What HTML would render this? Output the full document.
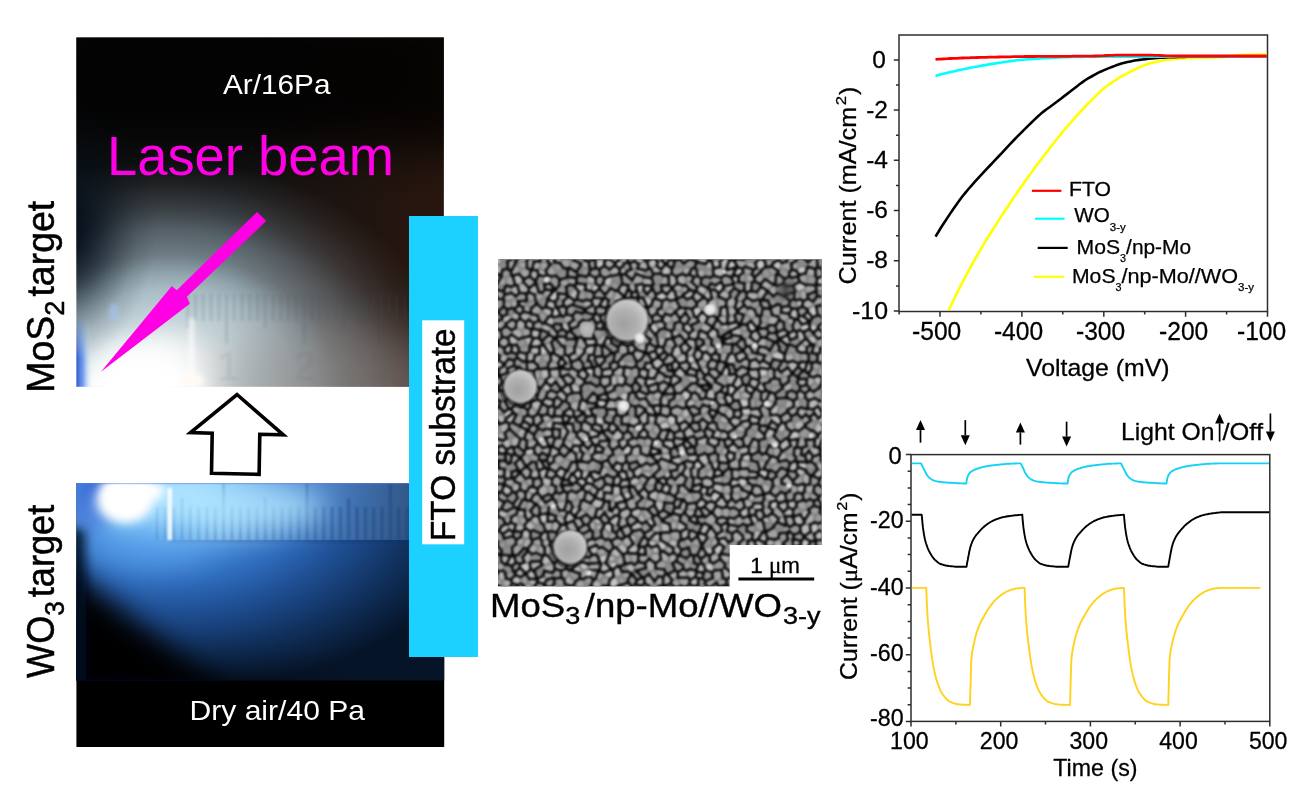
<!DOCTYPE html>
<html lang="en"><head><meta charset="utf-8"><title>Graphical abstract</title>
<style>
html,body{margin:0;padding:0;background:#fff;}
body{width:1299px;height:796px;overflow:hidden;font-family:"Liberation Sans",Arial,sans-serif;}
svg{display:block;}
</style></head><body>
<svg width="1299" height="796" viewBox="0 0 1299 796">
<rect width="1299" height="796" fill="#fff"/>
<defs>
<clipPath id="cpTop"><rect x="76.4" y="37.5" width="367.4" height="349.3"/></clipPath>
<clipPath id="cpBot"><rect x="76.4" y="483" width="367.8" height="197.5"/></clipPath>
<radialGradient id="gHaze" gradientUnits="userSpaceOnUse" cx="0" cy="0" r="1" gradientTransform="translate(168 395) scale(290 235)">
<stop offset="0" stop-color="#ffffff"/>
<stop offset="0.2" stop-color="#f0f3f3"/>
<stop offset="0.32" stop-color="#c6d5da"/>
<stop offset="0.45" stop-color="#a9bcc4"/>
<stop offset="0.52" stop-color="#8fa3ac"/>
<stop offset="0.6" stop-color="#6d7b82"/>
<stop offset="0.7" stop-color="#556168"/>
<stop offset="0.8" stop-color="#373d41"/>
<stop offset="0.9" stop-color="#212426"/>
<stop offset="1" stop-color="#111212"/>
</radialGradient>
<linearGradient id="gBrown" x1="230" y1="0" x2="444" y2="0" gradientUnits="userSpaceOnUse">
<stop offset="0" stop-color="#4a1c08" stop-opacity="0"/>
<stop offset="1" stop-color="#4a1c08" stop-opacity="0.42"/>
</linearGradient>
<radialGradient id="gLD" gradientUnits="userSpaceOnUse" cx="0" cy="0" r="1" gradientTransform="translate(64 228) scale(92 135)">
<stop offset="0" stop-color="#050e1a" stop-opacity="0.96"/>
<stop offset="0.2" stop-color="#050e1a" stop-opacity="0.9"/>
<stop offset="0.4" stop-color="#06101c" stop-opacity="0.66"/>
<stop offset="0.6" stop-color="#06101c" stop-opacity="0.36"/>
<stop offset="0.8" stop-color="#06101c" stop-opacity="0.12"/>
<stop offset="1" stop-color="#06101c" stop-opacity="0"/>
</radialGradient>
<linearGradient id="gBlueEdge" x1="76" y1="0" x2="92" y2="0" gradientUnits="userSpaceOnUse">
<stop offset="0" stop-color="#2c58c8" stop-opacity="1"/>
<stop offset="0.45" stop-color="#6a98f0" stop-opacity="0.9"/>
<stop offset="1" stop-color="#dfeaff" stop-opacity="0"/>
</linearGradient>
<linearGradient id="gBlueEdgeV" x1="0" y1="315" x2="0" y2="387" gradientUnits="userSpaceOnUse">
<stop offset="0" stop-color="#fff" stop-opacity="0"/>
<stop offset="0.6" stop-color="#fff" stop-opacity="1"/>
</linearGradient>
<mask id="mBlueEdge"><rect x="70" y="290" width="40" height="100" fill="url(#gBlueEdgeV)"/></mask>
<radialGradient id="bGlow" gradientUnits="userSpaceOnUse" cx="0" cy="0" r="1" gradientTransform="translate(165 492) scale(325 200)">
<stop offset="0" stop-color="#9cdcff"/>
<stop offset="0.15" stop-color="#74bcf6"/>
<stop offset="0.3" stop-color="#4a8edc"/>
<stop offset="0.45" stop-color="#2f6cbc"/>
<stop offset="0.6" stop-color="#1f4f94"/>
<stop offset="0.8" stop-color="#10305c"/>
<stop offset="1" stop-color="#061428"/>
</radialGradient>
<linearGradient id="bBand" x1="76" y1="0" x2="444" y2="0" gradientUnits="userSpaceOnUse">
<stop offset="0.2" stop-color="#c4ecff" stop-opacity="0"/>
<stop offset="0.32" stop-color="#c4ecff" stop-opacity="0.4"/>
<stop offset="0.6" stop-color="#a8d4f8" stop-opacity="0.28"/>
<stop offset="1" stop-color="#9cc8f0" stop-opacity="0.2"/>
</linearGradient>
<filter id="blur1" filterUnits="userSpaceOnUse" x="0" y="0" width="620" height="796"><feGaussianBlur stdDeviation="0.9"/></filter>
<filter id="blur2" filterUnits="userSpaceOnUse" x="0" y="0" width="620" height="796"><feGaussianBlur stdDeviation="2.2"/></filter>
<filter id="blur5" filterUnits="userSpaceOnUse" x="0" y="0" width="620" height="796"><feGaussianBlur stdDeviation="5"/></filter>
<filter id="blur8" filterUnits="userSpaceOnUse" x="0" y="0" width="620" height="796"><feGaussianBlur stdDeviation="8"/></filter>
<filter id="blur14" filterUnits="userSpaceOnUse" x="0" y="0" width="620" height="796"><feGaussianBlur stdDeviation="14"/></filter>
<filter id="blur25" filterUnits="userSpaceOnUse" x="0" y="0" width="620" height="796"><feGaussianBlur stdDeviation="25"/></filter>
</defs>
<g clip-path="url(#cpTop)">
<rect x="76" y="37" width="369" height="351" fill="url(#gHaze)"/>
<ellipse cx="330" cy="392" rx="150" ry="62" fill="#9aa0a2" fill-opacity="0.62" filter="url(#blur25)"/>
<rect x="76" y="37" width="369" height="351" fill="url(#gBrown)"/>
<rect x="40" y="0" width="440" height="150" fill="#000" fill-opacity="0.85" filter="url(#blur25)"/>
<rect x="76" y="80" width="120" height="300" fill="url(#gLD)"/>
<path d="M187.8 294V328M195.5 294V321M203.3 294V321M211.0 294V321M218.8 294V321M226.5 294V343.5M234.2 294V321M242.0 294V321M249.7 294V321M257.5 294V321M265.2 294V328M272.9 294V321M280.7 294V321M288.4 294V321M296.2 294V321M303.9 294V343.5M311.6 294V321M319.4 294V321M327.1 294V321M334.9 294V321M342.6 294V328M350.3 294V321M358.1 294V321M365.8 294V321M373.6 294V321M381.3 294V343.5M389.0 294V321M396.8 294V321M404.5 294V321M412.3 294V321M420.0 294V328M427.7 294V321M435.5 294V321" stroke="#34465a" stroke-opacity="0.12" stroke-width="3.4" fill="none" filter="url(#blur1)"/>
<text x="228" y="380" font-size="40" text-anchor="middle" fill="#46586a" fill-opacity="0.10" font-family="Liberation Sans, Arial, sans-serif" filter="url(#blur1)">1</text>
<text x="304.7" y="380" font-size="40" text-anchor="middle" fill="#46586a" fill-opacity="0.10" font-family="Liberation Sans, Arial, sans-serif" filter="url(#blur1)">2</text>
<text x="382.3" y="380" font-size="40" text-anchor="middle" fill="#46586a" fill-opacity="0.10" font-family="Liberation Sans, Arial, sans-serif" filter="url(#blur1)">3</text>
<ellipse cx="142" cy="392" rx="68" ry="48" fill="#fff" filter="url(#blur14)"/>
<g filter="url(#blur2)"><rect x="189" y="318" width="5" height="70" fill="#fff" fill-opacity="0.7"/><ellipse cx="192" cy="381" rx="11" ry="8" fill="#fffaf6" fill-opacity="0.95"/><ellipse cx="114" cy="312" rx="5" ry="9" fill="#a8c4f4" fill-opacity="0.6"/></g>
<rect x="76" y="290" width="30" height="98" fill="url(#gBlueEdge)" mask="url(#mBlueEdge)"/>
</g>
<text x="223" y="93.8" font-size="28.5" fill="#fff" textLength="107.5" lengthAdjust="spacingAndGlyphs" font-family="Liberation Sans, Arial, sans-serif">Ar/16Pa</text>
<text x="107" y="174.8" font-size="55.3" fill="#ff00e4" textLength="287" lengthAdjust="spacingAndGlyphs" font-family="Liberation Sans, Arial, sans-serif">Laser beam</text>
<polygon points="257.1,211.9 266.2,221 186.9,296.7 189.8,303.8 101,371.8 171.9,285.9 176.7,290.2" fill="#ff00e4"/>
<rect x="76.4" y="483" width="367.8" height="264" fill="#000"/>
<g clip-path="url(#cpBot)">
<rect x="76" y="483" width="369" height="198" fill="url(#bGlow)"/>
<rect x="76" y="483" width="369" height="57" fill="url(#bBand)"/>
<path d="M156.9 507V540M165.2 507V540M173.6 507V540M181.9 498.5V540M190.2 507V540M198.6 507V540M206.9 507V540M215.3 507V540M223.6 483V540M231.9 507V540M240.3 507V540M248.6 507V540M257.0 507V540M265.3 498.5V540M273.6 507V540M282.0 507V540M290.3 507V540M298.7 507V540M307.0 483V540M315.3 507V540M323.7 507V540M332.0 507V540M340.4 507V540M348.7 498.5V540M357.0 507V540M365.4 507V540M373.7 507V540M382.1 507V540M390.4 483V540M398.7 507V540M407.1 507V540M415.4 507V540M423.8 507V540M432.1 498.5V540M440.4 507V540" stroke="#153c78" stroke-opacity="0.6" stroke-width="1.8" fill="none" filter="url(#blur1)"/>
<rect x="170" y="540" width="275" height="2.5" fill="#0c2c5c" fill-opacity="0.25" filter="url(#blur1)"/>
<polygon points="40,545 40,720 260,720" fill="#000" filter="url(#blur14)"/>
<ellipse cx="120" cy="725" rx="220" ry="50" fill="#00040c" fill-opacity="0.75" filter="url(#blur25)"/>
<rect x="60" y="528" width="26" height="170" fill="#050e24" fill-opacity="0.9" filter="url(#blur5)"/>
<ellipse cx="96" cy="500" rx="22" ry="30" fill="#2c5cd0" fill-opacity="0.95" filter="url(#blur8)"/>
<ellipse cx="205" cy="508" rx="120" ry="25" fill="#b4e8ff" fill-opacity="0.8" filter="url(#blur14)"/>
<ellipse cx="150" cy="545" rx="60" ry="22" fill="#5aa4f0" fill-opacity="0.55" filter="url(#blur14)"/>
<ellipse cx="125" cy="499" rx="28" ry="24" fill="#fff" filter="url(#blur5)"/>
<ellipse cx="135" cy="491" rx="30" ry="12" fill="#fff" filter="url(#blur5)"/>
<g filter="url(#blur1)"><rect x="167.5" y="488" width="4.5" height="52" fill="#fff" fill-opacity="0.85"/></g>
<rect x="76" y="483" width="369" height="1.2" fill="#6a78f0" fill-opacity="0.5"/>
</g>
<text x="189.5" y="720.3" font-size="28.5" fill="#fff" textLength="175.5" lengthAdjust="spacingAndGlyphs" font-family="Liberation Sans, Arial, sans-serif">Dry air/40 Pa</text>
<polygon points="237,394.5 283.3,434.9 259.8,434.3 259.1,474.3 211.5,473.3 212.2,433.2 190.5,432.5" fill="#fff" stroke="#000" stroke-width="3.6" stroke-linejoin="miter"/>
<rect x="409" y="216" width="69" height="441" fill="#1cd0ff"/>
<rect x="422.2" y="320.3" width="42" height="224" fill="#fff"/>
<text transform="translate(455.4 541) rotate(-90)" font-size="34.2" fill="#000" stroke="#000" stroke-width="0.45" textLength="212.5" lengthAdjust="spacingAndGlyphs" font-family="Liberation Sans, Arial, sans-serif">FTO substrate</text>
<text transform="translate(54.2 392.8) rotate(-90) scale(1.008 1.05)" font-size="37.2" fill="#000" stroke="#000" stroke-width="0.45" font-family="Liberation Sans, Arial, sans-serif">MoS<tspan font-size="27" dy="9.5">2</tspan><tspan dy="-9.5" dx="4">target</tspan></text>
<text transform="translate(54.2 677.9) rotate(-90) scale(0.972 1.05)" font-size="37.2" fill="#000" stroke="#000" stroke-width="0.45" font-family="Liberation Sans, Arial, sans-serif">WO<tspan font-size="27" dy="9.5">3</tspan><tspan dy="-9.5" dx="4">target</tspan></text>
<defs><clipPath id="cpSem"><rect x="498.0" y="259.2" width="323.8" height="327.4"/></clipPath>
<filter id="semBlur" filterUnits="userSpaceOnUse" x="480" y="240" width="360" height="365"><feGaussianBlur stdDeviation="1.05"/></filter>
<filter id="semBlur2" filterUnits="userSpaceOnUse" x="480" y="240" width="360" height="365"><feGaussianBlur stdDeviation="3"/></filter>
<radialGradient id="sph" cx="0.42" cy="0.6" r="0.72"><stop offset="0" stop-color="#a0a0a0"/><stop offset="0.45" stop-color="#b0b0b0"/><stop offset="0.78" stop-color="#c8c8c8"/><stop offset="1" stop-color="#dedede"/></radialGradient>
<radialGradient id="sphG" cx="0.5" cy="0.5" r="0.55"><stop offset="0" stop-color="#bcbcbc"/><stop offset="0.7" stop-color="#b2b2b2"/><stop offset="1" stop-color="#9c9c9c"/></radialGradient>
<radialGradient id="sphS" cx="0.5" cy="0.45" r="0.6"><stop offset="0" stop-color="#f4f4f4"/><stop offset="0.7" stop-color="#dcdcdc"/><stop offset="1" stop-color="#a8a8a8"/></radialGradient>
</defs>
<g clip-path="url(#cpSem)">
<rect x="498.0" y="259.2" width="323.8" height="327.4" fill="#0c0c0c"/>
<g filter="url(#semBlur)" stroke-linejoin="round">
<path fill="#848484" stroke="#848484" stroke-width="2.0" d="M498.5 264.8L497.0 267.3L497.0 271.9L499.3 272.5L500.4 268.3L505.3 266.8L505.1 260.0L508.3 258.2L497.0 258.2L497.0 262.8ZM509.9 262.7L510.1 267.6L510.3 267.8L513.3 262.5L512.7 261.1ZM514.9 258.2L513.1 258.2L513.4 260.2ZM519.9 271.4L524.3 276.3L527.6 274.8L528.3 271.5L524.8 269.3L524.5 260.3L525.7 258.2L520.8 258.2L518.3 261.6L518.5 262.8L513.3 272.2L513.5 273.0ZM532.2 259.2L537.9 259.0L537.9 258.2L531.2 258.2L529.2 261.5L529.4 266.6L530.2 267.1ZM543.3 270.1L547.2 264.7L546.0 263.8L545.2 258.2L542.7 258.2L542.3 263.5L535.9 263.8L534.8 267.8L539.0 268.0L540.5 273.1L544.4 274.0ZM552.3 258.2L550.0 258.2L550.4 261.2L552.0 262.4ZM548.4 271.0L549.1 273.2L551.8 274.1L556.9 273.0L560.4 276.9L565.1 275.8L565.3 270.7L562.4 270.3L558.6 265.2L553.3 264.4ZM556.9 260.2L561.1 260.8L565.0 265.9L567.2 266.2L569.0 265.0L575.6 268.7L578.2 265.0L570.7 261.4L571.6 258.2L557.0 258.2ZM582.6 261.9L583.3 265.8L579.0 272.0L579.6 273.3L585.8 274.1L586.8 273.3L587.7 269.7L586.5 263.5L582.7 262.1L582.3 258.2L577.6 258.2L576.6 259.0ZM588.3 259.2L589.9 258.2L587.0 258.2ZM597.4 258.9L598.0 266.3L599.0 266.6L602.1 264.5L602.2 259.5L604.4 258.2L596.4 258.2ZM615.0 260.2L616.7 258.2L612.2 258.2ZM608.5 261.3L606.9 262.2L606.8 264.6L609.4 266.4L612.5 264.1ZM619.5 265.8L621.3 264.3L622.3 261.6L625.3 260.7L625.4 258.2L621.4 258.2L621.4 260.7L617.5 264.2ZM635.0 258.3L641.5 263.3L640.4 266.8L645.3 267.9L646.2 267.2L644.9 263.1L643.1 262.3L641.2 258.2L630.1 258.2L630.0 260.5ZM647.6 258.2L646.4 258.2L646.6 258.8ZM659.7 259.7L660.2 258.2L657.7 258.2ZM659.4 264.9L660.8 266.2L662.4 264.3L660.1 262.0ZM667.7 258.2L665.2 258.2L664.6 259.9L665.6 260.9ZM674.6 258.6L675.2 258.2L673.9 258.2ZM683.9 260.3L686.8 258.2L681.9 258.2ZM694.5 258.2L704.5 261.4L705.9 260.0L704.5 258.2ZM715.4 265.6L717.8 265.0L717.4 260.4L719.8 258.2L713.2 258.2ZM715.9 273.9L720.8 275.2L722.5 273.7L721.8 273.9L727.7 258.2L726.8 258.2L722.3 262.3L722.8 268.6L715.5 270.4ZM730.5 274.4L732.5 270.9L725.7 272.8ZM739.0 265.1L742.1 266.3L744.5 264.0L753.6 267.1L752.7 262.3L756.5 258.2L750.6 258.2L749.7 258.9L748.8 258.2L745.9 258.2L746.8 262.3L737.3 261.4ZM767.3 259.8L767.9 264.6L769.9 264.3L772.1 260.3L776.7 258.2L764.8 258.2ZM782.5 260.2L784.7 259.6L785.1 258.2L780.6 258.2ZM788.5 263.4L781.0 265.5L778.3 262.6L775.5 263.9L774.5 265.7L781.1 269.9L780.5 272.5L784.8 276.2L787.0 275.0L787.2 270.8L789.3 268.8L788.9 262.2ZM794.3 259.2L794.6 258.2L790.0 258.2L788.9 262.2ZM808.1 259.0L808.9 258.2L807.3 258.2ZM820.0 265.6L822.8 264.3L822.8 258.2L819.2 258.2ZM593.3 266.4L592.9 261.9L591.2 262.9L592.0 266.8ZM623.8 271.8L625.5 269.4L628.5 267.9L627.2 265.0L625.8 265.5L625.2 267.0L622.0 269.9L622.0 272.2ZM632.2 264.6L634.4 270.0L636.0 265.0L634.3 263.7ZM634.4 270.2L628.3 273.6L631.6 276.6L634.8 270.8L645.2 274.9L650.2 275.5L650.8 274.0L649.1 270.9L646.4 272.9ZM649.6 262.5L650.9 266.4L652.3 267.1L654.8 271.4L659.6 271.3L654.1 266.5L655.2 262.2L653.0 260.5ZM664.1 273.3L669.2 273.2L669.4 269.8L666.1 267.2L662.4 271.6ZM671.3 283.9L672.2 284.7L674.9 282.5L674.1 277.9L670.8 276.1ZM669.3 263.8L671.2 265.2L671.9 262.5L670.8 261.9ZM675.1 268.8L674.1 269.7L674.0 272.5L676.4 273.8L683.1 271.1L685.9 273.0L687.2 272.6L690.2 266.7L693.0 265.8L693.7 262.9L690.2 261.6L683.4 266.5L678.7 261.6L676.6 262.8ZM706.0 266.5L698.1 264.7L697.5 267.1L698.9 269.1L699.7 274.5L701.6 275.8L704.8 274.2L710.0 275.1L711.2 274.5L710.6 269.3L711.2 268.1L709.7 262.9ZM731.1 262.6L729.4 266.9L734.0 265.6L732.7 262.8ZM736.5 273.4L738.2 273.4L740.7 271.5L740.6 270.7L738.3 269.9ZM755.6 271.4L754.7 274.1L758.6 270.7L758.6 269.9ZM763.3 265.7L762.9 262.6L760.4 261.0L757.9 263.6L759.2 268.7ZM802.8 260.4L799.1 259.5L798.2 262.3L793.8 264.8L793.9 267.7L797.4 268.3L800.2 272.3L803.8 271.3L805.3 265.9L807.1 264.5ZM815.2 266.3L814.7 260.3L813.7 259.9L809.1 264.8ZM502.2 288.8L503.1 285.3L505.8 282.9L510.9 284.3L512.5 283.6L510.6 277.5L509.4 277.1L508.7 272.9L507.0 271.2L504.3 272.0L503.6 274.8L504.4 275.9L498.2 286.6L497.0 287.2ZM532.3 275.5L534.7 277.6L536.1 274.9L535.4 272.5L532.9 272.4ZM569.8 274.8L575.4 275.3L574.5 273.5L570.0 271.0ZM591.7 273.3L595.5 275.1L597.6 273.9L597.3 271.0L595.8 270.6L592.1 271.7ZM604.4 268.7L601.9 270.3L602.3 273.8L604.9 275.6L611.2 273.1L612.1 273.5L617.3 272.3L617.3 270.0L614.9 268.2L609.5 272.3ZM694.4 270.8L693.5 270.5L692.1 273.4L694.9 274.6ZM694.5 281.4L698.3 285.0L698.9 279.7L696.4 278.0ZM698.7 290.2L705.5 294.8L708.3 297.7L709.1 297.3L708.0 291.3L705.8 289.7L700.1 286.9ZM745.6 269.4L745.2 269.8L745.9 273.4L741.2 276.9L740.9 280.2L746.8 281.3L746.8 289.8L749.0 289.2L749.9 280.6L752.3 279.8L752.2 278.4L748.9 274.6L750.6 271.0ZM763.4 271.5L763.4 272.8L756.9 278.4L757.1 280.0L760.0 281.4L763.6 277.3L766.4 277.1L773.2 281.8L773.9 273.4L775.6 272.0L770.8 268.9L766.2 269.4ZM794.7 272.6L792.5 272.2L791.8 272.9L791.7 275.3L796.1 274.6ZM801.4 280.1L806.1 282.4L814.0 282.8L814.7 278.9L813.2 277.1L813.1 270.6L809.2 269.7L807.6 275.2L800.7 277.0ZM817.9 275.4L820.8 274.3L819.7 270.3L817.8 270.3ZM498.3 277.1L497.0 276.7L497.0 279.4ZM517.3 283.2L519.5 283.9L521.3 290.7L526.2 290.9L526.5 288.8L520.7 282.7L521.2 279.9L518.3 276.6L515.5 277.3ZM529.3 279.2L525.8 281.2L529.3 284.9L532.9 282.3ZM538.0 281.6L541.3 290.3L542.5 288.7L541.5 282.2L551.2 281.0L555.6 286.2L556.8 284.6L557.1 280.4L555.2 278.2L551.6 278.9L547.7 277.7L545.9 279.1L539.9 277.8ZM554.1 299.3L555.5 297.5L555.6 292.3L550.8 298.2ZM564.4 291.7L563.8 286.0L569.1 282.3L573.6 283.1L574.2 279.9L568.5 279.4L561.8 281.4L561.4 286.4L557.7 291.0ZM589.3 277.3L587.1 279.2L579.4 278.0L578.8 281.3L588.2 282.3L587.8 288.0L592.5 289.1L593.9 290.3L597.3 287.6L593.4 284.8L593.3 279.3ZM601.0 282.6L601.9 279.2L600.0 277.9L598.0 279.1L598.0 282.4L599.7 283.5ZM606.6 279.9L605.2 285.5L602.0 287.7L604.9 291.3L610.1 285.3L616.1 288.3L620.0 283.0L618.8 276.7L610.9 278.2ZM632.7 284.0L624.5 276.5L623.6 276.7L624.6 282.2L630.7 283.2L630.5 287.7L632.6 289.9L634.1 289.6L633.2 283.1ZM642.9 281.6L644.9 283.1L650.7 283.3L649.9 280.2L642.2 279.3L641.7 278.4L636.9 276.6L633.4 282.9ZM646.2 287.8L646.1 289.6L647.0 290.7L649.4 287.9ZM656.8 291.6L659.6 290.0L658.3 283.2L666.5 282.8L666.2 277.9L662.2 278.0L660.2 276.0L655.0 276.1L654.2 278.1L656.1 285.0L654.4 286.9ZM688.7 277.1L685.1 278.1L682.6 276.4L678.9 277.9L679.5 281.7L683.0 283.1L685.8 282.1L691.3 287.7L694.1 288.8L694.5 287.9L688.6 282.2L691.0 278.0ZM695.0 296.9L697.1 299.5L700.4 297.0L696.2 294.1ZM719.8 279.8L714.0 278.3L710.8 280.1L705.5 279.1L703.6 280.1L703.3 283.2L706.9 284.9L709.9 280.5L715.4 282.5ZM724.9 283.5L730.9 282.2L729.2 279.0L725.2 277.6L723.0 279.6ZM735.9 281.7L736.4 278.1L734.1 278.2ZM735.6 286.0L740.6 289.1L742.0 288.8L742.1 285.2L736.2 284.2ZM725.9 288.1L725.9 290.0L721.0 294.5L720.9 295.3L726.1 297.5L727.8 296.2L727.1 292.3L732.3 286.7ZM781.3 282.3L781.9 279.9L778.3 276.8L777.8 283.2ZM796.7 280.6L796.4 279.3L790.7 280.3L789.1 279.2L786.5 280.6L785.9 283.4L791.5 283.8ZM822.8 282.7L822.8 278.6L819.3 280.0L818.8 282.6ZM497.7 292.5L499.5 296.7L501.3 296.8L502.3 293.7ZM511.8 290.3L515.8 293.3L516.8 292.2L515.5 287.5L511.2 289.2L507.2 288.2L506.3 291.7ZM531.2 289.4L531.0 290.7L536.7 293.0L537.9 300.1L539.2 302.6L542.6 305.8L543.6 305.2L545.2 299.8L544.6 298.6L549.4 292.3L546.0 291.9L543.2 295.4L537.2 294.2L534.7 286.8ZM547.0 287.3L550.8 287.8L549.2 286.0L546.9 286.2ZM561.3 304.1L560.8 300.0L565.0 296.4L560.2 296.0L560.2 299.1L557.5 302.7L557.9 305.0ZM574.7 297.7L576.2 292.3L572.7 287.7L570.2 287.3L568.8 288.2L569.4 294.0ZM581.4 291.3L579.5 297.8L582.7 298.6L586.7 297.3L590.3 298.1L591.4 296.8L591.5 294.4L590.3 293.5L582.8 291.7L583.2 286.5L577.4 285.9ZM623.7 293.1L625.8 287.1L623.0 286.7L620.6 290.0ZM641.6 286.5L638.5 286.9L640.5 295.5L644.8 295.6L648.7 304.4L651.1 298.4L653.1 297.0L653.4 295.2L651.9 292.3L646.9 298.0L641.3 291.1ZM663.9 287.7L664.3 289.8L666.3 291.3L669.2 288.3L668.2 287.4ZM676.7 289.9L678.3 295.6L680.6 294.7L680.6 293.8L686.4 289.5L684.5 287.5L682.9 288.1L677.8 286.1L675.1 288.3ZM715.1 287.4L711.7 286.2L710.8 287.5ZM718.8 290.1L721.2 287.9L720.4 285.0L716.1 287.6ZM758.3 285.8L754.2 284.1L753.7 289.1L756.0 289.4ZM769.5 289.2L773.4 293.3L776.8 290.6L783.4 292.9L792.1 290.0L791.4 288.5L784.5 288.4L782.7 286.8L776.5 288.4L774.6 287.2L772.8 287.2L765.5 282.2L763.0 285.1ZM797.8 291.3L796.8 292.6L796.4 297.6L801.1 296.9L803.4 298.3L805.5 297.3L804.9 293.1L813.8 289.5L813.5 287.4L807.8 286.9L806.5 287.9L799.5 284.4L795.8 286.7ZM818.2 287.3L819.2 294.0L822.8 294.4L822.8 287.4ZM497.0 301.3L497.0 308.3L497.5 308.8L501.4 305.3L501.6 301.5ZM505.6 298.8L506.4 299.8L506.1 305.4L507.8 306.8L512.5 305.6L514.1 306.4L515.9 304.1L515.2 299.1L515.8 299.1L510.8 295.4L506.3 296.6ZM524.2 298.5L524.2 295.8L520.3 295.3L516.7 299.0ZM525.3 305.8L525.5 309.9L528.7 310.4L529.1 307.0L534.1 303.0L532.5 296.3L528.9 294.9L529.0 302.9L520.8 303.4ZM602.9 296.2L599.3 292.0L596.2 294.5L596.2 295.5ZM611.3 299.1L610.4 304.6L613.7 306.2L614.7 305.3L614.0 300.6L621.2 297.2L616.9 292.9L615.5 293.3L611.2 291.2L606.9 296.2ZM619.1 303.4L619.4 304.9L622.8 307.7L622.9 312.0L627.4 315.1L628.5 309.3L625.9 306.9L624.2 301.0ZM628.9 295.8L629.2 293.2L628.9 292.8L627.4 296.3ZM627.6 319.4L630.4 322.7L634.0 320.0L628.5 315.9ZM635.5 294.2L633.8 294.5L633.7 295.3L635.8 295.4ZM640.0 305.1L644.0 305.4L641.7 300.2L640.3 300.2ZM662.0 294.0L658.0 296.3L657.9 296.8L662.3 298.3L665.7 296.7ZM670.5 298.3L674.0 297.6L672.2 292.0L667.9 296.6ZM681.6 305.4L691.4 306.3L694.3 304.7L694.3 303.6L691.6 300.1L686.7 302.0L682.6 299.0L679.1 300.4ZM687.4 296.7L690.5 295.4L691.6 292.9L690.4 292.4L686.0 295.7ZM712.9 292.1L714.4 299.8L710.3 302.0L710.1 303.8L714.7 307.8L714.6 313.9L716.7 315.0L717.8 314.3L718.5 306.0L723.9 304.5L724.0 301.8L715.7 298.2L716.3 294.2L714.0 292.1ZM733.5 320.1L732.1 314.8L734.6 311.9L732.3 307.6L734.2 301.2L732.8 299.1L736.9 292.4L734.7 291.0L732.2 293.8L732.9 298.1L728.8 301.4L728.5 305.3L729.1 305.8L730.6 316.9L730.0 317.5L729.8 321.1ZM744.0 293.5L741.6 293.7L738.4 298.9L739.4 300.4L737.6 307.3L741.4 304.5L740.2 301.1L744.3 296.6ZM764.5 291.6L761.4 289.7L758.2 294.6L751.3 293.5L748.8 294.1L749.0 296.0L753.2 298.4L759.3 297.0L760.4 297.8ZM762.8 302.6L764.3 306.0L767.7 306.1L766.4 302.9ZM769.6 298.4L772.1 304.4L777.3 301.6L781.2 302.7L782.6 304.5L786.9 303.8L787.4 301.7L783.0 297.7L777.7 295.9L773.2 299.4L768.1 294.7L765.8 298.1ZM790.4 298.1L791.7 297.5L791.9 295.0L788.2 296.1ZM810.3 297.2L812.5 298.6L814.8 295.7L814.4 294.3L810.1 296.1ZM552.9 303.8L549.3 302.6L548.5 305.4L553.6 307.3ZM554.1 314.6L557.7 314.0L555.1 309.3ZM565.7 301.9L566.0 304.4L566.6 304.7L572.4 301.9L568.8 299.3ZM576.1 303.7L585.3 306.6L589.9 304.0L589.5 302.7L586.9 302.2L582.8 303.4L576.9 302.1L575.6 302.7ZM568.9 308.9L568.8 312.4L571.4 313.0L575.1 309.0L581.5 310.9L581.9 310.5L572.4 307.1ZM593.2 312.0L593.0 307.6L587.8 310.6ZM597.3 304.4L599.6 300.6L594.8 300.1L593.9 301.2L595.3 305.3ZM602.6 304.7L605.3 305.4L606.2 301.4L605.1 300.6ZM631.3 299.9L629.0 300.7L630.1 304.4L631.6 305.8L635.3 304.7L635.6 300.1ZM650.5 312.7L651.8 314.0L654.6 312.0L656.4 306.9L659.1 306.4L659.8 302.4L655.1 301.4L653.3 307.0L650.1 309.2ZM663.2 310.3L660.0 311.0L659.4 312.6L662.0 314.4L664.1 311.0L670.5 312.9L677.1 306.9L674.8 302.3L669.5 303.2L666.7 301.4L664.5 302.4ZM703.9 300.2L699.0 303.9L699.1 307.5L694.7 309.9L696.3 314.9L701.8 308.4L708.7 314.2L709.9 313.7L710.0 309.9L705.2 305.8L705.6 301.6ZM749.7 305.1L756.3 307.7L758.6 313.5L759.3 313.6L760.4 308.7L758.2 304.7L758.1 302.1L752.4 303.4L747.2 300.4L745.6 302.2L746.3 303.9L748.3 305.7ZM792.0 302.5L791.5 305.0L792.8 306.3L796.8 306.6L799.9 305.1L800.6 302.1L795.2 302.6L793.7 301.7ZM808.0 301.3L805.3 302.6L804.7 305.4L810.0 307.8L810.0 310.5L813.3 314.6L815.1 313.7L813.5 304.7ZM821.7 302.6L822.8 303.5L822.8 299.1L818.4 298.7L814.0 304.2ZM502.7 313.9L504.8 312.8L504.8 310.5L503.7 309.5L501.1 311.9ZM509.5 311.2L509.4 315.7L504.3 318.3L504.2 320.8L497.9 323.7L498.4 327.1L500.0 327.5L503.3 325.0L503.1 323.0L511.3 316.7L516.1 318.6L517.6 317.5L517.6 315.7L513.3 312.9L512.7 311.1L511.9 310.6ZM519.9 311.6L520.9 310.8L520.8 308.7L519.0 307.8L517.3 309.9ZM539.3 313.3L541.3 319.2L543.0 320.7L547.1 314.7L549.5 314.1L550.0 310.9L545.8 309.4L541.8 311.6L536.8 306.8L533.6 309.5L533.2 312.0ZM564.1 313.0L564.2 308.8L560.6 309.1L562.9 313.9ZM604.1 309.9L599.2 308.7L597.8 309.4L597.9 311.9L599.9 312.6L604.2 311.8ZM608.9 312.4L610.5 313.6L611.3 310.3L608.8 309.0ZM618.2 311.7L618.1 310.0L617.3 309.3L616.2 310.2L615.6 312.8ZM638.3 309.6L637.2 309.0L633.1 310.3L632.6 313.1L638.4 317.4L638.8 319.6L640.5 321.0L642.9 320.7L649.1 323.0L650.4 321.5L649.4 318.3L646.0 314.8L645.5 310.2ZM680.2 315.0L684.1 310.4L680.8 310.1L678.3 312.0ZM692.1 318.6L689.7 323.2L695.7 320.5L695.3 319.5L692.5 318.5L690.1 310.9L687.0 310.4ZM685.9 326.1L685.7 328.3L688.7 330.6L690.2 329.4L688.1 325.4ZM712.1 317.9L710.0 318.7L708.7 321.7L711.7 323.7L714.2 319.0ZM722.9 321.7L725.1 321.5L725.6 315.2L724.8 309.1L722.9 309.7L722.3 316.8L720.0 318.4ZM746.8 313.3L743.7 322.3L745.9 322.1L751.2 317.4L757.0 324.5L758.1 322.2L757.8 318.2L755.3 317.9L752.7 311.3L749.9 310.2L747.5 311.2L744.2 308.3L740.3 311.2ZM762.9 323.1L761.4 326.1L765.6 326.0L767.0 323.0L774.3 322.9L776.9 319.7L776.5 318.7L770.3 316.9L768.7 310.9L764.7 310.7L763.4 316.9L762.4 317.4ZM774.2 313.2L778.4 314.4L779.2 307.7L778.4 306.8L773.2 309.2ZM780.0 314.9L781.4 318.4L785.9 320.8L786.6 328.1L789.0 330.3L791.1 329.3L790.1 325.5L792.3 320.5L788.5 319.3L787.4 315.9L779.2 314.6ZM783.6 310.6L787.9 311.2L789.0 309.1L788.1 308.3L783.7 309.1ZM791.4 337.1L794.6 335.7L794.3 332.9L790.6 334.8ZM800.0 327.6L803.3 329.4L807.3 327.7L807.3 325.6L800.6 327.1L796.9 321.7L795.0 325.9L795.8 329.0ZM796.4 315.7L795.4 311.2L793.2 311.1L791.8 314.0L792.2 315.6L795.8 316.7ZM800.7 313.6L802.0 313.6L805.0 310.7L802.0 309.3L800.0 310.3ZM821.9 314.3L822.8 313.5L822.8 309.6L820.5 307.7L818.9 308.0L819.8 313.4ZM497.0 318.9L499.7 317.6L497.4 314.8ZM523.9 314.4L522.3 315.6L522.3 317.4L525.5 319.3L528.8 316.9L533.9 320.4L536.4 319.3L535.7 317.3L529.9 316.1L529.3 315.3ZM553.7 321.6L563.3 321.7L564.1 327.5L567.4 329.5L568.0 329.2L565.8 322.8L570.9 318.9L570.5 317.6L566.9 316.8L563.3 319.4L560.9 318.2L552.6 319.6L551.0 318.5L550.0 318.8L547.8 322.0L551.8 323.7ZM584.5 314.5L582.9 316.2L576.6 314.3L574.9 316.2L576.5 320.6L571.4 324.5L572.0 326.3L576.5 324.3L576.8 321.7L582.1 317.5L587.2 318.7L591.1 316.3ZM597.1 320.5L598.7 320.0L597.8 316.9L596.2 316.3L595.3 317.2ZM606.1 316.2L602.7 316.9L603.7 320.2L605.1 321.4L606.4 320.8L607.4 317.1ZM610.2 324.9L615.6 322.0L612.6 318.1L612.0 318.1L610.3 324.1L606.2 326.6L610.4 328.2ZM620.0 320.2L623.1 317.9L620.3 315.9L617.7 317.0ZM654.8 319.8L660.0 318.8L656.6 316.4L654.2 318.0ZM671.0 328.4L671.7 327.9L672.6 321.3L677.7 319.8L674.9 315.4L671.4 318.1L666.2 316.6L664.9 318.7L664.7 320.0L667.6 323.1L667.4 327.3ZM684.2 321.7L685.4 321.3L686.7 318.8L685.2 316.4L682.0 320.2ZM702.4 315.0L699.8 318.0L702.0 322.9L693.9 326.4L696.1 330.6L691.2 334.7L691.3 336.5L695.1 337.2L695.7 336.6L697.0 330.1L700.0 327.7L706.7 330.6L709.5 327.9L702.7 323.5L705.4 317.5ZM740.8 316.3L737.9 315.3L737.3 316.0L739.1 321.0ZM802.7 321.8L805.7 321.1L802.2 318.2L800.3 318.3ZM812.0 328.3L813.5 329.8L815.9 327.3L816.1 324.9L822.3 319.7L817.8 317.7L814.3 319.3L812.0 323.0ZM809.8 317.7L807.5 314.8L806.5 315.7L809.5 318.2ZM512.0 327.4L513.5 326.5L513.9 322.8L512.0 322.1L508.3 324.9ZM505.8 328.9L503.2 331.0L504.1 335.0L507.1 335.3L510.6 332.1ZM518.9 336.6L521.3 335.4L528.6 334.1L528.8 331.0L523.4 328.7L523.3 323.4L520.1 321.5L518.6 322.6L517.9 329.3L512.7 332.4ZM528.0 323.2L528.1 325.5L530.7 326.7L531.2 324.2L528.9 322.7ZM535.5 326.9L539.9 327.6L540.5 327.1L550.1 330.9L551.1 333.2L554.4 335.3L555.4 334.2L551.0 328.4L544.2 325.5L542.3 326.2L538.9 323.3L535.8 324.7ZM564.1 334.4L564.5 333.2L562.2 331.8L559.3 334.1ZM559.4 327.9L559.2 326.4L555.5 326.6L557.6 329.4ZM578.3 335.4L581.5 333.9L583.9 336.2L591.4 336.5L589.3 330.0L593.5 327.4L593.6 323.9L592.1 321.2L588.1 323.8L583.3 322.6L581.3 324.2L580.9 327.5L573.4 330.8ZM601.0 324.1L598.3 325.1L598.2 326.6L600.8 326.8L601.8 324.9ZM615.0 327.7L615.1 329.1L617.2 331.0L619.1 329.7L618.2 325.9ZM624.5 328.9L627.6 326.7L624.5 323.0L622.6 324.1L623.7 328.7ZM619.0 341.4L626.6 335.5L631.7 336.7L634.4 334.6L634.3 332.7L636.4 330.0L637.3 324.4L636.7 323.9L632.2 327.2L632.1 329.7L625.5 333.8L622.3 333.3L613.5 340.1L613.7 341.5L617.6 344.0ZM647.4 327.3L641.8 325.5L640.9 331.9L639.1 334.4L640.1 335.1L645.9 333.3L653.5 338.8L652.2 342.3L655.8 344.5L654.7 338.0L647.3 329.2ZM653.9 324.5L652.1 326.7L652.0 327.6L655.2 331.4L657.9 327.8L662.7 326.2L662.8 324.9L661.3 323.3ZM680.3 332.2L685.6 338.1L686.7 337.3L686.5 334.9L680.7 330.4L681.3 325.4L679.5 324.2L676.8 325.0L676.1 330.3L674.1 332.0L674.5 335.1ZM719.7 329.4L720.3 334.7L727.8 329.6L736.7 325.2L735.8 324.4L727.0 326.8L726.3 326.1L721.0 326.6L717.6 322.7L715.5 326.7ZM733.4 332.8L742.7 334.3L743.9 336.6L746.1 337.7L748.0 344.0L749.7 344.1L752.7 342.6L747.3 337.7L748.9 333.2L747.1 332.0L745.3 326.8L741.8 327.1L741.6 328.1L733.1 332.2ZM749.7 325.1L751.0 328.9L752.0 329.5L754.2 328.5L750.7 324.2ZM762.5 335.1L764.7 335.2L766.2 332.7L765.5 330.7L760.3 330.9ZM770.0 327.7L769.6 328.4L770.4 330.7L774.0 330.7L773.5 327.6ZM778.5 329.1L781.8 327.7L781.4 323.7L780.2 323.1L778.0 325.9ZM820.6 327.4L822.4 328.9L822.8 328.5L822.8 325.4ZM498.6 332.0L497.0 331.6L497.0 339.0L499.6 336.4ZM533.2 335.1L534.0 335.8L537.2 335.8L537.9 332.0L533.5 331.4ZM542.5 332.9L541.8 337.7L546.0 334.3ZM572.8 336.7L569.5 333.7L569.2 333.8L568.3 336.7ZM577.6 347.3L576.9 348.0L576.9 353.8L571.4 356.9L572.5 359.1L577.1 357.1L582.2 351.2L582.1 348.8L584.6 345.8L580.6 339.5L579.4 340.1ZM606.1 334.0L610.8 336.3L613.8 334.3L612.3 332.9L610.8 333.4L603.7 330.7L602.7 331.7L596.4 331.1L594.9 332.0L598.3 340.2L598.5 342.6L601.1 343.5ZM658.5 334.9L660.6 344.6L662.4 344.2L664.6 337.3L669.9 336.6L669.4 332.9L663.9 330.8L660.8 331.8ZM700.5 336.5L705.2 338.7L706.5 344.8L701.3 348.6L703.5 350.2L707.1 349.4L711.1 352.8L713.1 351.2L713.7 348.9L708.9 346.1L709.3 340.5L706.6 338.8L705.3 335.1L701.2 333.3ZM713.2 330.8L709.9 334.0L710.5 335.7L714.2 338.1L713.8 343.5L716.7 345.3L719.8 344.4L719.5 340.0L715.9 337.5L715.3 332.2ZM729.2 335.4L729.1 334.8L726.2 336.6ZM758.3 337.2L756.0 332.9L753.6 333.9L752.8 336.3L756.4 339.6ZM774.8 339.4L776.0 338.9L774.7 335.4L770.1 335.3L769.1 337.0ZM782.0 347.1L781.6 349.6L783.6 350.8L785.3 346.7L779.9 342.7ZM779.9 335.8L785.4 333.3L783.9 331.9L779.2 334.0ZM786.7 337.9L783.3 339.4L788.2 342.8L788.3 342.7ZM795.8 344.4L803.0 337.8L801.3 333.7L799.5 332.7L799.1 332.8L799.7 338.6L790.8 342.4ZM812.7 342.0L817.2 342.9L814.6 351.1L817.0 351.8L817.9 351.0L818.1 346.8L822.8 344.8L822.8 340.0L816.9 341.3L809.1 332.0L806.2 333.3L807.6 336.8ZM818.4 336.0L822.3 335.0L818.3 331.6L816.2 333.7ZM822.7 334.9L822.8 334.6L822.4 335.0ZM503.9 345.3L506.9 343.2L506.0 339.9L503.0 339.6L500.9 341.7L501.1 343.6ZM511.5 342.5L517.7 342.3L520.9 347.3L521.1 350.1L526.3 351.1L527.3 350.2L527.2 346.9L530.3 338.8L523.6 339.7L518.4 342.0L511.7 337.4L510.5 338.5ZM538.5 344.2L539.8 342.8L538.0 340.5L534.7 340.5L533.1 344.6ZM544.4 341.9L550.8 351.2L551.0 351.0L551.4 350.2L548.8 342.2L551.2 338.8L549.4 337.6ZM554.0 343.0L556.5 350.5L555.9 351.8L561.0 354.8L562.6 354.4L562.4 348.6L561.0 348.3L555.0 341.5ZM568.7 362.8L566.6 357.8L564.3 356.8ZM565.6 366.6L569.3 366.8L568.9 363.9ZM563.4 344.0L567.0 344.6L567.3 353.0L568.2 353.4L572.2 351.1L572.2 345.8L573.4 344.7L574.2 341.4L564.9 341.4L564.1 339.1L558.9 338.8ZM593.8 342.6L593.4 341.2L587.2 341.0L588.6 343.4ZM606.1 344.1L613.6 350.7L615.6 349.8L615.7 348.4L609.2 344.3L608.8 340.5L608.1 340.2ZM607.1 359.0L607.5 361.5L602.5 366.4L603.1 367.4L607.9 366.3L607.3 362.9L611.2 360.2L612.0 355.7ZM627.5 343.3L631.1 341.4L627.7 340.6L625.4 342.4ZM638.1 347.9L643.6 349.6L644.6 343.4L647.3 341.8L647.8 340.5L645.1 338.5L639.3 340.3L636.9 338.6L633.5 341.3ZM657.9 360.1L654.3 362.6L655.3 365.6L657.5 366.9L661.5 363.0ZM665.5 362.2L670.6 361.5L672.8 359.6L669.8 356.6ZM671.3 346.8L673.2 345.1L671.3 341.1L668.2 341.6L666.6 346.8L665.5 347.8L666.3 350.2L669.5 352.7ZM675.5 349.4L674.0 354.1L677.7 358.0L677.9 359.1L679.8 360.9L684.4 359.8L684.5 356.4L680.7 354.5L677.9 347.2ZM682.3 341.3L679.2 338.0L675.8 339.7L678.3 344.8ZM693.7 347.9L688.4 353.7L689.3 354.9L689.1 360.5L692.2 363.1L692.1 366.0L696.8 368.1L697.3 367.7L691.1 355.3L693.9 348.5L693.5 341.7L689.7 340.9L688.3 341.9ZM699.2 357.0L700.3 353.7L697.6 351.8L696.2 355.1L697.6 357.9ZM701.2 342.8L701.1 341.9L698.1 340.7L698.4 344.9ZM726.0 341.7L734.8 341.8L738.6 338.4L733.5 337.6L733.2 338.9ZM739.3 344.0L742.8 347.2L743.6 345.9L742.3 341.4ZM737.9 356.0L739.4 359.1L744.1 356.3L742.4 353.8ZM756.5 345.9L753.2 347.6L754.5 350.6L755.4 350.8ZM767.1 345.2L769.1 347.0L771.4 343.1L764.7 339.9L762.2 339.8L758.9 343.9ZM805.7 341.6L799.0 347.8L799.3 349.1L800.8 350.2L804.4 350.3L804.5 346.1L807.9 343.8ZM502.5 355.2L501.4 359.3L503.9 360.9L507.4 356.3L513.4 357.8L514.8 355.7L511.4 354.8L506.4 356.5L502.9 354.3L501.9 349.6L499.1 347.9L497.0 349.0L497.0 350.4ZM509.1 350.6L509.4 347.2L506.6 349.1L507.1 351.3ZM515.3 347.2L514.1 347.3L513.8 350.6L516.4 351.3L516.3 348.8ZM519.5 356.4L523.6 359.1L524.2 359.1L524.5 355.5L519.6 354.6ZM531.7 359.2L533.0 353.3L537.3 352.2L537.3 349.0L532.2 349.4L531.7 352.6L529.3 354.8L528.8 359.4ZM542.0 347.4L542.0 355.8L536.9 357.2L536.2 360.6L539.8 364.0L540.5 366.7L545.7 366.1L546.4 362.4L548.4 359.8L548.3 355.8ZM585.0 362.4L587.2 352.9L591.8 352.5L592.8 347.5L588.7 348.2L586.9 350.4L587.0 352.9L582.1 358.5ZM585.4 362.9L585.5 365.9L589.5 365.6L588.8 363.6ZM592.9 357.1L591.0 357.3L590.6 359.2L592.4 359.8ZM600.2 354.1L599.4 347.9L597.6 347.3L596.2 354.3ZM594.3 365.0L594.6 364.8L592.4 360.0ZM596.2 369.3L596.4 374.1L599.4 375.1L599.5 370.6L598.2 368.2ZM602.5 359.8L602.3 358.7L597.3 359.3L599.1 363.2ZM608.5 352.4L604.5 348.6L604.3 348.6L605.0 354.7ZM602.5 383.2L604.7 384.7L608.0 382.8L608.0 378.9L602.6 379.1ZM620.9 353.9L626.0 351.9L625.4 347.5L621.9 346.0L620.5 348.0L620.1 352.9L617.0 354.3L616.1 359.9L616.8 360.0L620.9 355.2ZM631.4 346.5L630.1 347.2L630.6 351.1L631.4 351.1L633.3 349.1ZM642.7 361.6L638.8 363.4L638.6 365.3L640.1 366.9L641.9 366.6L644.2 360.8L649.3 360.5L646.2 356.0ZM653.8 348.7L649.3 346.1L648.1 350.8ZM659.0 353.1L661.6 350.8L661.1 349.4L659.0 349.2L657.7 349.9ZM682.9 347.0L684.6 350.9L687.4 347.9L684.9 345.2ZM723.2 348.3L718.4 349.7L717.9 351.5L722.0 354.0L721.8 359.4L724.0 359.9L727.0 352.3L729.6 351.5L730.2 346.5L724.1 346.3ZM735.0 362.4L736.7 367.7L741.6 363.9L746.8 366.0L747.3 361.9L746.1 360.6L739.9 364.3L735.3 362.6L732.7 355.4L730.6 356.1L728.4 361.5ZM739.1 350.2L735.1 346.5L734.9 346.5L734.2 352.5ZM746.1 350.8L748.6 354.5L748.8 356.6L750.4 358.4L756.4 356.5L759.8 359.9L761.0 359.0L761.8 357.0L751.1 354.6L748.6 348.8L747.4 348.7ZM770.3 354.3L765.1 349.7L760.6 349.2L760.1 351.7L768.2 353.9L765.9 359.5L769.5 361.5L771.7 356.6L782.1 358.6L782.2 355.4L776.5 352.1L777.1 347.9L775.7 344.9ZM786.8 359.2L787.9 359.9L793.0 358.5L798.2 360.7L800.4 359.4L806.3 359.5L806.3 355.4L799.3 354.8L795.1 352.0L794.4 348.8L790.2 347.2L786.9 355.0ZM807.4 370.2L807.9 370.5L809.4 367.5L809.2 364.1ZM815.0 359.8L815.2 356.2L811.0 355.0L811.0 360.3ZM810.8 347.5L809.1 348.7L809.4 351.9ZM822.7 349.9L822.5 353.3L819.9 355.5L820.1 360.7L822.8 358.6ZM497.2 356.9L497.0 356.7L497.0 357.6ZM497.0 365.7L498.4 366.6L501.1 364.7L498.1 362.7ZM556.6 366.1L555.8 363.2L557.8 358.4L553.0 355.6L553.1 361.3L550.8 364.3L550.3 366.8ZM624.5 364.3L631.6 365.7L634.0 364.6L634.2 362.4L631.0 355.8L628.9 355.8L625.4 357.2L620.3 363.1L620.8 364.5L623.7 365.0ZM639.5 357.9L641.9 354.0L636.6 352.3L635.3 353.9L637.6 358.8ZM655.2 356.2L654.1 353.6L651.1 354.7L653.0 357.6ZM662.8 358.0L665.0 355.2L664.4 354.6L661.6 357.1ZM705.5 372.7L706.3 372.1L706.8 369.5L705.1 367.0L705.9 361.8L709.0 358.5L708.8 357.0L705.8 354.5L704.9 354.7L703.2 360.2L699.8 362.0L702.4 368.5ZM717.1 358.8L717.2 356.6L715.4 355.5L713.5 356.9L713.6 357.6ZM718.5 368.6L720.4 370.6L723.1 364.6L719.9 363.8ZM731.5 368.6L731.6 372.1L733.5 372.0L731.5 366.7L730.1 366.5ZM505.2 371.2L505.1 367.7L500.9 370.5L501.3 372.9ZM511.9 364.1L511.8 362.2L509.3 361.6L506.9 364.7L507.2 366.1ZM516.5 361.3L516.6 364.4L519.1 364.5L524.7 368.1L524.5 363.8L522.2 363.8L517.3 360.6ZM533.2 368.4L535.7 367.0L535.6 366.5L532.7 363.9L529.2 364.1L529.4 368.4ZM550.7 383.1L556.2 378.1L561.6 385.9L563.7 384.1L560.2 378.8L557.8 377.6L557.4 370.7L551.5 371.4L552.5 377.1L548.4 380.8ZM562.9 362.8L561.7 361.2L561.0 364.3ZM574.0 366.4L578.5 368.9L580.8 367.3L580.7 364.5L578.5 361.6L573.6 363.7ZM590.9 374.4L587.2 380.6L590.0 379.9L596.8 383.7L597.8 383.0L597.9 379.6L591.8 377.5L591.5 370.2L587.7 370.5ZM604.2 372.0L604.1 374.3L609.5 374.2L610.7 373.2L610.5 370.6ZM616.3 365.8L615.9 364.6L613.9 364.2L612.5 365.1L613.1 368.3ZM647.5 365.3L646.7 367.3L650.7 368.7L649.9 375.9L653.1 376.1L655.5 371.2L651.4 368.7L650.2 365.1ZM669.8 366.5L669.4 366.6L670.1 368.5ZM665.8 373.0L666.5 374.2L670.6 374.6L671.8 373.8L666.6 372.5L664.4 366.8L661.0 370.1ZM677.0 365.6L676.9 364.6L675.6 363.4L674.2 364.6L674.8 368.2ZM687.3 366.8L687.4 365.2L686.1 364.2L681.7 365.3L685.6 369.3ZM710.3 364.0L710.0 365.9L710.6 366.6L714.1 366.8L715.2 363.2L712.1 362.1ZM740.5 383.4L738.9 378.2L735.4 384.6L737.2 386.0ZM745.9 371.7L746.1 370.8L742.3 369.3L738.2 372.4L738.1 373.4L739.6 375.2ZM757.5 366.9L758.9 365.6L755.1 361.8L751.9 362.9L751.5 367.1ZM767.4 366.6L768.2 366.1L763.1 363.3L759.7 365.7ZM778.7 362.7L774.5 361.9L772.9 366.2L775.9 367.8ZM776.8 376.2L781.3 377.3L783.0 382.9L786.4 380.5L786.6 375.5L789.3 373.2L787.4 370.6L781.2 375.3L776.5 371.4ZM783.9 363.0L780.7 368.8L781.3 369.3L787.0 365.0ZM792.4 369.5L796.1 364.9L792.7 363.5L788.7 364.6ZM800.8 364.7L800.8 365.5L803.1 368.1L804.3 364.1ZM813.9 364.7L814.1 368.6L811.3 374.2L813.4 374.8L817.2 373.0L822.8 374.6L822.8 364.5L820.5 366.3L816.9 364.3ZM504.6 380.4L508.4 381.5L510.9 380.0L516.9 382.1L519.0 377.4L513.4 375.0L514.1 368.4L509.8 370.0L509.9 374.3L502.9 377.3ZM519.3 389.8L520.9 391.2L521.7 386.8L518.2 384.7ZM518.5 372.1L522.7 373.9L523.2 372.7L518.7 369.8ZM522.2 381.7L527.0 384.4L525.8 390.7L527.6 390.5L530.0 388.7L527.2 384.4L527.6 381.8L524.0 377.5ZM536.0 392.4L537.1 389.6L532.3 389.4ZM528.1 373.1L527.6 374.4L530.7 378.2L531.8 377.6L531.6 373.1ZM536.7 380.4L532.3 382.7L532.1 383.4L533.1 384.7L538.9 384.9L539.9 385.6L543.4 381.0L543.2 379.3L547.5 375.4L546.6 370.8L539.5 371.5L538.4 370.9L536.2 372.0ZM562.3 374.2L568.1 371.8L562.1 370.9ZM576.8 378.9L575.2 383.8L572.6 385.7L574.1 390.5L578.6 390.4L577.9 386.0L582.4 381.9L575.3 376.6L576.1 372.9L571.9 370.6L569.2 371.9ZM583.8 377.1L585.2 374.8L582.7 371.7L580.8 373.0L580.5 374.6ZM612.1 388.3L612.2 385.8L607.2 388.6L607.6 390.6ZM617.7 382.2L622.0 383.1L622.8 382.3L623.4 378.6L620.8 376.3L621.7 369.4L619.8 369.1L615.3 372.5L615.5 375.4L612.7 377.6L612.7 384.8ZM625.8 374.4L628.5 376.8L627.6 382.0L630.8 383.4L633.1 380.1L633.0 377.6L637.0 374.9L636.9 370.4L635.6 369.0L632.2 370.7L626.4 369.5ZM641.6 371.5L641.7 374.5L645.2 376.0L645.6 371.9L643.4 371.1ZM648.2 380.5L648.2 383.8L657.5 380.5L658.6 381.5L663.8 378.9L668.3 381.5L668.6 379.1L663.6 378.7L662.3 376.4L659.1 374.5L655.9 381.0ZM676.6 373.5L683.2 377.7L682.6 382.0L675.5 386.9L677.0 390.9L679.8 390.9L690.6 381.2L695.3 380.7L694.5 378.3L683.4 376.1L683.5 374.0L679.6 369.9ZM694.2 373.4L694.5 372.2L690.5 370.5L689.1 372.5ZM698.5 375.9L700.6 379.9L699.6 382.8L705.0 382.9L700.5 378.9L702.1 376.1L699.3 372.2ZM711.0 372.6L715.2 376.4L717.3 374.2L714.8 371.5L711.2 371.4ZM725.7 384.6L725.7 382.7L731.1 382.8L734.5 376.6L727.2 377.2L726.8 370.1L726.2 369.1L723.0 376.3L721.6 376.5L717.8 380.5ZM723.7 390.3L725.4 391.3L725.6 387.6ZM750.7 371.8L750.4 372.9L752.4 376.0L757.1 377.0L756.4 371.6ZM762.0 378.0L760.9 380.0L761.4 382.0L767.8 380.0L768.3 378.0L772.1 376.6L771.7 370.9L770.5 370.2L768.6 371.5L761.0 370.6ZM759.1 387.9L761.6 389.6L763.0 389.2L761.0 384.3ZM796.9 373.9L799.4 371.0L798.4 369.9L795.6 373.0ZM807.1 376.6L806.7 375.5L803.6 373.4L800.9 376.5ZM809.0 384.0L811.4 386.5L811.8 388.1L813.3 388.9L817.3 386.5L817.5 385.3L819.1 384.0L819.8 378.8L817.5 378.1L813.8 379.8L809.2 378.5ZM497.1 379.3L497.7 384.0L498.0 384.1L500.1 382.0L498.4 379.0ZM568.1 382.3L569.2 382.3L571.4 380.3L567.8 377.0L565.3 378.1ZM643.4 386.4L642.0 389.6L646.5 391.6L645.5 387.8L642.9 385.2L643.5 380.4L639.7 378.8L637.9 380.0ZM672.2 391.5L670.8 387.7L667.3 391.7ZM677.7 379.7L674.5 377.7L673.4 378.4L672.8 383.1ZM712.7 380.4L708.3 376.5L706.5 377.9L712.1 382.9ZM712.2 383.0L713.9 384.0L713.6 389.3L709.1 391.9L708.1 396.2L713.1 397.5L713.2 392.3L718.6 389.4L720.2 387.1ZM748.4 378.3L747.1 376.4L743.8 378.3L745.1 382.3L746.8 382.5ZM756.7 382.5L756.5 381.7L752.5 380.8L751.4 383.6L754.8 386.0ZM753.9 395.3L753.4 398.6L751.5 400.3L751.7 406.3L758.2 406.3L761.2 402.8L758.6 400.6L758.7 393.3L756.2 391.6ZM768.0 388.9L774.4 391.1L780.1 387.1L779.0 385.9L777.6 381.3L774.7 380.6L772.2 381.6L771.6 383.7L766.5 385.3ZM795.5 378.6L792.5 376.6L791.3 377.7L791.0 383.0L784.9 387.3L785.2 389.3L777.5 394.7L778.0 396.0L784.4 395.5L784.6 390.7L791.1 388.1L796.5 389.8L797.5 389.1L797.7 387.2L794.8 383.2ZM804.3 383.0L804.4 381.3L800.1 381.2L799.8 382.2L801.1 383.9ZM508.3 387.7L510.3 391.0L514.4 389.6L513.7 386.0L511.4 385.2L509.1 386.6L503.7 385.0L500.9 387.8L501.2 388.8ZM533.2 398.5L535.3 397.9L531.9 395.1ZM541.2 398.9L543.7 396.6L545.4 390.9L549.6 388.5L546.2 385.2L541.7 390.7L539.1 397.7ZM556.6 390.0L558.0 389.0L555.4 385.2L552.2 388.1ZM567.4 392.6L569.4 391.5L568.1 387.0L564.4 389.7ZM583.6 392.1L583.2 393.0L584.3 398.1L585.2 398.4L591.9 390.6L594.2 390.3L597.8 393.4L603.1 391.8L602.4 388.8L600.1 387.2L596.9 389.1L589.6 385.0L587.7 385.7L585.9 385.1L582.9 387.7ZM629.7 388.1L625.5 386.2L623.4 388.2L618.4 387.1L616.8 388.0L616.6 391.3L609.5 394.9L610.6 397.3L614.6 397.8L618.5 395.1L625.5 399.5L627.2 391.5L630.4 390.5ZM637.1 389.2L637.9 387.3L635.7 384.7L634.2 386.8L635.2 390.4ZM651.2 390.1L652.9 390.3L656.1 389.0L655.9 386.1L650.5 387.9ZM663.6 384.2L660.6 385.8L660.8 389.3L662.2 390.4L666.3 385.7ZM689.1 389.0L691.9 390.8L695.9 389.9L700.5 393.6L701.9 396.7L703.2 396.2L704.1 392.6L702.7 392.5L695.4 385.5L692.6 385.7ZM704.5 387.6L706.5 388.0L707.2 387.6ZM733.6 389.2L731.6 387.5L730.3 387.5L730.1 392.4L730.9 392.8ZM734.4 396.0L735.4 398.3L740.3 398.0L743.0 405.7L747.0 405.2L746.8 398.3L749.1 395.6L743.7 392.0L743.7 386.8L737.9 391.3ZM748.4 389.5L750.9 391.2L751.9 389.7L748.4 387.2ZM805.9 387.5L802.3 388.4L802.2 389.1L805.0 390.7L807.1 388.8ZM822.8 398.8L822.8 387.6L821.8 387.8L821.5 389.4L813.5 394.3L810.0 392.5L807.6 394.6L807.6 396.7L808.8 397.7L815.2 395.8L820.2 398.6ZM501.7 405.9L504.5 409.0L505.9 408.0L502.5 401.7ZM506.8 396.6L506.9 394.5L505.9 392.8L499.9 393.8L498.9 393.0L497.0 393.9L498.2 398.0L503.1 399.2ZM518.3 395.2L516.6 393.8L511.5 395.5L511.5 396.4L515.4 398.4ZM528.1 399.4L526.9 395.3L524.6 395.6ZM533.0 407.2L530.2 410.7L530.1 413.8L532.7 414.5L535.7 412.5L539.5 403.4L537.4 402.2L533.0 403.5ZM548.4 404.4L551.1 404.0L551.3 401.8L546.4 400.5L544.6 402.2ZM548.7 396.2L553.1 397.4L555.8 394.8L551.3 392.9L549.4 394.0ZM563.8 399.1L564.4 396.2L560.8 392.7L558.3 394.7ZM559.7 409.7L557.2 409.8L556.6 413.8L560.8 413.9L561.5 411.0L567.4 406.8L567.3 405.4L564.5 403.3ZM569.0 397.0L568.3 400.4L571.7 402.9L572.1 406.7L575.9 409.9L578.3 399.5L579.7 398.7L578.8 395.1L572.3 395.3ZM576.1 415.0L579.6 413.0L576.2 411.6ZM594.7 401.1L594.9 397.2L593.5 395.9L589.6 400.5ZM605.7 398.0L604.9 396.2L600.8 397.4ZM635.6 404.2L639.4 402.9L648.0 407.8L647.8 409.9L649.3 411.9L653.0 412.9L650.2 407.9L647.3 406.9L647.3 405.5L644.7 400.9L638.4 402.0L634.1 397.7L633.3 394.7L631.2 395.2L629.9 401.4L631.9 403.2ZM639.1 393.5L638.0 394.1L640.0 397.0L645.0 396.1ZM651.5 403.4L658.3 402.8L658.2 399.4L659.9 394.6L658.2 393.2L653.6 395.1L650.2 394.7L647.6 396.6ZM658.5 407.6L655.6 407.9L657.9 412.0ZM666.5 403.7L667.1 399.9L672.0 396.2L664.2 396.6L662.9 400.1L663.0 403.3ZM676.0 399.7L671.4 402.7L671.2 405.9L676.9 403.5L683.2 406.0L684.0 405.7L683.9 400.7L688.1 397.0L688.8 394.4L685.3 392.1L681.8 395.6L677.0 395.6ZM694.0 403.7L698.7 406.6L701.8 402.0L708.3 404.1L709.8 401.5L705.4 400.4L701.2 402.0L698.6 400.6L696.7 396.6L694.7 395.0L693.4 395.3L692.3 399.5L688.6 402.8L688.7 405.0ZM717.8 398.8L720.7 402.8L724.3 402.8L721.8 397.6L723.2 395.4L720.3 393.9L718.0 395.1ZM712.9 414.5L714.0 412.8L711.5 412.3ZM723.1 412.5L725.1 412.4L729.6 417.0L731.4 415.6L731.5 411.6L727.1 407.6L721.1 407.5L720.2 410.4ZM731.1 400.3L729.9 397.5L728.0 396.7L727.2 398.0L729.2 402.2ZM763.4 398.4L764.2 398.7L766.7 393.5L763.4 394.0ZM767.8 402.0L765.9 403.1L769.7 406.5L772.9 402.9L773.9 398.6L772.8 395.5L771.2 394.9ZM793.2 397.9L794.6 397.2L794.5 394.1L791.2 393.1L789.2 393.9L789.1 396.3ZM792.0 413.4L794.9 412.0L795.8 408.1L790.3 411.1ZM801.0 405.1L805.5 406.3L805.9 401.3L803.0 399.0L802.9 394.9L799.9 393.2L799.2 393.6L799.3 399.9L795.8 401.9L796.2 406.8ZM497.5 402.7L497.0 402.6L497.0 405.2L497.0 405.2ZM500.7 421.3L503.4 420.2L503.2 418.0L510.2 412.1L509.5 411.1L503.8 415.3L498.8 409.7L497.1 411.0L497.3 416.1ZM513.7 402.7L509.3 400.6L507.8 401.6L510.3 406.2ZM521.1 404.3L523.7 401.6L521.3 398.9L518.5 402.0ZM528.3 405.6L528.3 404.2L527.8 404.1L526.0 406.0L527.3 406.8ZM556.0 405.2L557.2 405.1L559.7 401.8L557.3 399.9L556.1 401.1ZM585.7 404.8L584.5 403.1L582.5 402.5L581.1 408.5L585.8 410.5L587.4 414.2L589.9 413.8L586.7 407.5L593.7 405.7ZM603.3 404.8L604.4 402.6L599.3 402.0L599.1 403.2L600.1 404.9ZM607.5 406.8L618.2 406.9L618.8 413.0L621.5 413.9L625.1 412.5L624.9 410.8L627.4 405.4L626.3 404.4L623.2 403.9L618.6 400.8L615.8 402.7L610.0 402.0ZM703.8 407.6L701.9 410.3L702.6 415.3L695.5 417.2L695.3 420.2L697.8 420.1L702.3 415.6L708.9 420.8L710.6 420.3L705.9 412.3L707.9 408.9ZM715.9 408.4L716.8 405.5L714.6 402.4L711.7 407.6ZM734.7 408.1L738.6 407.5L737.0 403.0L734.9 403.1L732.2 405.9ZM772.3 410.6L772.4 412.6L777.9 412.4L780.0 414.0L785.4 410.3L785.3 408.5L791.4 405.1L791.1 402.2L785.9 400.1L778.2 400.7L777.6 402.5L778.1 404.1ZM814.7 400.8L810.5 402.1L810.2 406.6L812.6 407.0L817.8 403.4L822.1 407.2L822.8 408.8L822.8 403.5L817.5 403.1L816.7 401.9ZM513.9 409.3L514.9 411.0L519.4 414.0L515.7 421.5L519.4 423.1L521.0 420.2L521.9 415.3L525.4 414.0L525.5 411.2L521.9 409.0L520.0 409.5L516.4 406.6ZM541.3 413.0L545.4 412.4L545.5 408.1L543.1 406.8L540.5 412.6ZM552.7 408.6L550.2 408.9L550.0 413.1L551.8 414.2ZM571.4 414.8L571.5 412.3L569.8 410.9L566.5 413.2ZM570.6 421.4L574.2 421.5L572.7 418.5ZM576.1 430.1L578.7 428.8L578.9 424.8L575.1 422.9ZM593.6 410.6L595.1 413.5L597.8 414.0L597.4 421.9L603.1 424.0L601.2 417.8L604.5 413.3L604.3 410.3L603.6 409.5L597.7 409.5ZM603.6 424.2L604.0 428.4L606.2 427.8L607.1 425.1ZM609.3 414.7L606.4 418.6L606.8 420.1L610.8 421.2L611.9 415.9L614.2 413.8L614.0 411.7L609.1 411.8ZM610.8 428.8L612.7 430.3L614.8 427.9L612.0 425.4ZM633.8 424.0L637.5 421.7L636.5 419.1L633.5 418.0L633.3 408.5L631.4 408.0L629.7 411.6L630.1 415.6L623.9 418.1L623.9 422.0L629.7 422.2ZM642.5 410.1L638.9 408.1L638.0 408.4L638.1 414.2ZM668.0 413.0L668.2 409.5L667.3 408.5L663.2 408.0L662.5 412.8L666.8 414.1ZM672.8 412.7L678.3 415.2L678.9 421.7L685.7 418.4L689.7 422.0L690.4 421.4L690.9 416.6L689.6 415.8L686.3 409.8L683.4 411.2L677.0 408.6L672.9 410.3ZM691.3 409.2L693.7 412.8L697.4 411.9L697.3 411.2L693.3 408.7ZM739.2 414.1L738.8 412.3L736.2 412.7L736.1 414.9L738.3 415.5ZM735.3 424.5L738.3 422.4L739.0 420.5L734.3 419.3L732.0 421.1ZM747.2 418.3L747.8 414.9L749.5 412.9L759.3 415.3L757.5 411.0L750.3 411.8L748.5 409.7L743.1 410.4L744.3 414.9L741.3 419.6ZM762.0 419.2L761.0 423.3L766.0 423.2L767.2 423.9L770.7 417.4L778.1 422.7L779.2 421.7L778.0 418.3L776.4 417.2L768.1 417.4L767.6 410.9L763.6 407.4L761.9 409.3L765.0 416.8ZM808.1 411.0L807.0 411.6L801.1 410.0L800.1 410.4L799.6 412.8L801.8 414.8L805.6 411.3L809.4 414.4L812.2 411.7ZM818.8 415.1L819.9 414.3L817.5 409.3L815.5 410.7ZM497.0 427.4L497.0 433.7L498.1 434.6L498.2 436.5L502.7 438.1L503.7 437.5L502.1 432.8L506.8 427.7L506.7 424.8L505.8 424.3L498.8 427.2L497.7 425.5ZM513.3 415.6L508.1 420.0L508.1 420.2L510.4 421.5ZM511.5 427.5L518.5 434.2L522.2 437.1L524.2 431.2L511.4 424.7ZM520.8 445.7L523.7 448.3L524.4 441.9L522.4 440.7ZM530.9 418.9L527.9 418.1L526.0 418.8L525.8 419.7L531.2 422.7ZM530.8 429.6L533.4 431.5L535.3 428.3L533.3 426.7ZM539.9 420.3L538.9 417.1L538.1 416.6L535.6 418.3L536.0 422.9L536.7 423.4ZM543.1 427.7L545.0 426.4L550.6 426.9L551.6 420.4L560.9 421.2L560.3 418.6L554.7 418.5L552.4 420.3L547.1 416.8L543.9 417.4L545.3 421.7L540.0 426.7ZM556.7 440.4L555.1 445.2L558.3 447.0L561.0 443.2L561.5 440.0ZM562.0 437.9L565.5 431.9L562.0 426.0L555.6 425.4L555.4 426.6L562.4 427.4ZM567.1 418.3L564.9 417.6L565.6 420.4ZM582.6 419.7L583.2 416.4L578.4 419.3L581.1 420.6ZM587.9 418.9L587.4 420.2L592.0 422.9L592.7 422.4L592.9 418.1ZM617.2 417.4L616.2 418.3L615.4 422.2L619.3 425.6L619.2 418.1ZM619.9 427.3L623.5 431.0L625.3 430.0L625.8 426.7L619.8 426.6ZM634.3 429.2L630.4 427.8L630.0 430.1L632.9 431.5L634.6 435.8L636.0 436.0L637.2 432.0L641.5 427.7L641.4 424.8ZM645.5 421.4L645.6 414.8L645.0 414.1L641.0 417.8L643.0 422.5ZM650.3 417.0L650.2 424.4L646.1 426.3L646.2 427.7L649.7 431.1L650.3 435.4L653.6 437.5L655.9 436.3L658.5 430.4L656.3 426.5L652.6 424.3L653.9 418.0ZM657.8 422.0L659.8 423.1L662.4 427.8L669.9 426.5L674.4 430.3L677.6 428.9L676.8 426.0L674.3 424.6L673.8 418.3L670.7 416.9L667.9 419.3L660.0 416.9L658.8 417.5ZM715.3 420.3L717.9 421.3L719.7 427.5L721.9 428.9L724.0 428.4L727.6 430.2L731.8 427.7L726.9 422.6L727.0 421.1L723.2 417.2L721.6 417.3L718.3 414.8L715.2 419.4ZM751.6 420.0L752.3 421.4L756.6 421.4L757.0 419.6L752.0 418.3ZM776.6 435.5L780.5 439.6L784.7 436.4L786.1 436.5L788.5 432.3L785.3 430.4L782.9 424.7L780.3 427.1ZM788.7 418.6L788.8 417.0L787.2 414.8L782.8 417.8L783.8 420.8ZM793.2 421.7L787.7 424.1L789.0 427.1L791.9 428.8L795.4 427.5L798.1 428.6L802.5 425.3L802.5 423.5L807.9 419.6L805.8 417.6L801.9 421.2L796.6 416.4L793.4 417.9ZM811.9 428.3L813.8 428.2L818.0 431.5L822.0 429.1L819.9 424.2L822.8 421.8L822.8 418.0L817.8 421.6L814.0 416.5L812.4 418.0L813.9 421.0L807.7 425.6ZM526.6 427.2L527.6 426.1L524.1 424.2L523.3 425.6ZM565.8 443.3L570.0 447.3L572.1 443.0L579.2 443.6L579.9 442.9L574.3 436.9L574.4 434.5L571.8 433.4L570.8 426.1L567.4 426.1L570.9 431.6L566.1 440.9ZM583.4 428.7L590.0 431.7L591.0 435.2L596.7 433.8L589.1 430.1L589.6 427.0L584.6 424.0L583.6 424.6ZM595.4 426.2L594.3 427.4L599.5 429.9L599.2 427.6ZM676.6 434.5L676.7 435.9L682.4 436.6L681.2 432.4ZM686.5 425.4L684.9 424.0L681.6 425.6L682.5 429.0ZM695.5 429.2L697.7 428.4L696.9 424.8L693.6 424.9L692.6 425.7ZM686.1 442.9L687.1 446.2L688.6 445.7ZM693.2 433.8L689.4 429.1L686.0 432.1L687.0 435.8ZM697.2 436.7L703.0 434.9L702.0 431.9L695.2 434.3ZM704.6 426.7L705.6 424.2L702.7 421.9L701.3 423.2L702.6 429.0ZM713.0 424.4L710.2 425.3L709.6 426.8L715.4 429.6L714.0 424.8ZM715.0 435.7L723.8 437.4L726.2 436.6L725.7 434.5L723.4 433.4L721.1 433.9L716.8 431.3ZM737.3 429.9L730.4 434.0L731.1 436.7L732.9 438.0L734.8 436.0L741.4 436.2L743.4 433.9L743.1 432.9L744.6 428.2L747.8 425.8L748.3 424.0L747.8 423.0L742.7 424.1L742.2 425.4L737.3 428.9ZM751.2 437.2L753.3 436.4L758.5 437.8L762.4 436.7L762.3 435.8L756.4 430.6L757.1 426.1L752.6 426.1L751.8 428.6L748.6 431.1L748.0 433.0L748.6 435.0L745.0 439.2L746.2 444.0L747.5 444.2ZM765.3 428.3L761.7 428.0L761.5 428.9L763.8 430.9ZM775.1 427.6L775.5 426.6L772.3 424.3L771.2 426.3ZM498.3 444.3L502.2 443.0L497.0 441.1L497.0 443.5ZM507.0 446.7L511.3 444.0L513.5 444.9L516.3 444.4L517.8 439.7L509.3 431.9L507.5 433.9L509.4 439.4L503.5 443.2ZM526.9 438.0L529.3 439.5L528.9 445.9L532.8 445.5L535.1 442.5L532.2 440.3L531.8 436.2L528.3 433.6ZM543.8 432.9L539.0 431.3L536.5 435.5L536.7 437.8L539.7 440.1L540.0 441.8L543.2 445.3L545.9 444.7L541.7 435.8L550.4 434.4L550.0 431.6L546.3 431.3ZM550.7 443.7L552.3 438.9L548.6 439.5ZM557.4 435.6L557.5 431.6L554.7 431.2L555.3 435.8ZM551.8 455.4L557.1 452.3L556.9 451.7L552.9 449.3ZM550.2 457.4L549.2 460.1L550.0 461.4L551.5 460.3L551.5 457.0ZM581.2 432.8L579.1 434.2L579.0 435.1L583.2 439.5L586.6 437.0L586.1 435.1ZM594.5 442.1L596.2 443.0L598.5 438.9L604.9 438.4L601.6 434.8L599.3 438.3L593.0 439.6ZM597.5 450.1L600.7 450.0L600.8 449.6L597.9 447.6ZM612.7 439.8L611.9 441.2L611.4 445.2L612.9 447.2L616.8 444.7L616.0 439.7L620.7 437.0L620.8 434.8L617.6 431.7L613.4 436.7L607.6 432.3L606.0 432.7ZM621.2 442.2L621.6 444.8L622.7 446.0L625.4 443.2L624.9 440.1ZM630.0 436.8L629.2 434.9L627.5 434.1L625.4 435.3L625.4 439.4ZM641.4 435.0L645.5 435.5L645.2 433.3L643.9 432.0ZM663.3 438.6L665.8 432.1L662.8 432.5L660.8 436.8ZM665.6 443.9L670.8 446.6L672.1 445.8L671.3 442.4L665.5 442.5ZM672.1 437.7L671.8 434.3L670.5 433.1L668.7 437.8ZM676.6 444.1L681.5 441.8L681.7 441.2L675.7 440.5ZM672.9 450.9L672.5 452.4L673.4 455.2L677.5 454.2L674.6 449.9ZM711.1 432.8L707.3 430.9L706.8 431.4L708.1 435.2L709.5 436.6ZM710.3 441.9L714.6 444.3L716.3 443.2L716.6 441.0L710.5 439.3ZM761.5 450.4L762.6 451.6L764.0 451.2L768.0 442.4L773.4 444.6L777.2 444.2L777.5 443.2L771.0 436.4L773.1 431.9L769.3 430.6L766.9 435.0L767.7 440.1L761.0 442.0ZM801.6 435.9L799.3 445.3L801.7 445.6L804.0 444.6L802.8 437.6L813.8 436.9L815.2 435.4L812.3 433.0L810.7 433.2L804.9 429.4L798.7 434.0L795.3 432.5L793.3 433.3L790.8 437.8ZM820.2 435.7L820.3 436.8L817.2 440.2L816.8 444.8L817.6 445.0L820.3 438.2L822.8 438.2L822.8 434.1ZM588.0 445.5L589.9 443.5L588.6 441.4L585.7 443.4ZM601.0 444.0L606.3 447.8L604.1 454.5L595.9 454.9L594.3 456.7L594.4 457.6L601.0 460.3L606.1 458.2L607.7 454.8L610.5 453.3L610.1 451.4L606.5 446.5L606.9 443.0L601.4 443.4ZM648.0 439.5L645.4 440.8L639.3 439.4L637.6 441.1L633.3 440.3L630.0 442.2L630.1 442.8L632.6 445.0L638.6 442.8L642.5 445.4L643.1 451.8L647.1 453.4L649.0 447.8L648.6 446.5L650.6 441.1ZM662.3 448.4L663.6 455.3L655.4 456.6L657.7 458.7L660.7 455.9L668.8 458.8L669.3 457.8L667.6 452.5L668.1 450.5L661.2 446.8L660.7 442.5L658.0 440.5L655.4 441.8L653.8 445.9ZM694.4 443.3L694.1 440.3L692.9 438.9L689.7 439.9L693.6 444.2ZM705.4 439.1L698.9 441.1L699.4 444.9L696.9 447.6L697.8 452.7L698.6 453.4L705.0 450.7L708.1 452.5L712.6 451.0L712.5 448.5L705.3 444.6ZM720.6 445.9L717.2 448.2L717.3 451.4L720.7 453.7L720.4 460.0L725.9 460.7L723.7 455.5L726.2 451.2L725.8 449.4L724.0 449.0L722.0 441.9L721.2 441.7ZM730.7 442.2L728.7 440.8L726.8 441.4L727.6 444.5ZM739.2 445.3L741.5 444.5L740.6 440.9L736.8 440.7L735.7 442.0ZM751.6 452.2L756.6 450.1L756.3 442.1L754.2 441.5L751.0 447.6ZM783.0 448.3L787.9 444.8L786.5 441.2L782.2 444.1L781.5 446.1ZM783.2 453.5L780.4 459.0L786.6 457.6L790.7 460.5L793.4 459.1L791.4 455.2L792.1 447.6ZM794.4 445.6L795.3 441.8L792.1 442.3L793.3 446.1ZM804.2 449.6L804.0 453.1L808.7 447.5ZM809.2 446.9L814.1 453.7L817.7 452.6L817.7 450.1L811.9 448.1L812.3 441.7L808.3 442.0ZM822.8 446.5L822.8 444.6L822.0 446.7ZM502.0 474.5L502.1 471.1L497.0 470.5L497.0 474.3ZM503.1 458.4L502.9 456.0L497.0 456.0L497.0 458.0ZM500.4 451.3L503.8 451.3L504.0 450.4L501.7 448.1L500.3 448.6ZM511.3 449.5L508.7 451.3L512.1 452.7ZM521.9 452.8L517.3 449.0L516.1 449.2L516.9 452.6L520.3 454.5ZM526.7 463.3L530.9 459.2L536.7 460.3L536.8 457.1L532.4 455.0L532.0 450.3L527.7 450.8L526.6 452.4L526.6 454.8L523.6 457.8ZM539.3 467.6L541.6 466.8L539.2 462.5L538.5 462.1ZM536.5 448.4L536.8 451.9L538.7 452.8L541.4 450.2L538.0 446.5ZM547.5 452.7L548.1 449.0L541.9 450.4ZM564.2 453.7L566.9 450.8L563.6 447.7L561.5 450.6L561.9 452.0ZM580.5 453.9L578.2 452.3L577.9 448.2L574.9 448.0L574.0 449.7L578.3 452.7L578.7 459.0ZM582.5 446.9L582.8 449.8L586.2 452.2L583.6 459.3L587.7 460.0L589.7 458.2L589.4 455.1L592.6 451.6L593.2 446.8L588.2 452.1ZM629.5 448.5L628.0 447.2L622.7 452.8L619.0 448.9L614.9 451.5L616.0 455.8L611.2 458.2L610.5 459.9L612.6 463.6L615.3 459.7L622.1 461.8L624.0 460.5L623.3 454.1L628.6 452.1ZM638.0 448.0L634.1 449.5L632.5 455.6L628.4 457.2L628.7 460.4L629.4 461.0L637.9 458.9L641.2 463.4L646.1 460.3L650.9 462.5L653.6 461.3L649.4 457.5L647.4 458.5L638.6 455.1ZM656.7 451.6L653.1 450.6L652.7 452.3ZM679.1 448.1L682.7 453.1L681.3 458.0L673.3 460.3L678.1 462.5L686.5 458.3L693.7 460.0L695.5 458.5L695.7 457.1L694.9 456.4L688.2 457.2L682.7 451.9L683.4 449.5L682.2 446.7ZM689.9 452.3L692.9 451.9L692.4 449.2L688.4 450.8ZM731.5 466.3L737.5 467.1L737.2 459.4L739.0 458.1L739.9 453.4L746.7 451.4L746.4 448.8L744.5 448.4L738.0 450.7L733.2 446.1L730.4 448.3L730.7 449.8L737.0 451.8L736.4 460.4L731.0 463.6ZM768.7 452.2L771.4 454.1L773.0 453.8L776.7 455.3L779.2 451.0L777.7 448.9L772.7 449.4L770.4 448.4ZM803.8 459.6L803.0 457.7L798.6 456.4L799.4 450.1L796.6 449.8L796.3 454.0L798.2 456.8L798.1 459.3ZM822.8 451.3L822.4 453.5L822.8 454.0ZM507.6 455.9L508.5 460.7L509.3 456.6ZM512.5 464.9L506.9 466.4L504.5 463.2L501.0 463.0L501.2 466.2L506.9 466.9L506.8 476.6L509.2 476.2L509.2 470.0L515.0 468.5L512.7 464.0ZM516.9 458.0L514.0 457.0L513.1 461.8ZM545.0 458.1L545.4 456.9L542.5 455.7L541.5 456.6L541.5 458.3ZM559.7 456.2L556.2 458.3L556.1 462.7L551.5 466.1L551.2 467.1L555.4 469.3L559.9 464.7L566.3 467.9L570.2 459.7L574.0 459.7L573.7 455.3L571.0 453.3L564.9 459.8ZM707.6 464.1L705.8 456.6L704.7 456.0L700.3 457.8L700.2 458.9L707.2 466.4L700.9 471.1L700.4 476.0L701.8 476.7L706.3 474.8L711.1 476.3L712.3 471.1L711.2 470.3L709.1 464.7ZM714.7 455.3L710.6 456.6L711.6 460.6L712.7 461.0L715.4 467.5L716.2 467.3L716.8 463.1L715.6 461.9L715.9 456.1ZM731.9 457.6L732.1 455.2L729.8 454.4L728.9 455.8L730.2 458.7ZM748.3 455.8L744.0 457.1L743.3 460.9L742.0 461.8L742.2 466.4L749.0 466.0L751.0 469.2L757.1 469.8L755.6 464.0L749.3 462.5ZM765.4 459.7L766.2 459.7L767.7 457.3L765.4 455.7L761.2 457.1L758.7 454.3L753.4 456.7L753.6 458.7L759.4 460.0L761.7 467.9ZM760.8 472.7L765.1 475.9L766.2 472.5L761.8 471.0ZM766.9 467.8L769.0 468.4L770.9 467.6L775.5 470.3L780.6 465.0L786.3 467.3L787.6 464.0L785.6 462.6L777.2 464.5L775.8 460.0L772.5 458.6L768.5 464.2ZM810.4 456.7L808.9 454.6L807.5 456.2L808.9 459.6ZM814.8 458.4L813.6 460.7L817.1 462.9L819.2 467.6L820.8 469.0L815.9 474.8L819.2 476.1L822.8 472.4L822.8 468.0L818.5 460.3L818.9 457.2ZM522.9 466.2L520.2 461.3L517.8 463.7L520.2 468.4ZM532.5 464.3L530.0 466.7L533.9 470.1L532.5 475.8L533.7 476.3L537.1 475.9L536.5 471.6L535.0 470.5L534.1 464.6ZM544.8 462.9L546.4 465.9L546.7 465.9L546.9 465.2L545.4 462.8ZM556.4 478.0L554.5 479.8L554.2 483.1L558.2 484.9L558.0 490.5L559.9 491.0L561.1 490.4L558.3 485.6L559.7 480.6ZM566.8 477.6L570.3 471.4L572.1 471.3L575.3 468.2L574.7 464.4L573.2 464.4L569.1 472.9L568.1 473.0L565.8 477.5ZM598.0 470.4L599.9 466.0L599.1 464.7L592.6 462.0L589.2 465.0L579.4 463.9L580.0 467.6L584.2 470.0L583.6 476.4L584.6 476.9L587.6 472.6L587.7 470.3L595.2 469.0ZM595.3 477.9L599.2 476.2L594.5 473.9L593.0 474.1ZM601.1 475.3L602.8 475.3L606.4 472.1L613.5 475.4L615.6 473.6L609.8 469.1L610.0 468.3L606.8 462.9L604.2 464.0L605.1 465.6ZM618.7 470.0L619.5 469.6L619.9 466.0L617.2 465.2L615.6 467.6ZM624.7 465.7L624.3 469.1L627.4 469.5L626.6 464.8ZM629.7 476.8L631.8 475.4L630.9 472.4L628.2 471.2ZM636.7 465.2L636.0 464.2L631.5 465.3L631.9 467.7L632.6 468.0ZM640.4 468.3L635.6 471.6L636.4 474.6L637.8 475.0L641.1 471.9L648.7 475.8L651.2 474.4L657.3 468.0L656.3 465.3L650.8 467.6L646.4 465.7L641.6 468.7ZM657.6 477.1L664.2 474.6L666.6 476.6L669.0 475.6L667.0 468.9L675.0 467.9L675.4 466.5L661.8 461.3L660.3 462.7L662.8 469.3L656.4 475.5ZM683.0 467.1L682.3 465.6L680.2 466.8L678.6 472.2L673.1 472.9L674.0 475.7L674.8 476.4L679.4 471.8L680.6 471.8ZM684.9 473.7L689.2 477.2L688.4 468.4L691.3 465.8L691.6 464.3L686.6 463.6L688.2 467.3ZM686.5 484.7L689.6 488.0L690.4 486.0L691.0 479.2L689.3 478.5L689.3 477.9ZM696.4 468.6L700.2 465.8L697.5 462.9L696.4 463.8L695.6 468.3L693.3 470.3L693.7 475.3L695.7 476.1ZM695.4 483.1L700.7 481.3L695.8 479.0ZM704.2 484.3L708.3 485.3L710.8 484.6L711.3 483.1L710.3 480.9L706.5 479.8L703.6 481.0ZM723.3 469.6L726.8 466.8L726.5 465.5L721.3 464.9L720.8 467.9ZM794.1 469.0L795.6 466.6L795.0 463.6L792.3 464.9L790.7 468.8ZM799.9 464.1L800.1 465.3L808.1 468.6L808.7 471.3L811.0 473.3L814.7 468.9L813.4 466.1L810.2 464.1L807.6 465.0ZM497.8 486.0L497.0 488.1L497.7 489.3L499.9 490.0L501.0 486.3ZM512.6 486.2L514.2 489.9L515.2 490.1L517.7 488.5L517.8 485.4L513.3 483.3L511.9 480.6L507.4 481.3L506.8 483.1ZM516.5 473.0L513.9 473.6L513.9 475.6ZM526.3 475.9L527.8 475.4L528.7 471.8L526.2 469.5L523.2 472.0ZM542.0 476.7L543.0 477.5L545.3 470.5L541.3 471.9ZM544.7 485.2L539.9 489.7L539.9 492.1L542.3 494.6L548.2 491.5L551.4 493.0L553.2 491.3L553.4 487.9L549.2 486.1L549.8 480.5L543.5 478.5ZM548.7 475.2L551.6 476.1L553.7 473.7L549.8 471.7ZM560.9 470.4L558.4 473.7L561.4 476.0L563.5 471.7ZM578.8 476.4L579.2 472.6L578.2 472.0L576.2 473.9L578.2 476.7ZM622.9 477.4L625.0 477.3L624.0 473.8L622.1 473.5L621.0 474.1ZM716.4 474.1L720.1 473.1L717.9 471.6L716.9 471.9ZM715.4 480.9L722.9 481.7L723.6 482.4L727.9 481.6L729.8 477.9L729.2 470.9L725.6 473.8L725.1 476.6L714.8 479.5ZM733.9 471.5L734.4 476.8L737.0 476.9L739.2 474.8L745.9 476.1L746.6 475.2L755.2 475.6L755.9 474.4L748.3 473.6L746.5 470.9L740.9 471.2L740.0 472.0ZM769.8 476.8L771.6 477.2L773.9 475.3L773.8 474.7L770.9 473.1ZM781.8 470.5L778.5 474.0L779.1 477.2L774.7 480.7L776.0 487.2L774.2 488.6L772.6 491.7L775.6 493.6L780.5 489.0L785.1 491.1L787.6 489.7L787.8 487.4L779.7 485.5L779.0 478.4L785.0 473.4L785.3 471.9ZM792.9 477.6L795.1 475.3L794.0 473.8L789.8 473.4ZM786.9 477.9L783.9 480.5L784.0 481.7L789.8 483.0L790.7 482.2ZM797.5 482.9L804.0 481.4L805.8 482.5L807.8 482.2L808.0 477.0L803.8 473.3L803.9 471.9L799.1 470.0L798.1 471.4L801.1 475.8L795.3 481.9ZM498.2 481.4L502.4 481.7L503.0 479.5L497.1 479.0ZM522.5 482.5L522.4 488.2L525.2 489.4L528.1 484.9L530.7 484.6L530.9 480.2L529.7 479.7L524.8 481.5L520.3 475.9L516.7 479.6ZM539.6 483.5L539.0 480.4L535.6 480.8L535.4 485.2L537.1 485.9ZM567.6 482.8L567.1 482.3L564.1 482.2L563.9 482.9ZM571.0 479.6L572.7 481.4L574.8 480.0L572.6 476.9ZM582.5 484.2L583.9 482.6L583.6 481.5L581.1 480.5L579.3 481.3ZM588.0 480.1L588.4 481.1L592.2 481.7L589.7 477.7ZM594.9 483.3L599.1 487.0L600.4 486.7L602.8 483.4L601.6 480.2ZM611.4 479.6L607.3 477.7L606.1 478.7L607.2 481.9L610.9 482.8ZM617.5 483.1L618.9 480.0L617.7 478.0L616.1 479.4L615.6 483.1ZM627.4 484.2L627.0 481.9L623.1 482.1L621.8 485.0ZM631.8 490.5L635.7 498.4L628.4 502.0L629.3 506.1L631.5 507.8L634.8 506.3L634.0 502.7L639.2 497.9L635.4 494.6L635.6 493.8L632.2 488.6ZM645.4 479.4L641.9 477.6L639.1 480.3L634.9 479.0L631.6 481.1L632.1 483.8L634.9 484.2L638.6 489.8L641.6 486.8L641.6 484.1L643.3 483.1ZM646.3 486.9L649.3 490.2L653.1 488.1L652.7 485.6L654.6 480.8L653.0 478.8L650.4 480.2ZM664.3 482.5L663.3 479.9L661.2 480.7ZM664.0 490.0L667.0 491.0L668.0 487.6L665.7 486.2ZM675.1 482.8L671.5 479.7L668.8 480.8L669.1 482.8L673.5 485.5L671.5 492.0L674.1 493.5L676.0 490.7L675.9 483.6L682.1 483.0L683.8 478.8L681.2 476.7ZM732.2 483.5L732.8 484.4L739.7 482.4L744.2 487.3L744.2 488.1L749.5 490.2L750.5 487.0L746.2 484.8L745.1 480.7L740.7 479.9L738.7 481.7L733.2 481.5ZM750.2 481.6L753.6 483.4L756.0 482.7L762.4 484.8L765.3 491.3L767.9 490.5L770.8 485.3L770.1 481.7L767.0 480.9L765.2 481.8L759.5 477.6L757.9 480.5L749.8 480.1ZM809.6 496.5L813.7 498.4L816.0 497.3L811.1 493.2L812.0 486.3L807.4 487.0L806.7 492.6L804.9 494.4L805.7 498.5ZM816.3 482.6L817.0 480.3L812.7 478.5L812.4 484.2ZM821.0 483.5L821.7 484.0L822.8 483.4L822.8 479.1ZM504.4 491.1L507.3 493.4L509.7 491.3L508.9 489.6L505.5 487.7ZM535.2 490.2L532.6 489.1L530.9 489.3L527.7 493.4L527.8 498.0L528.9 498.3L532.0 493.0L535.2 491.5ZM573.8 487.4L565.0 487.6L566.0 489.6L567.3 490.2L571.5 488.0L576.0 490.0L579.4 487.8L576.2 484.9L574.2 486.0ZM587.0 489.6L589.6 489.5L594.1 493.2L595.6 490.2L591.1 486.3L587.5 485.7L585.4 488.0ZM601.6 497.2L601.9 491.2L600.2 491.6L597.9 496.1ZM609.8 490.8L610.0 487.4L606.4 486.5L603.7 490.1ZM611.9 499.1L611.8 507.0L613.9 504.3L613.5 501.6L622.5 499.4L619.0 494.8L618.5 488.5L617.9 487.8L614.7 487.8L614.3 496.0L606.4 495.1L606.2 499.0ZM623.6 492.2L626.8 497.6L629.4 496.3L627.0 491.4L627.2 489.0L623.3 489.5ZM658.2 484.4L657.6 486.2L657.9 488.2L659.3 489.2L660.7 485.8ZM682.5 497.3L684.5 496.8L688.2 501.3L695.6 500.6L699.1 497.2L699.3 495.1L698.6 494.1L688.6 493.8L682.8 487.6L680.7 487.8L680.7 492.2L677.6 496.6ZM694.2 489.2L698.3 489.4L699.4 486.7L694.5 488.4ZM703.8 497.2L707.6 499.9L712.3 498.8L714.6 500.0L718.6 495.5L714.6 493.7L711.1 498.5L704.0 495.6ZM705.4 489.4L703.6 489.0L702.5 491.5L704.1 493.7ZM710.2 489.7L709.3 492.7L709.5 492.8L712.2 489.1ZM724.9 493.2L724.4 495.0L727.4 499.4L729.1 497.7L728.4 492.6L729.5 491.7L729.5 487.9L728.4 486.3L722.1 487.4L720.8 486.2L715.4 485.6L714.4 488.4ZM733.8 497.3L736.0 499.5L741.3 496.1L743.0 497.0L745.5 496.3L746.8 494.1L739.3 491.2L739.4 489.1L738.2 487.8L734.2 488.9L734.2 494.0L733.4 494.6ZM760.7 492.6L759.0 488.6L755.2 487.8L753.9 491.8L756.2 493.6ZM780.7 504.9L780.6 505.8L783.4 508.9L785.5 506.8L785.1 503.6ZM791.9 498.2L792.4 493.1L797.2 490.2L801.6 491.1L802.7 486.5L797.0 487.8L793.3 486.2L792.6 486.7L792.0 492.6L787.8 495.0L788.4 498.7ZM821.3 489.5L817.9 487.0L816.5 487.6L816.1 491.2L819.1 493.8L822.8 491.8L822.8 488.7ZM504.4 499.3L505.9 498.3L501.2 494.5L500.5 494.7L499.8 497.0ZM512.5 500.9L514.9 497.4L514.0 494.7L513.2 494.5L508.4 498.5ZM507.1 503.2L504.3 507.8L506.4 508.6L511.6 505.9ZM516.7 505.7L521.1 497.7L523.1 497.2L523.0 493.6L520.3 492.4L518.6 493.5L520.2 498.1L515.5 504.8ZM535.3 496.6L533.5 499.8L536.4 501.7L537.6 501.6L542.1 507.2L542.0 511.9L546.1 511.3L546.6 505.9L553.5 502.7L552.5 501.4L544.9 505.8L537.0 495.8ZM546.2 499.6L549.9 497.5L548.3 496.7L545.2 498.3ZM564.6 501.0L564.9 494.3L564.3 494.0L560.5 495.9L556.2 494.9L554.7 496.3L558.8 501.9L558.3 503.9L560.7 508.1L562.4 508.0ZM572.3 500.3L575.0 507.0L573.2 511.7L574.3 512.9L577.5 508.6L576.9 507.1L579.3 498.6L581.9 498.1L583.4 492.7L582.2 491.5L576.5 495.3L571.7 493.2L569.6 494.3L569.4 499.0ZM587.8 494.3L586.6 498.8L590.1 500.3L592.1 497.6ZM645.9 497.6L646.3 493.9L643.8 491.2L641.4 493.6ZM639.2 504.3L639.6 505.9L641.6 506.6L642.9 506.0L647.2 506.9L652.1 503.6L652.3 502.7L645.7 499.8L645.9 498.0ZM650.7 496.8L657.5 499.9L656.7 504.6L659.4 509.7L661.0 508.6L662.0 505.5L662.1 499.9L672.2 500.9L673.3 498.8L668.7 495.8L667.8 496.2L660.6 493.8L657.7 494.1L655.4 492.2L651.0 494.6ZM742.0 512.1L742.1 513.9L743.5 515.3L746.5 514.2L746.4 509.2ZM750.3 505.1L752.0 500.8L760.6 500.9L761.8 497.2L755.0 498.7L751.3 495.7L748.5 500.2L745.6 501.1L747.1 506.4ZM766.7 498.8L764.6 503.5L765.7 507.8L764.7 510.0L766.2 513.9L766.9 513.9L770.1 511.1L766.7 508.4L768.2 500.2L774.6 498.5L769.1 495.1L766.4 495.8ZM779.3 500.4L783.7 499.1L783.1 495.4L781.4 494.6L777.5 498.3ZM789.8 503.2L790.1 505.9L792.7 506.7L794.1 505.6L794.1 502.6ZM800.9 498.4L800.4 495.6L798.1 495.2L796.9 495.9L796.5 499.8ZM822.8 497.1L820.8 498.5L822.8 501.9ZM822.4 511.4L822.8 511.9L822.8 510.0ZM498.9 508.1L501.4 503.1L497.0 500.9L497.0 506.6ZM500.0 514.4L504.9 517.1L507.4 521.9L508.6 521.1L509.0 515.6L514.5 512.6L515.0 510.3L514.3 509.7L506.6 513.7L500.4 511.3ZM526.9 507.5L527.4 515.9L528.6 517.5L530.7 515.3L527.7 510.7L532.3 504.6L529.7 502.9L526.9 503.1L524.2 501.8L521.2 507.3ZM562.2 518.3L564.9 512.6L558.1 512.9L554.9 507.2L551.0 509.0L550.8 511.6L558.2 514.6L558.0 519.0L561.7 522.4L563.0 522.1ZM568.8 509.9L570.0 507.0L568.7 503.9L566.8 509.9ZM579.8 515.8L586.8 511.4L591.9 516.2L592.9 515.7L595.1 506.8L599.7 506.2L601.6 502.2L595.9 500.4L591.7 506.1L583.1 502.7L581.9 506.8L582.9 509.3L578.1 515.7ZM606.1 503.7L602.8 510.5L598.9 511.0L597.8 515.5L598.7 515.7L604.7 508.8L610.0 516.5L613.8 513.4L616.9 513.3L617.5 511.3L616.2 509.1L612.3 514.0L607.0 511.7L607.1 503.7ZM621.0 508.0L624.5 506.2L624.0 503.9L619.2 505.0ZM670.7 511.7L672.2 507.4L671.7 505.5L666.7 505.0L665.8 509.0ZM677.2 501.3L676.0 503.6L676.5 505.3L677.5 505.4L679.2 501.6ZM680.6 510.1L676.1 510.0L675.5 511.7L680.3 513.0L682.2 511.6L683.7 508.7L684.6 504.4L683.6 503.2ZM690.1 515.0L692.4 513.8L693.7 508.8L694.9 507.3L694.2 505.3L689.1 505.9L688.0 510.7L687.0 512.0ZM695.2 520.7L694.3 518.1L692.3 519.2ZM700.3 514.2L698.3 510.6L697.1 514.4ZM702.7 505.1L703.9 503.1L701.6 501.4L698.8 504.1L699.5 506.0ZM712.0 524.2L717.2 531.3L719.5 529.8L718.6 526.9L713.6 523.1L714.6 519.2L711.6 515.5L705.3 520.1L703.4 518.7L699.5 518.9L700.3 521.2L702.4 521.9L705.2 520.8ZM713.4 505.6L713.1 504.6L711.7 503.8L708.6 504.5L707.4 506.5L711.2 509.5ZM724.7 503.9L721.6 499.2L717.8 503.6L722.2 505.5L724.7 505.0ZM729.4 504.1L729.4 505.5L730.4 506.1L734.4 505.1L739.5 508.2L742.2 506.3L740.9 501.9L735.5 505.4L731.7 501.8ZM760.8 507.4L760.3 505.6L755.2 505.5L753.9 508.7L751.1 509.9L751.2 513.1L753.4 512.9L754.2 508.3ZM775.5 503.2L772.3 504.0L771.8 506.5L775.2 509.2L774.7 512.2L781.5 517.7L780.3 520.8L783.8 522.4L782.0 514.3L775.6 507.4L776.0 503.9ZM790.6 514.0L790.8 511.0L788.6 510.3L785.2 513.7ZM801.5 511.8L804.2 516.6L807.0 512.1L805.1 508.9L811.5 504.6L811.4 502.5L809.7 501.7L805.6 503.8L803.4 502.6L798.8 504.0L798.8 507.8L795.5 510.5L795.3 513.6ZM817.3 501.9L816.1 502.5L816.2 504.0L819.1 504.9ZM513.3 521.0L518.4 523.1L517.1 529.1L520.9 529.4L522.7 527.6L522.0 525.0L525.1 520.6L522.8 517.6L522.4 512.0L519.5 511.9L518.6 515.7L513.5 518.5ZM533.5 510.9L535.0 513.4L537.3 513.5L537.4 508.8L536.2 507.3ZM542.9 521.3L545.2 522.7L545.4 516.1L541.3 516.8ZM547.4 529.2L551.7 528.7L555.6 529.7L558.0 525.4L555.3 522.9L553.4 524.1L545.5 523.6ZM618.7 533.3L619.5 535.7L622.0 536.3L620.1 532.0ZM625.4 523.6L624.2 518.4L628.3 514.0L628.7 511.5L627.0 510.3L622.0 512.7L621.3 514.9L622.7 516.4L620.6 524.4L621.4 525.3ZM633.1 513.9L638.8 517.4L639.6 519.4L642.3 521.0L646.6 518.5L651.7 524.3L652.2 524.0L649.6 516.9L650.4 516.0L646.4 511.5L643.5 510.9L641.9 511.7L637.7 510.2L633.4 512.1ZM651.2 509.8L654.3 513.3L655.8 512.9L653.4 508.4ZM662.3 516.8L666.3 514.6L663.2 512.8L660.7 514.6ZM707.6 512.6L703.8 509.7L703.2 509.8L705.5 514.1ZM715.1 512.3L717.9 515.9L721.9 514.6L727.2 516.0L728.5 515.0L733.6 516.0L737.3 513.7L737.3 512.3L733.7 510.1L729.7 511.1L726.7 509.3L721.9 510.4L717.1 508.7ZM757.9 514.5L759.8 517.6L761.8 515.6L760.6 512.4L758.2 512.6ZM811.4 510.3L812.5 512.2L806.5 521.8L806.6 524.6L802.6 527.1L802.8 531.2L804.3 533.1L808.3 530.6L807.5 523.4L814.6 519.7L817.7 521.0L820.6 520.3L821.9 517.6L817.1 512.8L818.1 509.5L814.3 508.4ZM497.0 528.7L498.9 525.4L502.5 523.0L501.3 520.5L498.3 518.9L497.0 521.3ZM534.6 518.0L530.9 521.9L529.5 522.4L527.1 525.9L527.3 526.8L530.6 528.8L533.1 527.8L541.2 531.0L542.7 530.0L541.2 525.8L539.1 524.4L536.8 518.2ZM550.0 519.2L552.2 519.3L553.3 518.6L553.3 517.7L550.1 516.4ZM567.1 518.9L567.5 520.6L572.8 518.6L569.1 514.6ZM578.8 525.8L581.1 524.1L579.0 520.5L576.0 520.3ZM585.5 522.4L586.9 522.4L588.6 519.5L586.2 517.3L583.5 519.0ZM590.9 524.9L592.3 528.3L595.0 530.2L595.1 536.8L599.3 535.6L598.7 529.5L601.1 527.0L601.7 524.6L598.2 520.4L595.3 519.7L593.2 520.9ZM605.0 521.3L606.9 520.4L604.3 516.5L602.6 518.4ZM614.5 524.0L614.8 529.7L615.5 529.9L617.5 528.0L615.4 525.6L617.4 517.9L615.5 518.0L611.4 521.4ZM624.0 529.3L626.2 534.0L627.4 533.7L629.6 531.2L627.9 527.6ZM634.6 520.3L630.9 518.1L629.3 519.8L630.2 523.3ZM654.5 530.8L668.3 530.0L667.6 525.9L659.9 523.3L659.5 520.9L657.0 517.5L655.0 518.0L657.9 525.9L653.6 528.7L653.6 530.5L646.7 534.6L646.9 535.7L648.4 537.1ZM671.7 522.4L672.8 528.5L676.5 528.0L680.2 529.3L683.9 527.2L683.8 526.6L677.2 522.3L678.1 517.3L673.4 516.0L665.8 520.3ZM686.4 535.8L686.9 530.9L682.9 533.2L683.1 537.1ZM692.8 528.3L697.3 530.5L699.3 525.9L695.7 526.3L686.9 521.6L687.2 518.8L684.3 515.9L682.9 516.9L682.4 520.0L688.4 523.9L688.6 528.2ZM722.1 519.5L719.1 520.5L718.9 521.3L720.8 522.7L725.5 520.4ZM730.1 522.4L738.4 524.0L743.1 521.4L747.0 523.2L749.6 522.6L747.8 518.7L742.4 520.8L739.4 517.9L734.4 521.0L729.6 520.0ZM756.4 526.0L749.1 527.5L749.1 529.7L755.4 532.3L754.5 538.3L756.3 537.7L761.2 529.8L762.4 529.8L761.3 523.7L760.2 522.3L757.7 522.9L754.2 517.5L752.5 517.7ZM771.5 525.9L771.6 524.7L775.3 520.7L775.9 519.2L772.0 516.1L768.3 518.7L765.5 518.6L764.3 519.8L765.7 521.8L766.9 528.6ZM790.0 524.2L792.1 522.9L791.1 518.8L787.7 518.6L788.8 523.6ZM799.3 517.3L795.8 518.4L796.8 522.2L800.0 523.3L801.8 521.8ZM811.0 538.9L812.7 538.5L811.7 534.0L807.4 536.8ZM819.0 527.6L822.8 529.5L822.8 524.6L817.4 526.0L814.8 524.9L812.5 526.1L813.1 531.9ZM513.0 525.9L511.1 525.1L508.3 526.8L506.0 526.4L502.6 528.6L501.9 530.3L502.8 531.2L508.8 527.0L512.4 528.8ZM564.1 526.7L562.5 527.0L558.9 533.0L560.2 536.8L562.6 536.6L566.1 531.5ZM561.9 546.5L566.9 548.9L567.1 550.5L570.7 554.0L571.6 549.0L567.3 548.8L564.8 541.6L571.9 534.7L571.9 533.2L569.6 534.7L565.2 541.1L561.1 541.4ZM571.8 532.9L575.4 529.6L572.5 523.7L568.6 525.2ZM582.9 531.3L587.4 528.8L586.7 527.1L585.0 527.1L580.8 530.1ZM605.4 529.4L603.6 531.2L604.1 536.0L606.1 537.3L608.6 536.7L611.1 538.0L614.7 536.2L614.2 534.5L610.3 532.9L609.9 526.3L608.3 525.0L606.2 526.0ZM632.9 527.1L633.5 528.6L642.1 526.9L644.8 530.3L648.7 527.9L645.6 524.5L642.3 526.4L637.8 523.8ZM704.3 526.2L702.1 531.3L704.6 532.1L707.2 527.4ZM725.8 535.4L729.0 539.5L730.0 538.8L729.8 534.9L724.5 532.8L724.6 532.0L718.8 535.8L718.6 536.5ZM725.8 525.5L723.4 526.7L724.8 530.9ZM729.8 529.9L732.0 530.7L736.2 528.4L730.3 527.2ZM744.7 534.6L745.7 539.0L749.9 537.9L750.2 535.2L744.4 532.8L744.4 527.1L743.3 526.6L738.9 529.1ZM741.2 544.1L741.1 545.3L742.5 547.0L745.4 545.7L745.3 540.9ZM776.0 528.7L768.4 533.3L769.4 536.3L774.7 537.1L776.4 536.4L777.1 531.4L786.3 530.3L788.5 528.8L786.3 527.5L784.5 527.9L777.9 524.8L776.1 526.7ZM794.1 532.2L798.1 530.5L798.0 527.5L795.1 526.6L790.7 529.2ZM497.0 533.4L497.0 538.8L500.8 540.8L499.7 544.5L504.3 550.1L503.6 552.5L510.2 553.2L509.7 546.2L513.6 543.0L513.8 540.8L512.1 538.8L502.4 541.4L500.6 535.5L498.3 533.3ZM505.4 535.1L505.5 535.7L510.8 534.3L510.9 533.3L509.2 532.5ZM515.4 535.4L516.6 536.9L519.0 535.4L519.1 534.0L515.6 533.7ZM516.8 552.7L523.3 545.3L526.6 546.3L529.6 542.5L529.5 540.7L528.3 539.0L528.1 532.8L525.6 531.3L524.0 532.9L523.3 538.2L518.4 541.3L518.2 545.4L514.5 548.3L514.9 553.0ZM538.2 535.6L538.4 535.0L532.8 533.0L532.9 537.2ZM542.5 537.4L544.1 540.6L544.4 544.1L547.0 545.8L547.0 553.0L549.7 553.8L554.3 560.3L555.9 559.2L552.1 550.9L546.8 545.4L548.0 542.6L546.0 539.1L545.5 533.8L543.4 535.2ZM554.4 534.3L550.2 533.7L550.6 537.6L551.7 539.5L555.6 538.0ZM590.3 532.7L582.8 536.7L577.8 533.7L576.6 534.7L576.7 536.7L570.3 542.9L570.7 544.2L574.1 544.4L577.0 543.5L581.2 545.4L582.8 544.8L585.4 538.8L590.4 536.9ZM635.8 551.2L636.6 547.8L635.3 546.3L641.0 535.9L642.1 535.4L640.2 532.0L634.0 533.3L631.6 536.1L636.2 544.4L630.3 549.6L630.2 551.0ZM650.2 543.3L651.8 544.7L658.7 542.7L662.4 548.9L663.7 548.5L669.2 552.3L671.1 551.4L670.9 549.3L658.1 541.1L658.2 535.6L656.4 535.5L650.3 541.8ZM662.8 538.6L675.3 546.4L675.8 551.5L677.9 552.9L678.9 550.2L675.4 546.2L676.8 539.6L678.4 538.5L678.2 533.5L676.0 532.8L672.0 533.4L670.9 534.6L663.0 534.9ZM691.0 536.7L691.7 537.5L695.1 534.7L691.4 533.0ZM702.3 540.8L704.6 537.7L704.2 536.8L699.9 535.6ZM708.4 552.6L709.2 552.9L711.3 551.6L710.5 547.7L716.3 542.6L715.6 540.2L713.6 537.9L714.1 535.0L710.8 530.5L708.4 534.9L710.1 538.1L704.4 545.9ZM729.6 550.1L736.4 544.8L736.7 541.6L740.8 538.5L740.5 537.1L736.7 533.5L734.5 534.7L734.8 541.2L728.1 545.9L723.8 540.5L720.7 541.0L721.0 541.9L727.1 546.1L724.2 552.0L729.9 552.7ZM761.3 538.6L764.3 539.9L765.1 538.3L763.8 534.5ZM775.2 541.9L769.0 541.0L767.8 543.6L768.7 544.9L773.4 544.5L779.9 549.1L779.3 553.4L782.9 554.5L786.3 550.3L781.1 546.4L780.5 542.5L785.2 538.6L785.0 535.2L781.2 535.6L780.6 539.8ZM789.5 546.8L790.7 546.3L790.2 538.4L791.1 537.5L791.2 535.9L789.6 534.5L790.1 540.7L785.9 544.1ZM799.7 534.9L795.9 536.5L795.8 536.9L800.2 538.5L801.3 536.9ZM821.1 537.6L821.3 534.0L819.5 533.1L816.8 535.0L817.4 537.9ZM532.2 551.5L536.2 550.5L542.3 553.1L542.3 548.3L539.9 546.7L539.5 541.9L538.8 540.3L534.2 541.7L534.3 544.1L530.2 549.3ZM557.2 546.7L556.5 542.7L552.4 544.3L555.4 547.5ZM583.4 549.6L583.2 554.2L589.0 554.5L585.3 548.9ZM596.8 542.4L599.8 545.3L602.9 544.6L609.1 549.2L610.9 547.1L609.2 542.3L608.0 541.7L605.1 542.4L601.5 539.8L593.9 542.1L592.5 541.2L588.9 542.5L587.4 546.1ZM625.5 550.9L625.7 547.3L630.2 543.4L627.5 538.5L626.1 538.9L622.8 542.1L617.6 540.0L614.0 541.8L615.2 545.2L617.2 545.1L623.5 551.9ZM644.1 544.4L645.5 543.2L645.7 541.0L644.2 539.7L641.6 544.6ZM691.3 543.9L687.9 540.3L682.2 542.4L681.3 542.2L680.5 544.8L682.4 547.0L690.5 544.7L692.5 552.8L695.8 552.8L699.3 545.4L696.6 539.6ZM744.4 551.3L749.3 553.6L748.3 561.0L750.9 562.3L752.4 559.5L752.8 556.9L757.9 553.8L754.8 549.6L752.3 542.6L751.7 542.2L750.1 542.7L750.2 548.7ZM758.6 546.0L762.7 552.5L764.1 552.9L765.0 547.9L763.1 544.5L757.8 542.2L757.3 542.3ZM795.3 544.6L798.6 542.9L795.1 541.7ZM804.5 540.5L803.4 542.2L802.9 546.7L797.3 548.9L800.3 552.7L804.5 551.1L807.8 554.8L812.6 553.5L812.1 552.3L804.5 549.6L807.6 542.4ZM813.6 545.7L813.4 543.2L812.3 543.4L810.8 546.9L812.7 547.5ZM818.1 542.5L818.2 544.5L821.0 545.4L822.8 543.6L822.5 542.2ZM499.1 551.2L497.0 548.5L497.0 552.0L498.8 552.1ZM524.9 550.6L519.1 557.1L517.0 557.4L518.0 560.9L519.9 561.7L521.4 560.9L519.9 556.9ZM559.3 555.6L561.9 551.8L559.7 550.7L557.5 551.8ZM556.6 564.4L557.0 567.1L561.0 568.0L564.3 566.9L564.1 565.3L559.2 562.6ZM575.2 555.3L577.5 556.7L578.4 555.4L578.7 549.5L576.7 548.5ZM593.3 552.3L597.1 552.2L599.8 555.4L602.9 562.4L607.1 553.5L601.8 549.6L598.3 550.4L595.7 547.9L591.4 549.6ZM602.1 569.1L603.4 570.2L607.8 568.5L603.4 564.2ZM612.8 566.7L617.1 563.4L619.1 563.9L622.3 562.7L621.1 556.2L615.2 549.9L612.1 553.0L608.4 562.5ZM643.1 552.2L642.9 549.2L641.1 549.4L640.4 552.3ZM640.8 557.0L640.7 560.0L644.2 560.6L647.6 556.9ZM649.0 555.4L655.5 560.5L658.3 558.6L657.7 552.3L658.4 551.4L656.5 548.2L650.6 549.9L647.5 547.7L648.1 556.4ZM687.9 553.9L687.1 550.6L683.4 551.6L682.5 554.0L686.1 555.6ZM700.1 554.6L701.1 555.7L703.7 553.9L701.9 550.9ZM715.7 549.5L716.5 553.8L712.0 556.7L712.2 560.1L713.2 560.7L717.5 558.0L716.9 554.4L718.7 552.6L721.1 547.7L719.2 546.4ZM738.9 565.6L736.8 566.6L736.9 568.2L738.9 568.6ZM743.7 560.4L744.2 556.6L740.1 554.9L739.6 550.8L738.3 549.3L734.6 552.2L734.7 553.3L739.4 555.0L741.7 560.8ZM767.8 559.1L770.0 562.3L776.3 562.2L777.8 563.8L782.6 560.9L781.9 559.1L774.2 556.7L774.8 551.3L772.0 549.3L769.5 549.5ZM795.2 556.6L794.8 560.5L796.1 561.1L799.2 568.1L799.9 568.1L800.7 567.5L800.5 562.5L804.6 558.3L803.1 556.7L800.5 557.6L797.6 556.8L792.7 550.6L791.9 550.9ZM809.3 559.3L809.2 560.9L805.3 564.5L805.4 566.5L808.9 566.7L810.1 563.7L815.7 560.6L814.8 557.8ZM820.3 550.1L817.1 549.1L816.4 550.5L817.2 552.1ZM822.8 550.6L822.8 550.3L822.6 550.5ZM498.7 563.4L497.6 567.3L499.2 569.0L504.2 568.0L507.4 571.5L508.2 576.7L510.0 577.1L512.8 574.2L511.3 572.8L509.9 567.9L506.5 566.9L504.7 567.5L499.1 562.8L498.4 556.8L497.0 556.7L497.0 561.6ZM503.6 560.4L505.2 561.7L507.2 557.6L503.2 557.2ZM509.8 563.0L511.3 563.4L513.4 561.7L512.2 558.1ZM517.9 566.0L516.4 565.3L514.5 566.9L515.1 569.0ZM526.0 570.4L528.3 568.5L527.3 562.5L530.0 559.2L539.1 559.0L539.9 557.2L535.9 555.4L530.7 556.7L528.3 554.1L525.3 557.8L527.3 563.3L521.8 566.0ZM536.9 571.1L538.4 575.5L541.1 574.1L542.5 568.0L551.5 570.1L552.4 568.6L551.9 564.9L546.8 557.8L544.8 557.5L543.3 561.3L545.3 565.7ZM562.6 559.1L564.8 560.3L566.5 556.7L565.2 555.3ZM568.6 563.5L569.6 567.7L575.8 561.2L570.7 558.7ZM581.5 559.2L588.1 561.2L596.8 560.8L595.0 557.0L593.1 557.1L590.3 559.8ZM632.6 560.6L634.5 561.8L635.9 560.8L636.2 555.9L628.5 555.6L627.6 555.0L625.8 556.0L626.8 561.3ZM662.5 553.8L663.2 560.8L657.8 564.6L657.9 566.4L666.0 567.2L667.6 571.5L672.3 569.3L669.4 562.6L674.2 559.5L675.3 556.7L673.4 555.5L668.7 557.7ZM679.0 560.1L685.2 563.8L685.6 567.6L686.7 568.1L689.4 566.6L694.6 567.8L695.4 566.0L692.0 564.9L691.2 557.3L687.0 561.1L679.8 557.9ZM690.1 571.6L686.8 573.4L683.5 571.8L680.2 573.4L680.2 575.3L689.6 575.3L690.7 576.8L693.3 575.4L694.0 572.5ZM698.9 569.8L703.0 569.7L701.8 566.3L700.7 565.7ZM698.5 559.9L696.4 557.5L695.9 557.5L696.4 561.4L698.8 562.1ZM703.5 561.8L705.6 562.9L707.5 568.5L711.5 569.8L713.2 568.0L722.1 567.5L722.6 564.8L719.8 562.1L713.3 566.1L707.6 563.1L707.2 557.2L703.3 560.0ZM725.0 576.4L726.0 576.7L729.0 575.3L729.0 573.8L724.1 569.7ZM722.3 558.0L727.7 563.1L727.1 566.1L731.3 569.7L732.2 569.0L732.0 563.6L736.9 561.3L735.8 558.7L733.1 557.7L722.1 556.5ZM750.7 573.5L750.0 576.1L751.6 578.2L754.2 574.7L753.5 571.5ZM759.5 567.0L764.3 567.9L766.0 564.8L763.1 560.5L763.1 557.5L761.6 557.1L757.1 559.8L754.3 565.7L755.1 568.3ZM790.3 557.6L788.7 554.8L786.4 557.6L787.4 560.2L788.5 560.7L790.1 560.2ZM822.8 559.2L822.8 555.4L821.3 555.1L819.2 556.4L820.4 559.9ZM532.9 567.9L539.3 564.0L539.2 563.7L532.3 563.9ZM574.7 569.2L582.0 571.8L582.3 576.8L587.1 574.3L586.6 567.7L597.6 567.9L598.2 565.4L590.7 565.8L589.8 567.1L580.3 563.7ZM625.9 566.4L622.5 567.6L623.5 569.6L628.1 569.0L632.8 571.3L631.1 569.7L643.2 566.3L643.0 565.2L638.8 564.5L634.7 567.5L631.5 565.5ZM634.1 572.5L637.7 577.2L638.6 576.7ZM649.2 570.4L654.5 577.5L657.4 573.7L662.1 574.5L663.2 573.2L662.6 571.6L653.3 570.6L653.1 564.6L649.5 561.8L647.6 563.9L648.6 569.7L640.4 572.0L643.7 575.0ZM677.2 568.8L678.0 569.3L680.9 567.8L680.8 566.6L676.2 563.8L675.3 564.4ZM749.8 567.1L745.5 564.8L743.6 565.2L743.6 568.7L748.0 569.6L750.1 568.1ZM775.0 570.3L776.4 574.0L780.5 575.1L779.8 582.0L781.4 582.2L782.2 581.3L783.6 575.7L790.4 574.6L790.7 573.7L788.1 571.1L782.3 575.8L774.3 566.9L770.2 567.0L768.6 569.9ZM782.9 569.3L787.5 565.4L785.7 564.6L781.2 567.3ZM795.9 572.3L792.6 564.6L789.2 565.5ZM796.2 572.6L794.7 576.4L796.7 579.0L800.8 577.4L801.9 575.8L809.0 575.1L809.5 572.9L808.9 571.5L803.8 571.0L801.4 573.0ZM813.9 567.0L813.0 569.2L814.5 572.3L813.4 576.9L814.1 577.9L822.1 574.6L822.8 576.3L822.8 572.9L820.3 572.7L818.2 564.6ZM502.5 573.1L500.1 573.6L497.8 578.6L497.0 578.9L497.0 582.8L502.5 584.5L501.7 587.6L506.4 587.6L509.6 583.2L509.0 581.7L504.1 580.6ZM520.3 574.5L522.2 573.2L519.8 570.8L517.5 573.2ZM533.0 573.8L531.1 572.2L529.0 574.0L530.5 576.6L533.9 576.6ZM539.6 580.3L543.0 581.4L545.6 577.6L552.9 575.3L546.0 573.7L545.2 577.3ZM554.7 576.1L558.9 575.7L558.8 572.3L556.0 571.7L553.9 575.2ZM563.5 572.1L563.7 576.4L566.2 577.6L567.0 582.4L571.1 583.6L572.4 582.9L573.4 580.1L577.5 577.1L577.4 575.1L570.2 572.6L568.5 573.0L566.4 571.2ZM591.9 574.7L593.8 576.7L595.5 572.5L591.7 572.5ZM597.1 587.6L602.2 583.7L606.5 583.4L608.0 577.7L611.1 575.4L610.8 572.3L602.5 575.6L600.1 573.6L597.1 581.0L595.2 581.7L593.6 585.0ZM615.3 570.7L616.1 577.5L612.1 580.5L611.1 584.5L613.0 586.1L619.3 582.6L620.4 582.9L625.8 580.8L625.7 579.3L628.3 574.3L627.3 573.8L620.7 574.6L617.8 568.7ZM675.2 573.1L671.2 575.0L674.8 579.6L673.2 582.9L676.4 585.2L681.0 583.4L684.6 584.8L687.3 582.9L687.2 580.0L675.4 580.0ZM700.9 574.7L698.4 574.5L698.1 575.6L700.7 575.9ZM706.3 573.0L705.3 577.5L706.0 578.3L710.1 576.5L710.0 574.2ZM715.4 572.6L714.6 573.3L715.1 579.5L707.3 582.9L709.5 585.0L717.4 579.1L719.8 584.1L724.4 582.9L724.1 581.0L720.7 579.9L719.7 572.3ZM734.2 575.8L737.2 576.1L737.7 573.1L735.2 572.7L733.7 573.9ZM732.7 580.4L731.2 579.5L728.8 580.6L729.3 583.8L730.1 584.9L730.1 587.6L735.3 587.6L739.1 584.6L738.3 580.9ZM745.5 575.0L745.7 573.9L742.5 573.3L741.8 576.8ZM757.2 581.9L763.9 576.7L764.1 572.6L759.8 571.8L758.5 572.2L759.2 575.8L755.1 581.4ZM768.8 574.7L768.6 576.3L772.9 577.9L771.7 574.8ZM774.9 582.3L775.4 578.6L773.1 578.0ZM520.8 579.9L516.0 577.7L513.5 580.2L514.1 581.6L517.5 582.6L521.3 581.1L525.6 584.0L526.4 587.6L532.4 587.6L532.4 585.2L535.0 581.6L527.7 581.2L525.2 576.8ZM538.5 584.9L537.1 587.6L541.5 587.6L542.1 586.0ZM550.0 585.1L552.0 582.7L551.7 580.6L548.6 581.6L546.9 584.0ZM554.0 587.6L559.7 587.6L560.7 586.7L561.8 587.6L568.1 587.6L562.9 586.1L562.0 580.8L560.9 580.3L556.4 580.7L557.0 584.1ZM587.2 587.6L590.7 580.2L589.1 578.6L582.5 582.0L580.2 581.0L577.3 583.1L576.1 586.3L573.5 587.6ZM634.3 580.5L631.9 577.7L630.5 580.3L630.6 581.3L632.6 583.7ZM633.9 587.6L638.7 587.6L633.9 587.0ZM646.5 587.6L645.0 586.3L643.3 587.6ZM638.3 582.8L641.3 583.2L642.3 582.5L642.0 580.3L638.8 581.9ZM651.2 587.6L655.8 587.6L657.0 584.2L660.8 583.5L660.7 579.0L659.4 578.8L654.5 585.4L648.4 577.2L646.6 578.7L647.0 582.1L651.2 584.6ZM668.5 581.9L669.3 580.2L666.5 576.6L665.4 577.9L665.5 583.3ZM692.0 582.9L693.8 583.9L696.0 583.3L696.0 579.8L692.2 581.3ZM700.7 580.6L700.7 586.9L698.1 587.6L705.4 587.6L702.1 584.5L702.8 581.8L701.7 580.6ZM689.6 587.0L688.7 587.6L690.8 587.6ZM743.2 581.4L743.7 583.9L746.7 585.0L748.8 582.5L746.7 579.6ZM780.2 586.8L777.5 586.4L773.8 587.6L780.3 587.6ZM769.5 581.7L766.6 580.6L760.2 585.6L760.3 587.6L772.0 587.6ZM787.4 579.9L787.1 581.3L792.7 584.5L793.1 584.2L793.4 582.5L791.0 579.3ZM801.2 582.3L798.0 583.6L797.4 586.7L796.3 587.6L798.6 587.6L798.8 586.6L803.0 586.3ZM805.3 580.2L809.1 587.6L816.5 587.6L820.8 584.0L819.5 580.7L812.1 583.8L809.7 579.7ZM514.6 586.7L513.2 586.3L512.3 587.6L514.3 587.6ZM521.6 587.6L520.7 586.4L519.3 587.6ZM629.2 587.6L627.6 585.1L621.2 587.6ZM670.0 586.4L667.8 587.4L667.9 587.6L671.7 587.6ZM725.4 587.5L725.1 587.6L725.4 587.6ZM715.6 586.3L713.8 587.6L716.3 587.6ZM755.5 586.3L752.4 585.5L750.7 587.6L755.6 587.6ZM784.8 585.4L785.1 587.6L788.7 587.6Z"/>
<path fill="#8c8c8c" stroke="#8c8c8c" stroke-width="2.6" d="M580.2 260.3L582.0 259.1L581.9 258.2L577.3 258.9ZM587.4 258.2L588.3 258.7L589.2 258.2ZM756.0 258.2L752.1 258.2L751.9 258.9L754.5 259.8ZM504.9 266.5L504.9 264.2L503.6 264.3L504.1 266.8ZM678.6 262.1L676.7 264.3L680.4 263.9ZM702.7 266.4L698.4 265.2L698.0 267.0ZM799.3 260.2L801.5 263.2L805.3 264.0L802.6 260.8ZM560.5 276.5L564.7 275.4L564.9 271.0L559.1 274.9ZM649.9 275.0L650.4 274.0L649.0 271.5L647.1 274.7ZM540.9 280.1L541.5 278.6L540.1 278.3L539.1 280.1ZM579.4 278.7L579.2 280.9L584.1 281.5L583.9 278.9ZM618.5 277.2L615.3 278.6L619.2 281.0ZM655.3 276.5L654.6 278.2L655.5 281.5L657.6 281.3L659.8 276.4ZM704.0 280.3L703.7 282.9L706.7 284.4L708.0 282.6L707.8 279.9L705.6 279.5ZM569.3 289.5L570.7 287.8L569.2 288.4ZM655.1 287.4L657.0 291.0L659.1 289.8L658.5 286.8ZM712.6 287.1L711.9 286.7L711.6 287.1ZM754.2 288.7L755.8 289.0L757.7 286.0L754.6 284.5ZM641.5 295.1L643.6 294.6L643.1 294.0ZM734.4 295.7L736.3 292.5L734.8 291.6L732.6 293.9L732.8 295.1ZM768.1 295.3L766.5 297.8L769.4 296.4ZM778.7 300.8L780.4 297.2L777.8 296.3L776.5 297.4ZM810.6 296.3L812.4 298.0L814.1 294.9ZM542.6 305.3L543.3 305.0L544.5 300.5L540.6 303.3ZM558.2 304.5L560.8 303.8L560.7 302.8L558.7 301.8ZM580.4 304.6L580.2 303.2L576.9 302.5L576.6 303.5ZM635.2 300.5L629.5 301.0L630.4 304.2L631.7 305.4L634.9 304.4ZM681.9 305.0L683.6 305.2L684.1 300.6L682.5 299.4L679.7 300.6ZM502.8 313.4L504.4 312.5L503.7 310.1L501.6 312.0ZM509.9 311.6L510.0 312.4L511.4 311.1ZM609.3 312.2L610.3 312.9L610.9 310.5L609.2 309.7ZM617.8 311.4L617.3 309.8L616.1 312.1ZM499.1 317.6L497.4 315.5L497.0 318.5ZM557.0 321.2L560.0 321.3L560.4 318.7L556.5 319.4ZM585.3 317.8L587.2 318.3L590.1 316.5L585.1 315.1ZM818.0 322.9L820.4 320.8L820.0 319.1L817.8 318.1L814.6 319.6L813.8 320.9ZM557.7 328.9L559.0 327.8L558.9 326.8L556.1 326.7ZM593.1 327.1L593.2 324.0L592.0 321.8L590.9 322.5L592.3 327.6ZM698.0 328.3L698.4 324.9L694.5 326.6L695.0 327.6ZM787.0 327.9L789.1 329.8L790.6 329.1L790.2 327.7L786.8 326.2ZM542.2 336.9L545.2 334.4L542.8 333.5ZM563.8 334.0L562.2 332.3L560.4 333.8ZM578.4 335.0L579.7 333.1L577.6 329.4L574.1 331.0ZM605.4 331.8L605.7 332.5L606.1 332.0ZM661.9 334.3L662.4 331.7L659.6 334.1ZM554.5 343.0L555.6 346.4L557.8 345.3L555.1 342.2ZM568.4 343.8L573.2 344.0L573.7 341.8L568.8 341.8ZM698.7 344.2L700.7 342.2L698.6 341.3ZM716.8 344.8L719.7 343.6L717.9 339.4L714.4 341.1L714.2 343.3ZM768.9 346.3L770.8 343.2L769.1 342.5ZM781.0 344.0L781.0 344.0L780.9 344.0ZM792.7 342.7L795.7 343.9L797.1 342.4L796.0 340.6ZM613.3 349.9L615.2 349.5L615.3 348.6L611.4 346.1L610.1 346.9ZM734.7 351.6L738.4 350.1L735.3 347.2ZM755.8 347.1L753.7 347.7L754.8 350.2L755.1 350.3ZM789.1 350.7L793.6 350.5L794.0 349.1L790.4 347.7ZM514.4 356.3L511.4 355.2L510.2 355.6L510.5 356.6L513.3 357.3ZM609.9 360.7L610.9 360.0L611.5 356.5L607.6 359.1ZM627.3 358.6L631.9 358.7L630.7 356.2L626.7 357.1ZM811.9 359.8L814.7 359.5L814.8 356.5L811.4 356.0ZM545.3 365.8L545.5 364.7L542.6 363.0L540.7 365.8ZM641.7 366.3L642.5 364.1L640.8 362.9L639.2 363.7L639.0 365.2L640.2 366.5ZM738.5 365.7L737.7 364.0L736.4 365.3L736.9 367.0ZM773.3 366.0L776.0 366.7L778.1 363.0L774.7 362.3ZM518.9 371.8L522.0 373.2L522.7 372.9L519.0 370.5ZM796.9 373.4L798.9 371.0L798.4 370.5L796.2 372.9ZM801.8 376.1L806.2 375.6L803.8 373.8ZM593.6 381.4L596.8 383.2L597.5 379.9L594.9 379.0ZM628.4 380.0L628.0 381.8L630.7 382.9L632.3 380.6L630.0 379.6ZM685.7 385.1L687.7 383.3L684.4 379.6L683.3 380.4ZM747.9 378.4L747.0 376.9L744.3 378.4L745.4 382.0L746.5 382.1ZM791.6 380.2L793.5 381.2L795.0 380.6L795.3 379.1L792.5 377.1ZM555.3 385.8L553.6 387.4L553.7 388.4L556.6 389.6L557.5 388.9ZM583.4 387.9L585.7 388.1L585.4 386.0ZM597.9 393.0L602.6 391.5L602.1 389.1L600.0 387.7L596.9 392.1ZM620.6 390.9L620.2 387.9L617.2 388.2L619.4 392.0ZM635.4 389.7L637.5 387.4L635.7 385.3L634.7 386.9ZM768.1 388.2L768.5 386.2L768.1 385.2L767.0 385.6ZM796.4 389.4L797.3 387.3L796.3 386.0L794.7 388.8ZM503.2 398.1L506.4 396.4L505.7 393.3L503.3 393.6ZM583.8 394.0L585.1 397.9L588.9 393.5ZM784.0 395.1L784.1 393.4L782.4 391.8L778.0 394.8L778.2 395.6ZM566.9 405.7L564.4 404.1L562.1 407.1L563.9 408.8L567.0 406.6ZM591.5 405.8L589.8 405.6L590.5 406.1ZM620.6 402.6L618.2 401.6L618.8 405.7L619.3 405.6ZM626.0 407.5L626.9 405.5L625.7 404.7L624.7 406.9ZM734.8 407.7L738.1 407.2L736.7 403.4L735.1 403.5L732.8 405.9ZM780.6 403.7L782.1 403.6L783.0 400.7L778.5 401.1L778.2 402.0ZM803.6 405.4L805.1 405.8L805.5 401.5L804.8 401.0L803.3 401.6ZM602.8 414.9L604.1 413.2L603.9 410.5L600.9 410.0L599.7 413.8ZM630.2 412.7L633.0 413.7L632.9 408.8L631.6 408.4ZM581.1 420.2L582.3 419.4L583.1 416.9L579.1 419.2ZM610.3 420.7L610.9 418.7L607.8 417.4L606.8 418.7L607.1 419.8ZM618.8 422.9L618.8 418.4L617.3 417.9L615.9 422.1L617.7 423.7ZM718.6 415.5L718.4 415.4L715.7 419.9ZM796.5 416.9L793.8 418.1L793.8 418.9L797.8 418.1ZM497.2 430.6L497.0 429.5L497.0 430.7ZM578.5 425.0L576.8 424.2L575.8 425.0L576.5 429.8L578.3 428.6ZM623.6 430.5L624.9 429.7L625.3 427.1L622.5 427.0L621.1 428.0ZM507.9 434.0L508.7 436.2L509.8 436.5L512.0 435.0L509.3 432.5ZM541.1 435.9L540.8 432.4L539.1 431.8L536.9 435.6L537.1 437.6L537.7 438.1ZM636.1 435.4L636.3 434.3L634.8 433.2L634.9 435.4ZM751.6 434.9L752.3 432.7L749.8 430.7L748.5 432.8ZM777.1 435.4L780.5 439.0L781.7 438.2L779.7 435.2L777.7 434.1ZM761.6 444.6L765.2 443.0L764.8 441.4L761.5 442.3ZM521.3 452.9L516.6 449.5L517.2 452.3L520.2 454.0ZM673.2 451.1L673.7 454.7L677.0 453.9L674.4 450.4ZM690.0 451.9L692.4 451.5L692.1 449.7L689.1 451.0ZM698.2 452.5L702.1 451.5L702.3 448.1L697.9 447.2ZM498.3 456.8L499.5 457.8L502.7 457.9L502.5 456.4ZM541.9 457.9L544.9 457.1L542.6 456.2L541.9 456.8ZM684.6 458.9L685.9 455.5L684.8 454.5L682.4 455.7ZM756.9 459.0L758.4 457.8L758.6 454.8L753.8 457.0L754.0 458.4ZM513.2 465.9L510.8 465.8L509.4 466.8L512.2 468.8L514.4 468.3ZM532.6 464.7L530.6 466.6L532.0 467.9L534.1 467.3L533.7 464.9ZM636.1 465.1L631.9 465.6L632.2 467.4L632.6 467.5ZM723.3 469.1L726.3 466.6L726.2 465.8L721.6 465.3L721.3 467.7ZM752.4 463.6L751.2 468.8L756.8 469.4L755.3 464.3ZM767.4 467.5L768.4 467.8L768.1 466.0ZM783.3 465.6L786.0 466.8L787.1 464.2L785.5 463.0L782.5 463.7ZM689.5 487.3L690.6 480.0L688.6 480.4L686.9 484.6ZM558.5 488.6L558.4 490.2L560.6 490.2L559.5 488.3ZM785.1 490.7L787.2 489.5L787.4 487.7L783.0 486.7L783.3 489.9ZM514.5 497.3L513.3 495.0L510.0 497.8L509.9 498.9L512.4 500.4ZM546.3 499.1L549.0 497.5L545.8 498.5ZM555.2 512.9L556.3 510.6L554.7 507.8L551.4 509.3L551.2 511.3ZM702.4 519.2L700.1 519.3L700.6 520.9L702.4 521.5ZM540.9 526.1L537.0 528.9L541.1 530.5L542.2 529.8ZM616.9 528.0L615.1 527.8L615.2 529.4ZM690.2 527.9L692.2 524.9L690.3 523.9L688.9 526.0ZM698.8 526.1L697.8 526.1L696.0 529.5L697.1 530.0ZM740.4 528.7L740.2 529.7L742.5 531.9L744.0 530.2L744.0 527.4L743.3 527.1ZM769.5 526.6L766.9 526.2L767.2 528.0ZM778.6 528.4L780.3 526.4L778.0 525.3L776.8 526.6ZM515.9 534.1L516.7 536.4L518.7 534.3ZM533.3 536.6L537.9 535.3L537.9 535.2L533.2 533.3ZM554.1 534.6L550.6 534.1L551.9 539.0L555.1 537.8ZM560.5 536.3L562.4 536.2L563.2 535.0L559.8 534.4ZM598.9 535.3L598.7 533.1L595.5 533.3L595.5 536.3ZM509.5 549.2L507.4 548.4L504.1 552.2L509.8 552.7ZM687.4 553.8L686.8 551.1L683.7 552.0L683.0 553.8L686.0 555.1ZM724.8 551.7L729.2 552.2L726.0 549.3ZM782.8 554.0L785.8 550.4L783.4 548.6L780.0 551.6L779.8 553.1ZM807.7 551.2L806.8 553.1L807.9 554.3L812.1 553.2ZM534.1 556.3L534.0 558.7L538.9 558.6L539.4 557.4L535.8 555.8ZM563.2 559.0L564.7 559.8L566.0 556.8L565.2 556.0ZM571.9 559.2L571.0 559.1L570.7 559.7ZM696.7 561.1L698.3 561.6L696.4 558.1ZM509.8 569.2L509.6 568.2L507.2 567.6L506.5 569.6ZM671.7 569.1L670.4 565.9L669.2 565.7L667.3 569.5L667.8 570.9ZM785.6 565.1L781.8 567.4L782.9 568.7L785.5 566.6ZM643.7 574.5L646.0 572.5L644.9 571.2L641.2 572.2ZM795.2 576.3L796.8 578.6L800.1 577.3L798.7 573.1L795.7 574.9ZM808.7 574.7L808.6 571.8L803.9 571.5L805.1 575.1ZM818.4 574.8L814.2 575.1L813.9 576.8L814.2 577.4L818.4 575.7ZM669.9 586.9L668.4 587.6L671.0 587.6ZM776.8 587.6L779.9 587.6L777.5 586.8Z"/>
<path fill="#989898" stroke="#989898" stroke-width="2.6" d="M503.6 258.2L506.7 258.6L507.5 258.2ZM545.0 259.3L544.8 258.2L543.1 258.2L543.0 259.1ZM631.9 259.2L631.9 258.2L630.5 258.2L630.4 259.8ZM557.6 269.2L559.8 267.5L558.3 265.6L555.7 265.2ZM592.9 266.1L592.6 262.6L591.6 263.1L592.3 266.3ZM691.9 265.7L693.2 263.1L690.3 262.0L687.2 264.2ZM819.9 261.0L820.4 265.2L820.8 265.3L822.6 264.0L822.8 262.3ZM505.7 274.8L508.4 273.6L506.9 271.7L504.6 272.4L504.2 274.2ZM570.2 274.4L574.7 274.8L570.4 271.6ZM585.0 270.9L584.6 273.4L585.7 273.7L586.9 271.5ZM592.1 273.1L595.5 274.7L597.2 273.7L596.9 271.3L595.8 271.0L592.4 272.0ZM602.7 273.6L605.0 275.1L607.8 274.0L607.1 271.0L604.4 269.1L602.3 270.5ZM674.4 272.3L676.4 273.4L680.2 271.9L680.3 269.5L674.5 270.1ZM707.9 274.4L710.8 274.3L710.5 272.1L708.0 271.6ZM765.9 275.7L767.6 274.3L765.5 270.4L764.0 271.5ZM784.8 275.7L786.6 274.8L786.7 273.6L781.7 271.4L780.9 272.3ZM555.6 285.5L556.4 284.5L556.7 280.5L555.0 278.6L554.0 278.8L553.2 282.7ZM599.7 283.0L601.5 279.4L600.0 278.4L598.4 279.3L598.4 282.2ZM624.1 277.0L624.9 281.8L627.7 282.3L629.3 281.4ZM718.7 279.9L714.1 278.7L713.3 279.2L713.4 281.4L715.4 282.1ZM725.3 278.1L724.2 279.0L724.1 281.0L725.1 283.1L730.3 282.0L728.9 279.3ZM741.6 277.2L741.3 279.9L743.0 280.2L742.8 276.3ZM786.9 280.8L786.5 283.3L789.9 283.4L788.9 279.8ZM795.0 281.2L796.3 280.4L796.1 279.8L794.7 280.0ZM814.2 279.0L810.0 279.0L810.0 282.0L813.7 282.3ZM541.1 289.8L542.1 288.6L541.6 285.6L539.7 285.6ZM559.5 290.8L564.0 291.2L563.8 289.4L560.2 288.6L559.0 290.0ZM615.9 287.8L617.0 286.1L614.3 284.5L613.5 286.6ZM736.9 286.4L740.6 288.7L741.6 288.5L741.7 285.6L738.4 285.0L736.7 285.4ZM520.5 295.8L518.6 297.7L519.1 298.4L523.8 298.1L523.8 296.1ZM583.6 297.9L582.8 293.6L581.0 294.1L580.0 297.5ZM589.1 297.4L590.2 297.7L591.0 296.6L591.1 294.6L588.3 293.4ZM599.2 292.6L596.6 295.1L602.0 295.7ZM741.8 298.7L743.9 296.5L743.6 293.7L741.8 294.1L739.2 298.4ZM819.5 293.7L820.8 293.8L819.4 293.4ZM501.0 305.1L501.2 301.9L498.6 301.8L497.0 302.8L497.0 307.8L497.5 308.2ZM531.5 304.6L532.5 303.8L530.5 303.7ZM693.9 303.7L691.4 300.6L689.6 301.3L689.1 305.6L691.3 305.9ZM754.8 303.3L753.5 306.1L753.9 306.3L757.7 302.6ZM763.3 303.3L764.5 305.6L767.1 305.7L766.1 303.3ZM772.3 301.1L771.4 301.7L772.3 303.9L773.7 303.1ZM786.6 303.4L786.9 301.8L785.1 300.2L783.3 304.0ZM792.3 302.8L791.9 304.9L794.0 306.0L793.3 302.3ZM569.3 309.1L569.2 312.1L571.3 312.6L572.8 310.9L572.1 307.7ZM603.7 310.2L599.2 309.2L598.2 309.6L598.3 311.6L599.9 312.2L603.8 311.4ZM704.7 310.3L708.8 313.7L709.5 313.4L709.6 310.1L707.5 308.3ZM715.0 310.7L715.0 313.7L716.7 314.6L717.8 309.6ZM759.9 308.7L757.8 310.3L758.9 313.1L759.0 313.2ZM764.6 313.4L767.8 314.3L769.0 313.7L768.4 311.2L765.0 311.1ZM801.1 313.2L801.8 313.2L804.3 310.8L802.0 309.7L800.5 310.5ZM821.8 313.9L822.8 313.0L822.8 310.1L820.4 308.1L819.3 308.3L820.2 313.2ZM540.6 316.0L542.9 320.1L544.9 317.2L542.0 314.6ZM575.4 316.3L576.0 317.9L578.8 319.6L579.8 318.8L579.6 315.6L576.7 314.8ZM633.3 320.0L629.9 317.4L628.0 319.3L630.4 322.2ZM740.3 316.5L737.7 316.1L738.9 320.3ZM744.2 321.8L745.8 321.7L748.2 319.6L745.8 317.5ZM763.1 320.2L765.2 320.4L765.3 319.3L762.9 318.6ZM600.9 324.6L598.6 325.4L598.6 326.2L600.7 326.4ZM607.9 325.7L606.7 326.4L609.9 327.6ZM670.9 328.0L671.7 324.9L667.8 326.1L667.8 327.0ZM679.7 328.9L680.8 325.6L679.4 324.6L677.2 325.3L676.9 327.5ZM743.4 328.7L745.4 328.3L745.0 327.3L743.0 327.4ZM770.3 328.1L770.7 330.3L773.5 330.3L773.2 328.0ZM778.8 328.6L781.4 327.5L781.1 324.0L780.3 323.6L778.4 326.0ZM503.6 331.2L504.4 334.6L507.0 334.9L508.9 333.1L509.0 331.6L505.8 329.4ZM571.8 336.3L569.5 334.2L568.8 336.3ZM600.1 333.5L599.7 331.8L595.4 332.2L596.8 336.5ZM640.2 334.7L643.4 333.7L643.5 333.2L640.1 333.6ZM744.2 334.2L744.3 336.4L747.9 334.9L748.4 333.4ZM762.7 334.8L764.5 334.8L765.7 332.7L765.2 331.1L760.9 331.3ZM774.8 339.0L775.3 338.3L774.5 335.8L770.3 335.8L769.7 336.8ZM809.7 333.2L809.0 332.5L806.7 333.5L807.2 334.7ZM521.5 341.1L520.8 341.4L519.8 344.8L523.0 343.7ZM617.5 343.5L618.0 342.7L615.9 339.0L614.0 340.3L614.0 341.3ZM647.0 341.5L647.3 340.6L645.0 338.9L643.4 339.4ZM654.6 340.0L652.6 342.2L655.3 343.7ZM679.1 338.5L676.4 339.9L677.9 343.2L679.3 343.4L681.7 341.3ZM708.7 343.3L708.5 340.5L706.2 341.7L706.3 342.0ZM737.7 338.6L734.2 338.1L734.8 341.2ZM739.9 344.0L742.7 346.6L742.1 342.1ZM526.2 350.7L526.8 348.2L521.9 349.9ZM599.8 353.7L599.1 348.2L597.9 347.8L596.7 353.9ZM605.3 354.0L607.8 352.3L604.8 349.5ZM666.3 348.9L669.2 352.0L669.3 352.0L669.9 350.0ZM726.4 349.7L729.2 351.2L729.8 346.9L724.8 346.8ZM776.6 348.7L775.7 345.8L773.5 349.6ZM810.1 348.5L809.5 348.9L809.5 350.5ZM583.8 360.1L585.3 359.2L586.0 356.3L585.1 355.7L582.6 358.5ZM616.5 359.6L619.6 356.1L617.5 354.5L617.4 354.6ZM644.8 359.0L646.7 360.2L648.6 360.1L646.2 356.7ZM662.7 357.5L664.5 355.2L664.4 355.2L662.2 357.1ZM797.5 354.4L796.1 359.4L798.1 360.3ZM805.9 359.1L805.9 355.6L803.1 355.3L803.5 359.0ZM518.9 362.1L516.9 361.5L517.0 364.2L517.2 364.3ZM522.6 366.3L524.3 367.4L524.1 364.4ZM568.7 365.8L566.5 366.4L568.8 366.6ZM574.3 366.1L578.5 368.4L580.4 367.1L580.4 364.7L578.4 362.1L574.0 363.9ZM589.0 365.2L588.2 363.9L585.9 365.5ZM605.3 364.2L603.3 366.9L607.5 366.0ZM719.0 368.5L720.3 369.9L722.5 364.8L720.2 364.3ZM781.2 368.7L785.0 366.0L784.1 363.5ZM635.5 369.5L634.3 370.1L633.4 375.1L635.1 375.8L636.6 374.7L636.5 370.6ZM670.5 374.2L669.2 373.6L668.7 374.0ZM699.5 373.2L699.4 376.8L701.6 376.1ZM499.6 381.9L498.2 379.4L497.6 379.6L498.1 383.5ZM724.0 383.3L723.2 378.2L721.4 377.3L718.4 380.4ZM773.1 383.0L777.5 382.4L777.3 381.6L774.7 381.0L772.6 381.8ZM786.0 380.3L786.1 379.1L783.1 378.8L782.4 379.7L783.2 382.3ZM510.5 390.5L513.9 389.3L513.3 386.3L511.1 385.8ZM591.0 386.3L592.3 389.1L593.1 387.5ZM645.2 388.0L642.6 389.4L646.2 391.0ZM692.8 386.1L689.7 388.9L692.0 390.4L693.1 390.1L694.2 386.0ZM778.3 387.9L773.6 388.5L773.3 390.2L774.3 390.6ZM805.8 387.9L802.7 388.7L802.7 388.9L804.9 390.2L806.6 388.8ZM812.7 388.2L815.7 387.0L814.8 386.2ZM497.8 394.0L497.0 394.4L497.7 396.0ZM539.9 396.6L541.1 398.4L543.4 396.4L544.1 393.7L541.6 392.2ZM569.4 397.3L568.8 400.2L569.6 400.8L570.8 399.9L570.4 396.7ZM578.5 395.5L575.8 395.6L576.1 398.4L579.2 398.3ZM630.9 398.6L633.0 395.0L631.6 395.5ZM669.2 396.7L669.9 397.6L671.4 396.6ZM754.2 395.7L758.3 396.7L758.3 393.6L756.3 392.2ZM793.2 397.5L794.2 396.9L794.1 394.4L791.3 393.5L789.6 394.2L789.5 396.0ZM822.8 398.4L822.8 397.5L822.4 398.3ZM502.1 405.8L504.5 408.4L505.3 407.8L503.1 403.6ZM634.1 403.4L636.4 403.5L636.4 400.6ZM674.1 404.2L673.1 402.1L671.8 402.9L671.4 405.4ZM699.4 402.6L697.2 405.1L698.6 406.0L699.8 404.3ZM712.3 407.3L715.6 407.9L716.4 405.6L714.7 403.2ZM752.1 406.2L753.1 406.2L753.3 401.2L752.0 400.7ZM760.8 403.0L758.8 402.2L758.6 405.3ZM498.8 410.2L497.6 412.0L500.2 411.8ZM522.6 412.9L525.0 413.7L525.1 411.4L523.0 410.2ZM541.4 412.6L545.0 412.0L545.1 408.4L543.3 407.3ZM691.9 409.5L693.8 412.4L696.9 411.4L693.2 409.1ZM762.4 409.3L764.1 413.5L767.4 413.1L767.2 411.1L763.7 408.0ZM784.5 410.5L783.1 409.0L781.9 409.1L780.6 413.1ZM516.2 421.3L519.2 422.6L520.9 418.3L518.2 417.3ZM588.1 419.2L587.9 420.0L592.3 422.2L592.4 418.6ZM699.3 416.6L695.9 417.5L695.7 419.8L697.6 419.7L699.6 417.7ZM511.8 425.6L511.9 427.3L515.4 430.7L517.0 427.7ZM533.5 427.4L531.4 429.5L533.2 430.9L534.8 428.3ZM542.8 427.2L542.8 424.7L540.8 426.5ZM695.6 428.7L697.2 428.2L696.6 425.2L693.7 425.3L693.2 425.8ZM720.0 427.2L721.8 428.3L722.8 425.9L719.5 425.4ZM755.7 428.4L756.8 426.5L753.4 426.5ZM762.0 428.4L763.7 430.3L764.7 428.4ZM811.4 427.5L813.1 423.6L811.6 423.3L808.4 425.6ZM555.6 435.0L557.0 435.3L557.1 431.9L555.1 431.7ZM609.5 435.8L609.9 434.5L606.8 432.9ZM650.6 435.2L653.6 437.0L654.3 436.7L651.5 433.8L650.5 434.1ZM702.5 434.7L702.0 433.2L700.6 432.8L697.0 434.1L696.7 435.5L697.3 436.2ZM738.9 435.7L741.8 435.1L739.0 434.6ZM786.4 435.3L788.0 432.4L787.3 432.1L785.3 433.7ZM804.4 436.0L807.4 431.5L804.9 429.9L801.6 432.3L802.6 435.2ZM813.6 436.5L814.6 435.4L812.6 433.7L810.6 436.7ZM524.0 442.2L522.5 441.7L521.2 445.6L523.6 447.7ZM640.7 443.7L641.6 443.4L642.1 440.4L639.9 439.9ZM693.6 443.6L692.8 439.3L690.4 440.1ZM739.3 444.9L741.0 444.2L740.2 441.2L737.0 441.1L736.2 442.0ZM809.4 444.6L811.8 444.2L811.9 442.2L808.8 442.4ZM564.2 453.1L566.3 450.8L563.6 448.3L561.9 450.7ZM620.2 452.0L619.0 449.4L615.4 451.7L616.3 453.1ZM707.6 451.8L712.2 450.7L712.1 448.7L708.3 446.6ZM717.6 448.4L718.4 451.6L719.8 448.6L718.5 447.8ZM770.2 449.9L769.2 452.1L770.1 452.7ZM791.3 451.8L791.5 449.6L790.8 449.1L787.7 451.3ZM508.4 459.4L508.8 456.9L508.1 456.6ZM534.5 456.4L532.4 457.2L533.5 459.3L535.3 459.6L536.4 457.3ZM613.2 457.7L610.9 459.8L612.7 462.8L613.5 461.7ZM634.1 458.4L630.5 456.8L628.8 457.5L629.5 460.6L634.1 459.4ZM649.3 461.3L650.9 462.0L652.9 461.2L649.7 458.3ZM715.4 458.8L715.5 456.3L714.6 455.7L711.1 456.9L711.8 459.8ZM793.1 458.3L792.4 457.3L789.4 457.2L789.1 458.9L790.7 460.0ZM803.2 459.2L801.5 457.7L799.0 459.0ZM566.1 467.4L568.1 463.2L565.9 461.9L563.3 465.9ZM592.8 469.0L594.7 463.5L592.6 462.4L591.2 463.7L591.0 469.3ZM707.4 467.1L707.9 468.0L709.7 467.3L709.2 465.9ZM773.8 468.9L775.4 469.8L778.0 467.2L777.4 465.8L774.1 467.4ZM809.5 467.7L813.1 466.4L810.2 464.6ZM615.0 473.6L612.1 471.4L610.5 473.6L613.5 474.9ZM657.8 476.6L661.5 475.2L662.3 472.2L660.8 471.8L656.9 475.6ZM676.6 474.0L675.7 472.9L673.6 473.2L674.8 475.9ZM703.7 475.4L703.7 472.1L702.8 470.2L701.3 471.3L700.8 475.7ZM729.2 475.3L728.8 471.7L726.3 473.8ZM770.3 476.5L771.5 476.7L773.5 475.0L771.1 473.7ZM784.8 472.2L781.9 471.0L779.0 474.6L781.3 476.0ZM792.9 477.0L794.6 475.3L793.8 474.1L790.1 473.8ZM498.4 481.0L502.1 481.2L502.5 479.6L497.7 479.4ZM539.2 483.4L538.7 480.8L536.0 481.2L535.8 484.9L537.0 485.4ZM599.2 486.5L602.4 483.4L601.4 480.8L595.9 484.0ZM610.9 479.8L607.3 478.2L606.6 478.8L607.5 481.5L610.6 482.3ZM642.5 481.1L643.5 481.8L644.9 479.6L642.0 478.1ZM670.9 483.4L672.4 482.7L671.4 480.2L669.3 481.0L669.5 482.6ZM725.0 481.7L727.8 480.8L725.4 479.5ZM750.3 480.5L753.4 482.8L753.6 480.7ZM759.9 483.6L762.3 480.1L759.6 478.2L758.9 483.2ZM769.9 482.7L769.8 482.0L767.9 481.6ZM812.9 482.4L814.4 483.0L816.0 482.3L816.5 480.5L813.0 479.1ZM567.2 489.8L568.9 488.9L569.0 487.9L565.6 488.0ZM574.5 488.9L576.0 489.5L578.7 487.7L576.2 485.4L574.7 486.2ZM625.2 489.6L623.8 489.8L623.8 490.2ZM632.3 489.5L633.7 493.4L634.5 492.9ZM649.4 489.7L652.0 488.3L647.7 487.8ZM660.2 486.0L658.4 485.0L658.3 488.0L659.1 488.6ZM775.6 493.1L777.9 490.9L777.5 489.2L774.4 489.1L773.1 491.5ZM821.5 492.0L817.9 487.5L816.9 487.9L816.5 491.1L819.2 493.3ZM500.3 496.8L504.3 498.9L504.4 498.9L504.5 497.6L501.1 495.0ZM556.8 495.5L555.2 496.4L556.2 497.9ZM671.9 500.4L672.7 498.6L669.5 496.7L668.2 500.1ZM696.5 499.2L698.7 497.0L698.9 495.2L698.3 494.5L694.7 494.3ZM760.3 500.5L761.4 497.7L757.7 498.5L757.0 500.5ZM791.6 497.8L791.8 495.8L789.6 494.4L788.2 495.2L788.7 498.2ZM507.1 503.7L504.9 507.6L506.3 508.1L510.7 505.8ZM523.5 507.0L524.5 502.2L521.9 506.9ZM569.5 507.0L568.7 505.1L567.5 509.0L568.6 509.5ZM578.0 501.9L574.0 503.5L574.3 504.3L577.3 504.2ZM606.6 508.2L606.7 504.1L606.4 504.1L604.5 507.9L605.3 508.7ZM642.9 501.4L639.6 504.5L639.9 505.6L641.2 506.0ZM677.5 501.8L676.4 503.7L676.8 504.9L678.6 501.9ZM766.9 504.7L767.2 503.4L765.5 502.4L765.4 504.8ZM811.1 504.4L811.0 502.8L808.7 502.7L809.3 505.6ZM817.2 502.4L816.6 503.7L818.3 504.2ZM510.2 512.3L511.2 513.9L514.1 512.3L514.6 510.5ZM533.9 511.0L535.2 513.0L536.9 513.1L537.0 508.9L536.2 508.0ZM545.9 509.0L542.4 510.0L542.4 511.5L545.7 510.9ZM653.3 508.9L651.8 509.9L654.5 512.8L655.2 512.6ZM699.6 513.8L698.3 511.5L697.7 513.9ZM736.9 512.5L733.6 510.6L732.6 510.8L732.1 515.3L733.5 515.6L736.9 513.5ZM795.8 513.1L798.6 511.6L796.6 510.2L795.9 510.7ZM501.7 523.1L501.0 520.8L500.0 520.2ZM585.8 522.0L586.7 522.0L588.1 519.6L586.2 517.8L584.1 519.1ZM603.1 518.4L605.1 520.8L606.4 520.3L604.2 517.1ZM633.8 520.3L631.0 518.6L629.8 519.9L630.4 522.6ZM657.0 522.3L658.4 522.4L659.1 521.1L656.8 517.9L655.5 518.3ZM668.7 520.9L669.5 519.8L669.3 518.8L666.8 520.2ZM684.2 516.5L682.8 519.8L685.3 521.4L686.8 518.9ZM820.3 519.9L821.4 517.7L819.3 515.6L817.3 516.9L817.4 520.5ZM582.9 530.8L586.9 528.6L586.5 527.5L585.1 527.5L581.6 530.0ZM645.6 525.0L644.1 528.7L644.9 529.8L648.1 527.8ZM749.5 529.4L751.9 530.4L753.2 528.8L752.6 527.2L749.5 527.9ZM786.1 529.9L787.0 528.4L786.3 528.0L784.3 530.1ZM794.2 531.7L797.6 530.2L797.6 527.8L795.1 527.0L792.5 528.6L792.3 530.1ZM498.1 533.7L497.0 533.8L497.0 538.3L498.2 539.0L500.9 538.0L500.2 535.7ZM586.3 535.2L587.9 537.4L590.0 536.6L590.0 533.2ZM619.2 533.5L619.8 535.4L621.5 536.1L619.9 532.7ZM638.5 535.3L641.6 535.0L640.0 532.5L636.6 533.2ZM727.9 537.4L729.6 538.6L729.4 535.2L728.7 534.9ZM781.6 536.0L781.4 537.3L783.4 539.6L784.8 538.5L784.6 535.6ZM800.0 538.1L800.8 536.9L799.6 535.4L796.5 536.7ZM503.3 544.8L502.4 543.3L500.2 544.4L501.8 546.4ZM508.5 542.9L511.6 544.1L513.3 542.8L513.4 540.9L512.0 539.2L507.1 540.5ZM574.0 544.0L573.3 540.5L570.7 543.0L571.0 543.8ZM608.0 542.1L605.8 546.2L609.1 548.7L610.5 547.0ZM680.9 544.7L682.5 546.6L683.9 546.2L681.2 543.2ZM708.4 543.8L709.0 540.9L706.5 543.7ZM732.3 547.6L736.1 544.6L736.1 544.6L732.7 543.2L730.7 544.5L730.2 545.6ZM786.6 544.1L790.2 546.1L790.0 542.2ZM812.5 547.0L813.0 543.7L811.4 546.6ZM498.7 551.2L497.0 549.2L497.0 551.6ZM559.4 554.8L561.3 551.9L559.7 551.1L558.0 551.9ZM570.4 553.4L571.1 549.3L568.2 551.1ZM692.8 552.5L695.5 552.5L697.3 548.6L691.9 548.7ZM735.1 553.0L737.1 553.7L739.3 552.0L739.2 551.0L738.3 549.9ZM764.6 547.9L761.1 549.2L762.9 552.2L763.8 552.4ZM774.4 551.5L771.9 549.7L769.8 549.9L769.3 552.6L774.2 553.0ZM518.4 560.6L520.9 560.7L520.4 559.3L517.5 557.8ZM679.5 559.9L682.1 561.5L683.2 559.9L680.1 558.5ZM732.1 561.1L734.4 562.1L736.4 561.1L735.5 559.0L733.7 558.3ZM749.3 556.9L748.8 560.7L750.7 561.8L752.0 559.2ZM812.6 561.9L815.2 560.4L814.5 558.3L810.3 559.4ZM822.8 558.7L822.8 555.8L821.4 555.5L819.7 556.6L820.7 559.4ZM517.1 566.2L516.5 565.8L514.9 567.0L515.3 568.2ZM569.6 567.2L571.5 565.2L569.4 566.0ZM677.5 568.6L680.5 567.6L680.4 566.9L676.2 564.3ZM694.9 566.2L693.5 566.2L693.3 567.1L694.4 567.3ZM716.2 564.8L716.6 567.4L720.6 567.1L722.2 564.9L719.8 562.6ZM727.6 565.9L731.4 569.2L731.8 568.8L731.7 566.9L728.3 565.4ZM756.0 563.6L754.8 565.8L756.0 567.6L757.4 567.2L758.3 564.4ZM771.9 569.7L773.5 567.3L770.4 567.4L769.2 569.6ZM799.4 567.7L800.3 567.3L800.2 565.1L798.6 564.1L798.0 564.4ZM508.3 574.9L508.5 576.3L509.9 576.6L512.0 574.4ZM539.2 574.7L538.6 574.8L538.7 574.9ZM558.5 575.4L558.4 572.7L556.2 572.2L555.6 575.6ZM571.6 573.7L575.7 577.9L577.1 576.9L577.1 575.4ZM706.4 573.5L705.7 577.4L706.1 577.9L709.7 576.3L709.6 574.5ZM734.4 575.4L736.9 575.7L737.3 573.5L735.3 573.1L734.1 574.1ZM776.7 573.7L777.8 574.0L779.6 573.3L777.6 571.0ZM788.0 571.6L785.5 573.7L786.5 574.8L790.1 574.3ZM523.4 578.6L523.7 582.2L523.8 582.3L525.5 581.6L526.1 579.3L525.1 577.4ZM549.9 584.6L551.6 582.6L551.4 581.1L548.8 581.9L547.5 583.8ZM556.9 581.0L560.8 584.1L562.0 583.2L560.8 580.7ZM590.2 580.3L589.0 579.1L586.6 580.3L589.1 582.5ZM605.4 583.3L606.2 583.1L606.9 580.4L604.8 579.2L603.2 581.2ZM624.1 581.0L620.6 579.4L621.5 582.0ZM631.9 578.4L630.9 580.4L632.4 582.8L633.8 580.5ZM701.1 581.0L701.1 582.7L701.5 582.7L702.3 581.9ZM730.2 582.4L730.5 580.3L729.2 580.9L729.5 582.5ZM819.3 581.3L815.9 582.6L816.0 583.9L818.4 585.5L820.3 583.9ZM513.9 587.6L513.4 586.7L512.8 587.6ZM565.6 587.3L565.2 587.6L566.6 587.6ZM652.3 587.6L655.3 587.6L655.4 587.4L654.4 586.8ZM761.7 585.0L760.6 585.8L760.7 587.6L763.2 587.6Z"/>
<path fill="#a3a3a3" stroke="#a3a3a3" stroke-width="2.6" d="M667.2 258.2L665.6 258.2L665.1 259.8L665.6 260.3ZM684.0 259.8L686.2 258.2L682.4 258.2ZM719.0 258.4L719.2 258.2L718.2 258.2ZM773.9 259.1L775.7 258.2L775.7 258.2L772.3 258.2ZM781.4 258.5L782.6 259.8L784.4 259.3L784.7 258.2ZM808.1 258.5L808.4 258.2L807.9 258.2ZM512.5 263.1L510.3 262.9L510.4 266.8ZM522.0 266.2L524.2 265.7L524.2 264.0L520.8 264.4ZM529.6 261.6L529.8 266.4L529.9 266.5L530.9 262.5ZM542.8 264.6L542.7 266.5L544.8 267.3L546.5 265.1ZM568.2 262.6L564.9 260.8L563.3 263.0L565.2 265.5L567.0 265.7ZM575.5 268.2L577.6 265.1L573.8 263.3L572.5 266.6ZM627.9 267.5L627.0 265.5L626.6 265.6ZM634.9 267.1L635.5 265.2L634.3 264.2L632.7 264.8L633.6 266.9ZM669.9 263.7L670.9 264.5L671.4 262.7L670.9 262.4ZM739.3 264.8L742.0 265.8L743.7 262.9L737.9 261.8ZM768.2 264.2L770.0 263.2L768.0 262.4ZM786.5 264.4L784.2 265.0L784.0 266.4L788.9 268.5L788.7 265.4ZM794.2 265.1L794.3 267.4L794.9 267.5L796.5 265.6L795.5 264.3ZM810.9 263.6L810.8 264.8L814.9 265.8L814.3 260.6ZM517.0 271.7L517.7 269.7L516.3 267.6L513.8 272.5ZM524.4 275.8L527.3 274.5L527.9 271.7L526.6 270.9L522.9 271.7L522.3 273.4ZM549.4 272.9L553.6 273.3L551.0 268.1L548.9 271.1ZM631.5 275.9L633.0 273.2L631.6 272.1L628.9 273.5ZM692.6 273.2L694.4 274.0L693.9 270.8L693.8 270.9ZM746.6 272.2L750.0 271.3L745.6 269.9ZM757.1 271.5L755.9 271.6L755.2 273.1ZM772.7 272.0L774.8 271.9L771.4 269.7ZM818.3 274.9L820.3 274.1L819.4 270.7L818.2 270.6ZM503.1 279.7L500.9 282.9L503.5 283.4ZM508.6 279.5L509.0 283.4L512.0 283.4L510.5 278.7ZM529.4 284.4L532.3 282.3L529.2 279.6L526.2 281.1ZM562.0 283.4L566.3 283.8L565.1 281.0L562.1 281.7ZM571.6 282.3L573.4 282.7L573.8 280.3L570.6 280.0ZM636.4 282.1L639.9 281.6L640.6 278.4L637.1 277.1L634.9 281.0ZM666.1 282.4L665.8 278.4L664.9 278.4L663.1 282.6ZM688.6 277.5L688.9 279.4L689.8 279.2L690.4 278.2ZM696.2 279.2L695.0 281.3L697.5 283.7L698.5 279.9ZM759.9 280.9L761.4 279.1L760.1 276.2L757.3 278.6L757.4 279.7ZM770.2 279.3L772.9 281.1L773.2 277.5L772.2 277.6ZM781.0 281.9L781.4 280.0L778.7 277.6L778.2 282.6ZM801.8 279.8L804.5 281.2L804.3 276.5L801.2 277.3ZM508.4 290.8L508.3 288.9L507.5 288.7L506.9 291.2ZM547.4 286.9L549.8 287.2L549.1 286.4ZM604.9 290.7L606.6 288.7L603.4 287.2L602.4 287.9ZM633.3 286.7L632.1 286.1L631.0 286.8L632.7 289.5L633.6 289.3ZM664.7 289.6L666.3 290.8L668.6 288.3L664.4 288.0ZM691.6 287.4L694.1 288.0L690.6 284.7L689.1 284.9ZM807.5 289.4L808.6 291.2L813.4 289.2L813.2 287.8L808.4 287.4ZM498.4 293.1L499.8 296.3L501.0 296.4L501.6 293.9ZM509.9 298.4L512.4 297.1L510.7 295.9L506.6 296.9L506.3 298.0ZM532.4 298.3L532.1 296.6L529.3 295.5L529.3 298.1ZM538.0 298.4L540.8 296.4L540.3 295.3L537.6 296.1ZM545.4 293.2L546.6 295.3L548.7 292.6L546.2 292.3ZM564.0 296.7L560.6 296.4L562.8 297.7ZM612.3 292.1L611.3 291.7L607.8 296.3L610.4 297.2ZM628.5 295.5L628.7 294.4L628.1 295.6ZM652.8 296.4L653.0 295.3L651.8 293.0L650.2 294.8ZM679.9 294.6L678.2 293.9L678.6 295.1ZM715.9 294.4L713.9 292.5L713.4 292.5L714.0 295.6L715.6 295.4ZM790.5 297.6L791.3 297.2L791.5 295.5L789.0 296.2ZM797.5 297.0L797.2 294.0L797.1 294.0L796.8 297.1ZM508.9 306.1L508.2 303.8L506.6 303.6L506.5 305.2ZM611.1 302.7L610.8 304.4L613.6 305.7L614.2 305.1L614.0 303.8ZM640.4 304.7L643.3 304.9L641.4 300.6L640.7 300.6ZM654.6 304.1L658.7 306.0L659.3 302.7L655.6 301.5ZM664.1 307.1L667.3 305.4L666.7 301.9L664.9 302.7ZM676.6 306.8L674.6 302.7L672.8 303.1L672.8 305.4L675.7 307.6ZM703.9 300.7L699.4 304.1L699.4 304.4L701.7 305.7L705.1 303.3L705.2 301.7ZM720.6 304.7L723.5 304.2L723.6 302.0L719.9 300.4ZM748.0 304.9L749.3 302.1L747.3 300.9L746.1 302.3ZM816.3 302.9L819.5 302.7L822.0 299.4L818.6 299.1ZM519.8 311.1L520.4 309.0L519.1 308.3L517.9 309.8ZM526.6 307.6L525.9 309.5L528.3 309.9ZM536.5 312.3L539.2 309.6L536.8 307.3L533.9 309.7L533.7 311.7ZM563.1 313.3L563.8 309.0L561.2 309.4ZM592.8 311.5L592.2 308.5L588.8 310.4ZM650.9 312.5L651.8 313.5L654.3 311.8L654.8 310.3L651.5 308.7L650.5 309.4ZM670.4 312.5L671.7 311.4L670.0 310.2L668.0 311.8ZM688.3 311.0L690.5 315.3L691.0 315.1L689.8 311.2ZM743.9 311.9L744.8 309.4L744.1 308.8L741.2 311.0ZM774.5 312.8L777.0 313.6L778.3 311.6L778.2 307.2L773.6 309.4ZM534.0 320.0L535.9 319.1L535.4 317.7L533.0 317.2L532.3 318.8ZM567.0 317.2L565.9 318.0L565.9 319.7L568.1 320.5L570.4 318.8L570.2 318.0ZM596.1 317.8L597.3 320.0L598.2 319.7L597.5 317.2L596.5 316.8ZM655.1 319.4L659.0 318.6L656.6 316.9L654.7 318.2ZM674.8 316.0L673.9 316.7L674.5 320.0L677.0 319.6ZM685.1 317.0L682.7 320.0L684.2 321.3L686.3 318.8ZM690.7 322.2L695.2 320.3L695.0 319.8L691.4 320.9ZM712.0 318.3L710.3 319.0L709.2 321.6L711.6 323.1L713.7 319.2ZM756.9 323.7L757.7 322.1L757.4 318.6L754.1 320.3ZM781.3 317.1L783.6 319.1L787.1 316.4L782.3 315.5ZM498.8 326.8L499.9 327.1L502.7 324.9L501.1 322.7L498.4 323.9ZM512.0 326.9L513.1 326.3L513.5 323.1L512.1 322.5L509.0 324.9ZM536.2 325.0L535.9 326.6L538.9 327.0L539.6 324.5L538.8 323.8ZM575.8 324.2L573.9 323.1L571.8 324.7L572.2 325.8ZM584.0 329.7L586.9 328.7L585.4 323.5L583.4 323.0L581.5 325.3ZM717.0 327.2L718.6 324.5L717.6 323.4L716.0 326.5ZM795.5 325.9L796.1 328.3L797.6 328.0L798.6 324.9L797.0 322.5ZM525.0 331.3L525.2 334.3L528.2 333.7L528.4 331.2L526.2 330.3ZM554.1 334.7L554.3 333.5L552.6 331.2L551.5 332.9ZM610.8 335.8L613.1 334.2L612.3 333.5ZM629.3 335.7L631.6 336.3L633.7 334.7L629.7 331.6L628.3 332.5ZM648.8 334.9L650.6 336.2L651.8 335.2L649.6 332.6ZM686.2 335.1L683.4 333.0L682.9 333.6L685.7 337.5ZM503.9 344.8L506.4 343.1L505.7 340.3L503.2 340.0L501.4 341.8L501.5 343.4ZM549.8 340.0L550.6 338.9L549.4 338.1L546.4 340.5ZM578.8 344.4L583.6 346.3L584.1 345.8L580.5 340.0ZM627.4 342.9L629.5 341.8L629.5 341.4L627.8 341.0L626.2 342.3ZM668.5 341.9L668.0 343.6L672.7 345.0L671.1 341.6ZM822.4 340.2L819.7 340.9L818.8 343.4L820.9 345.2L822.8 344.3ZM498.0 350.7L500.1 352.6L501.9 351.5L501.6 349.8L499.2 348.4ZM560.8 354.2L562.2 353.2L562.1 349.3L556.9 351.9ZM567.7 352.7L571.8 350.8L571.8 349.5L567.6 349.2ZM620.7 350.1L623.7 352.4L625.5 351.6L625.0 347.8L622.0 346.5ZM631.3 347.0L630.5 347.4L631.0 350.7L632.7 349.1ZM652.9 348.7L649.3 346.6L648.7 350.2ZM718.4 351.3L719.4 352.0L720.8 350.9L720.1 349.6L718.7 350.0ZM747.6 349.1L746.5 350.8L747.3 351.9L749.2 351.1ZM760.5 351.4L764.8 352.5L766.7 351.7L764.9 350.1L760.9 349.6ZM547.9 359.7L547.9 357.0L544.7 357.8ZM599.2 362.5L602.1 359.7L601.9 359.1L597.7 359.4ZM666.3 362.0L670.4 361.1L672.2 359.6L669.6 357.5ZM715.4 356.0L714.0 357.3L716.7 358.3L716.8 356.8ZM722.2 359.1L723.8 359.5L725.3 355.4L724.6 355.0L722.3 356.7ZM750.5 357.9L753.4 357.0L753.7 355.6L749.6 356.9ZM758.7 358.3L759.8 359.3L761.3 357.3L759.1 356.7ZM769.3 360.9L770.1 359.2L769.1 356.6L767.1 357.5L766.4 359.3ZM508.2 365.2L511.5 363.8L511.4 362.5L509.5 362.1L507.6 364.5ZM533.1 368.0L535.2 366.7L532.6 364.3L529.6 364.4L529.8 368.0ZM556.1 365.7L551.7 363.8L550.8 366.3ZM615.6 365.0L612.9 365.3L613.5 367.5L615.8 365.7ZM633.6 364.3L628.0 364.1L628.0 364.6L631.5 365.3ZM685.5 368.7L687.0 365.4L686.0 364.6L682.4 365.5ZM701.6 364.9L705.0 364.2L701.1 361.8L700.3 362.2ZM710.7 364.2L710.8 366.2L713.9 366.4L714.7 363.4L712.2 362.5ZM743.2 362.8L744.0 364.4L746.5 365.4L746.8 362.0L746.0 361.1ZM817.9 365.4L814.3 365.0L814.4 366.3L816.7 367.4ZM504.8 371.0L504.1 368.9L501.4 370.7L501.6 372.3ZM510.3 370.3L511.4 372.6L513.4 371.7L513.7 368.8ZM528.0 374.4L530.8 377.7L531.4 377.4L531.2 373.5L528.4 373.5ZM536.6 372.3L536.9 376.6L537.4 376.7L538.2 376.3L537.6 371.8ZM562.7 373.6L565.9 372.3L566.0 371.9L562.5 371.3ZM571.3 373.3L574.0 375.8L575.6 373.1L572.0 371.1ZM596.6 369.5L596.8 373.8L599.0 374.6L599.1 370.7L598.0 368.7ZM663.7 371.2L665.1 369.8L664.2 367.5L661.6 370.0ZM693.9 373.0L690.7 371.0L689.8 372.2ZM711.6 371.8L715.2 375.8L716.8 374.2L714.6 371.9ZM745.5 371.4L742.4 369.7L738.5 373.3L740.7 374.2ZM770.1 375.3L771.7 376.3L771.3 371.2L770.6 370.8ZM777.1 375.9L778.2 376.2L778.9 375.2L778.7 373.8L776.9 372.3ZM811.8 374.0L814.7 373.7L814.8 372.6L813.0 371.7ZM821.7 369.6L820.2 373.6L822.8 374.2L822.8 370.3ZM522.7 381.5L524.7 382.6L527.1 381.8L524.1 378.3ZM532.6 382.9L533.3 384.3L535.3 384.4L535.2 381.9ZM542.4 381.6L540.6 381.2L540.7 383.9ZM560.0 379.3L558.7 381.0L561.7 385.3L563.1 384.1ZM568.3 381.9L571.0 380.4L567.7 377.5L565.9 378.2ZM602.9 383.0L604.7 384.2L607.6 382.6L607.6 379.3L603.0 379.5ZM641.3 383.4L642.8 382.6L643.0 380.6L639.7 379.2L638.4 380.1ZM661.4 379.7L662.1 376.8L659.3 375.0L657.6 378.5L658.8 380.9ZM704.0 382.5L702.8 381.5L700.1 382.5ZM711.2 381.5L712.2 380.5L708.3 377.0L707.0 377.8ZM761.4 380.1L763.3 381.0L766.8 379.9L766.2 379.2ZM526.3 390.2L528.3 389.5L528.5 387.2L526.8 387.7ZM611.7 388.1L610.4 387.3L607.7 388.8L607.9 390.0ZM626.0 389.7L629.1 390.5L629.9 390.2L629.4 388.4L625.6 386.7ZM651.5 389.7L655.7 388.7L655.5 386.6L651.0 388.2ZM663.6 384.7L661.0 386.0L661.2 389.1L662.2 389.9L665.7 385.8ZM671.7 391.1L670.6 388.5L668.2 391.3ZM679.4 384.7L676.0 387.1L677.3 390.5L679.7 390.5L681.4 388.8ZM714.1 387.0L716.4 390.1L719.6 387.2L715.5 385.1ZM725.1 390.6L725.1 389.0L724.3 390.2ZM822.8 388.0L822.8 388.0L822.8 388.0ZM553.0 397.0L554.3 394.6L551.4 393.3L549.7 394.3L549.2 395.9ZM594.4 400.6L594.6 397.4L593.5 396.5L590.4 400.2ZM613.5 393.3L610.0 395.1L610.9 397.0L614.5 397.4L615.9 396.4ZM650.7 398.5L650.6 395.1L650.3 395.1L648.8 397.9L649.8 399.7ZM677.3 396.0L677.4 398.6L679.2 396.9L678.9 396.0ZM694.6 395.4L693.4 396.9L695.9 398.3L696.8 397.8ZM721.6 395.0L720.3 394.3L719.1 395.0ZM763.8 394.3L763.9 398.4L766.1 393.8ZM819.2 392.5L818.6 391.7L816.5 392.9L817.3 396.2ZM556.1 404.8L559.2 401.9L557.3 400.4ZM646.3 404.6L644.5 401.4L641.9 401.8L641.9 403.9L645.1 405.7ZM683.5 402.9L682.3 401.6L679.6 404.2L683.2 405.6ZM705.1 402.6L708.1 403.6L709.1 401.7L705.4 400.8L704.6 401.1ZM720.9 402.4L723.6 402.4L722.7 400.5L719.5 400.5ZM514.4 409.3L517.2 411.9L517.7 408.1L516.5 407.2ZM534.4 412.9L531.1 410.3L530.6 410.9L530.6 413.5L532.6 414.1ZM552.2 409.0L550.6 409.2L550.5 412.9L551.5 413.6ZM557.1 413.4L560.6 413.3L557.6 410.4ZM578.7 413.1L576.5 413.3L576.5 414.3ZM594.9 410.6L594.1 410.8L594.6 411.7ZM613.5 413.9L613.6 412.1L609.5 412.1ZM619.2 412.7L621.5 413.5L623.9 412.6L620.6 411.0L619.0 411.2ZM641.8 410.1L638.4 408.6L638.5 413.2ZM667.6 412.8L667.8 409.7L663.6 408.5L662.9 412.5L666.7 413.6ZM676.2 413.8L679.1 412.7L679.9 410.2L677.0 409.0L673.3 410.5L673.2 412.5ZM706.7 410.1L707.1 409.0L703.9 408.0L702.3 410.4L702.5 412.0ZM722.8 411.8L725.0 407.9L721.4 407.9L720.6 410.2ZM738.1 415.0L738.5 412.7L736.6 413.0L736.5 414.6ZM792.1 412.9L794.6 411.7L794.9 410.1L793.9 409.6L790.9 411.2ZM809.0 411.5L809.3 413.8L811.0 411.9ZM539.4 420.2L538.1 417.1L536.0 418.5L536.4 422.6ZM572.6 419.4L571.4 421.0L573.2 420.1ZM626.3 421.7L627.4 417.5L627.0 417.2L624.3 418.3L624.3 421.6ZM688.2 420.1L690.0 421.2L690.3 418.5ZM705.1 417.3L709.0 420.4L710.2 420.0L707.6 415.7ZM762.7 422.9L762.9 419.0L761.5 422.9ZM783.3 417.9L784.3 420.1L788.3 418.3L788.4 417.1L787.1 415.3ZM805.6 420.8L807.4 419.5L805.8 418.1L804.6 419.2ZM526.5 426.7L527.0 426.2L524.3 424.7L523.9 425.4ZM599.0 429.2L598.9 427.9L595.5 426.7L594.8 427.2ZM605.9 427.4L606.6 425.4L605.8 425.2L604.3 426.8L604.4 427.9ZM631.5 428.6L630.7 428.3L630.5 429.8ZM648.2 429.1L650.0 428.5L650.8 425.9L646.5 426.5ZM655.3 429.9L657.4 432.0L658.1 430.5L656.2 427.1ZM674.5 429.9L677.1 428.7L676.5 426.3L672.6 428.2ZM702.8 427.7L705.1 424.3L702.7 422.4L701.8 423.3ZM714.5 427.9L713.7 425.1L710.5 425.6L710.2 426.6L713.8 428.4ZM729.0 425.3L727.2 429.5L727.6 429.7L731.2 427.6ZM771.8 426.1L775.0 426.8L772.4 424.9ZM789.3 426.9L792.2 428.3L790.5 423.3L788.3 424.3ZM527.4 437.8L531.5 436.9L531.4 436.4L528.5 434.3ZM570.8 438.6L573.9 435.0L574.0 434.7L569.9 434.5L568.2 437.8ZM601.0 436.5L601.7 438.3L604.1 438.1L601.6 435.5ZM627.5 434.5L625.8 435.5L625.8 436.8L627.5 437.8L629.5 436.6ZM663.1 437.9L665.2 432.6L663.0 432.8L661.3 436.7ZM669.3 437.4L671.7 437.3L670.6 433.8ZM681.1 433.4L677.0 434.8L677.0 435.5L681.8 436.1ZM709.7 435.1L710.6 432.9L707.4 431.4L708.4 435.0ZM822.8 437.4L822.8 434.6L821.2 435.6ZM498.3 443.9L500.0 442.6L497.0 441.5L497.0 443.1ZM533.8 442.0L529.5 443.0L529.3 445.5L532.6 445.1L534.5 442.6ZM551.7 439.4L549.2 439.8L550.6 442.6ZM555.6 445.0L558.1 446.5L560.9 441.3L557.0 440.8ZM587.9 444.9L589.4 443.5L588.5 442.0L586.3 443.5ZM601.6 443.8L603.8 445.5L606.5 443.4ZM611.8 445.1L613.0 446.7L616.4 444.5L616.2 443.2L612.2 442.3ZM634.5 440.9L630.4 442.4L632.7 444.5L635.1 443.7ZM647.2 443.1L649.3 443.5L650.1 441.3L647.7 440.1ZM659.0 447.0L660.6 444.7L660.3 442.7L658.0 441.0L655.7 442.1L654.4 445.7ZM681.1 441.6L676.2 440.9L676.8 443.5ZM721.4 443.1L722.1 443.5L721.6 442.2ZM730.0 442.2L728.6 441.2L727.2 441.7L727.9 443.8ZM747.3 443.7L749.3 440.0L746.5 438.1L745.4 439.3L746.5 443.6ZM753.0 444.6L756.1 445.5L756.0 442.4L754.4 442.0ZM773.5 444.2L777.1 443.3L773.3 439.4L770.4 441.0L771.0 443.2ZM799.8 445.0L803.5 444.3L803.1 441.5L800.9 440.4ZM511.5 452.1L511.1 450.1L509.4 451.2ZM536.9 448.5L537.2 451.6L538.6 452.3L539.6 448.8L538.0 447.1ZM547.6 449.5L545.0 450.1L544.9 451.2L547.2 452.1ZM605.4 451.9L610.1 453.1L609.7 451.6L608.1 449.4L605.8 450.6ZM647.0 452.9L648.3 448.9L643.2 448.6L643.4 451.5ZM762.1 450.4L763.8 450.8L764.4 449.4ZM776.5 454.8L778.7 451.0L777.5 449.3L775.7 449.5L775.6 454.4ZM798.7 452.9L799.0 450.4L797.0 450.2L796.7 453.9ZM804.3 452.0L806.1 449.2L804.6 449.9ZM516.2 458.1L514.4 457.3L513.8 460.5ZM526.8 462.7L528.3 461.2L526.5 457.8L524.9 457.1L524.1 457.9ZM559.5 461.6L561.8 458.2L559.7 456.7L556.6 458.5L556.6 459.9ZM568.2 456.9L573.6 459.3L573.3 455.5L571.1 453.9ZM589.3 458.1L587.4 455.8L585.3 455.8L584.1 459.0L587.6 459.6ZM605.6 457.9L604.5 457.4L604.0 458.6ZM738.8 457.5L739.1 455.9L737.9 454.0L737.1 457.0ZM767.2 457.4L765.3 456.1L764.1 457.7L766.4 458.7ZM815.1 458.7L814.1 460.6L815.0 461.1L818.4 457.7ZM501.6 465.9L503.7 466.1L504.7 464.1L501.4 463.4ZM522.4 466.1L520.1 462.0L518.3 463.8L520.4 467.8ZM551.8 466.3L555.4 468.8L557.3 466.7L554.0 464.8ZM572.3 470.7L574.9 468.1L574.4 464.8L573.4 464.8L571.1 469.8ZM585.6 464.8L579.8 464.2L580.4 467.3L582.3 468.5L585.5 468.0ZM608.0 465.7L606.7 463.5L605.1 464.1ZM625.1 465.9L624.7 468.8L625.3 468.8L626.7 467.9L626.2 465.1ZM646.5 466.1L644.6 467.3L644.9 468.1L648.4 469.0L648.2 466.9ZM654.1 470.6L656.9 467.9L656.1 465.8L653.8 466.8ZM662.2 466.4L665.6 467.4L666.5 463.4L661.9 461.8L660.8 462.8ZM671.1 468.0L674.7 467.5L674.9 466.7L671.7 465.2ZM680.8 470.5L682.5 467.1L682.1 466.2L680.6 467.0L679.9 469.4ZM687.7 465.1L690.3 466.2L691.1 464.6L687.3 463.7ZM731.8 466.1L737.1 466.7L736.9 462.7L734.5 462.0L731.4 463.9ZM763.3 463.4L760.7 463.0L761.7 466.7ZM515.2 473.7L514.3 473.9L514.3 474.6ZM526.4 475.4L527.4 475.1L528.2 471.9L526.2 470.1L523.8 472.1ZM549.2 474.9L551.5 475.7L553.3 473.9L550.1 472.2ZM631.3 475.3L630.6 472.7L629.1 472.9L630.0 476.1ZM695.4 474.8L695.7 471.4L693.8 470.4L694.1 474.9ZM734.4 472.0L734.8 476.4L736.8 476.5L736.7 472.1ZM742.5 475.0L745.5 475.6L746.3 471.3L742.1 471.5ZM509.9 484.3L511.9 481.4L511.8 481.3L507.7 481.6L507.3 482.9ZM519.8 480.8L522.3 479.0L520.2 476.5L517.2 479.5ZM530.4 483.5L530.5 480.5L528.4 480.6ZM558.7 482.8L559.2 480.8L556.4 478.6L554.9 480.0L554.6 482.9L556.0 483.5ZM626.9 483.8L626.7 482.3L623.4 482.5L622.4 484.5ZM652.9 479.3L650.7 480.5L649.5 482.5L653.3 482.9L654.1 480.8ZM677.9 482.5L681.8 482.6L683.3 478.9L681.2 477.2L677.8 480.7ZM699.0 481.5L696.1 480.3L695.9 482.6ZM715.7 480.5L719.6 480.9L720.0 478.4L715.4 479.8ZM778.3 483.8L778.9 481.0L776.7 479.6L775.2 480.8L775.7 483.6ZM797.5 482.5L800.4 481.8L799.7 478.6L796.0 481.8ZM497.2 487.6L499.5 489.7L500.5 486.6L498.0 486.5ZM526.2 487.1L524.3 484.3L522.9 485.4L522.8 487.9L525.1 488.9ZM553.0 488.1L550.5 488.3L551.3 492.5L552.8 491.1ZM592.5 491.4L594.0 492.6L595.1 490.3L593.9 489.4ZM672.0 491.9L674.0 492.9L675.6 490.6L675.6 487.5L673.0 488.5ZM685.8 491.4L682.6 488.0L681.1 488.2L681.1 489.9L685.0 492.2ZM710.8 490.3L710.5 490.0L710.2 491.2ZM729.1 490.9L728.2 486.7L725.6 487.2L725.6 491.0ZM738.9 489.1L738.1 488.2L734.6 489.2L734.6 490.3L738.0 490.6ZM749.3 489.6L750.0 487.2L748.5 486.4L746.1 488.4ZM760.1 492.3L758.7 488.9L755.5 488.1L754.4 491.6L756.3 493.2ZM794.6 487.2L793.0 486.9L792.7 489.8L794.7 491.2ZM520.3 492.9L519.0 493.7L519.7 495.6L522.7 496.8L522.6 493.8ZM534.0 499.6L535.7 500.7L538.2 497.7L536.9 496.3L535.6 496.9ZM564.5 494.5L562.6 495.3L561.8 498.2L564.3 497.8ZM569.8 498.7L574.8 497.2L574.0 494.7L571.7 493.6L570.0 494.6ZM582.9 492.8L582.2 492.0L579.5 493.8L580.5 497.0L581.6 497.7ZM587.0 498.6L590.0 499.8L591.6 497.7L588.1 494.9ZM606.6 498.6L610.3 498.2L610.2 496.0L606.8 495.6ZM636.5 498.2L637.2 499.3L638.6 497.9L637.8 497.3ZM681.8 496.8L679.1 495.1L678.3 496.3ZM688.3 500.9L691.1 500.5L689.3 495.6L686.8 499.1ZM704.2 497.0L707.7 499.5L708.5 499.3L708.0 497.7ZM734.0 495.8L736.1 498.9L738.1 497.7L737.5 496.1ZM745.2 495.9L746.2 494.3L742.9 493.1L743.5 496.5ZM800.5 498.1L800.1 496.0L797.3 496.1L797.1 499.2ZM806.0 497.9L807.3 497.2L807.6 495.8L805.5 494.9ZM813.5 495.7L812.9 497.6L815.3 497.2ZM516.6 505.0L518.7 501.2L516.3 504.3ZM529.0 507.4L531.7 504.7L529.8 503.5ZM552.4 501.9L548.8 504.0L548.9 504.2L552.9 502.6ZM585.3 508.5L587.9 504.9L583.4 503.0L582.3 506.8ZM613.3 504.5L612.2 503.6L612.2 505.9ZM629.7 505.9L631.6 507.3L634.4 506.1L631.7 500.9L628.9 502.3ZM646.9 506.4L651.8 503.3L651.8 502.9L648.7 501.5ZM671.4 506.0L671.4 505.9L671.3 505.9ZM689.3 507.0L694.4 507.1L693.9 505.8L689.4 506.3ZM731.9 505.3L732.6 503.2L731.7 502.3L729.8 505.3ZM741.7 506.2L740.7 502.5L738.0 504.2L737.3 506.4L739.5 507.7ZM804.0 507.1L803.2 503.0L799.2 504.3L799.2 505.3L802.5 507.6ZM561.2 513.1L563.5 514.6L564.1 513.4L563.5 513.0ZM578.8 515.4L582.9 513.4L581.0 512.4ZM592.0 515.7L593.9 510.1L591.9 508.7L589.1 512.7ZM647.7 516.8L649.7 515.7L645.1 511.7ZM662.4 516.3L665.5 514.6L663.2 513.3L661.2 514.7ZM705.7 513.5L706.9 512.6L703.9 510.3ZM727.1 510.1L724.8 510.2L724.8 514.9L726.5 515.4ZM751.6 510.1L751.6 512.7L753.1 512.5L753.2 511.5ZM758.3 514.5L759.9 517.0L761.3 515.5L760.3 512.8L758.6 513.0ZM765.3 510.3L766.8 513.5L769.7 511.3L768.3 510.2ZM780.7 513.5L777.7 510.2L775.1 511.8L778.9 515.1ZM814.5 512.1L817.4 510.3L817.6 509.7L814.3 508.8L812.0 510.4ZM507.4 521.4L508.3 519.2L506.7 520.0ZM521.7 519.6L522.0 521.3L523.6 522.0L524.6 520.6L523.7 519.5ZM576.7 520.7L578.9 525.2L580.5 524.0L578.7 520.9ZM624.9 523.4L624.5 521.2L622.0 520.5L621.5 524.8ZM674.8 518.3L677.4 519.0L677.6 517.6L674.5 516.7ZM713.8 520.6L714.1 519.3L711.5 516.1L708.0 518.6L707.8 521.9L710.4 523.3ZM724.4 520.5L722.1 519.9L719.4 521.1L720.9 522.3ZM740.4 522.4L740.3 519.3L739.4 518.4L737.4 519.6L738.9 523.2ZM745.9 522.2L749.0 522.3L747.6 519.2L745.8 519.9ZM789.9 523.7L791.6 522.7L790.8 519.2L788.2 519.0ZM571.0 529.9L573.6 530.5L574.9 529.5L572.3 524.2L569.1 525.4ZM629.1 531.2L627.7 528.1L624.5 529.5L626.4 533.5ZM718.2 527.2L716.3 525.7L714.6 527.0L717.3 530.7L719.0 529.6ZM730.6 527.6L730.2 529.6L731.9 530.3L734.8 528.4ZM757.7 525.3L758.4 527.2L761.8 528.8L760.1 522.8ZM822.8 526.1L820.9 525.5L821.6 528.4L822.8 529.1ZM570.6 535.5L569.7 535.3L567.6 538.4ZM604.5 535.7L606.0 536.8L606.4 534.3L604.1 532.4ZM614.2 536.0L612.8 534.4L611.5 537.4ZM648.4 536.5L651.6 533.2L650.9 532.6L647.2 534.8ZM663.3 538.3L666.8 540.5L668.2 538.0L667.6 535.2L663.3 535.3ZM673.5 536.4L678.0 537.8L677.8 533.8L672.9 533.6ZM745.6 536.6L747.8 538.0L749.5 537.5L749.8 535.5L747.5 534.5ZM768.8 533.4L769.7 535.9L776.0 536.2L776.3 534.0L773.3 530.8ZM535.2 541.8L539.2 543.2L538.5 540.8ZM555.5 547.1L556.7 546.5L556.2 543.2L553.0 544.5ZM601.4 540.3L597.8 541.3L599.9 544.8L602.2 540.8ZM619.6 541.2L617.7 540.5L614.5 542.0L615.5 544.6ZM642.3 544.2L645.1 543.0L645.3 541.2L644.4 540.3ZM688.9 543.6L688.8 541.8L687.8 540.7L686.7 541.1ZM696.5 540.2L694.3 541.9L694.3 542.8L697.8 543.2ZM741.5 545.2L742.6 546.5L745.0 545.4L745.0 542.9L743.9 542.5ZM818.5 542.9L818.6 544.2L820.9 545.0L822.8 543.1ZM516.6 552.3L519.9 548.5L516.4 547.3L514.9 548.5L515.3 552.5ZM541.6 548.3L540.2 548.6L539.4 551.4L541.9 552.5ZM575.7 555.1L577.4 556.2L578.0 555.3L578.3 549.7L576.8 549.0ZM603.9 551.7L601.0 550.2L599.8 553.0ZM647.9 548.1L648.9 553.6L649.8 552.7ZM670.5 549.5L668.5 548.4L667.2 550.4L669.2 551.8L670.6 551.2ZM700.6 554.5L701.2 555.2L703.2 553.8L701.9 551.7ZM498.4 559.9L498.0 557.2L497.0 557.1L497.0 560.6ZM596.2 560.4L594.8 557.4L592.2 558.5L592.2 560.6ZM621.8 562.5L621.1 558.8L619.3 559.7L619.1 561.2L619.7 563.3ZM627.1 560.9L628.5 560.7L627.1 555.8L626.3 556.2ZM634.4 561.3L635.5 560.5L635.7 556.3L632.9 556.2ZM644.7 557.3L641.2 557.4L641.1 559.7L644.0 560.2L645.9 558.2ZM691.1 560.1L690.8 558.1L689.9 559.0ZM707.0 559.9L706.9 557.9L703.7 560.2L703.8 561.5ZM743.3 560.0L743.7 556.8L742.7 556.4L740.9 557.7L742.0 560.3ZM761.2 559.6L762.7 558.4L762.7 557.8L759.3 558.9ZM803.0 557.1L802.1 559.8L802.6 560.1L804.2 558.6ZM502.0 565.8L500.9 564.8L498.4 566.0L498.0 567.2L499.3 568.5L501.2 568.2ZM597.3 567.5L597.7 565.8L591.4 566.2L591.3 567.4ZM642.8 566.1L638.9 564.9L637.4 566.0L637.4 567.6ZM663.7 564.5L660.9 562.9L658.2 564.8L658.3 566.0L662.7 566.5ZM685.8 565.9L686.7 567.7L688.2 564.9L687.1 563.9ZM738.5 568.1L738.5 566.2L737.2 566.8L737.3 567.9ZM794.2 569.3L792.3 564.9L791.1 565.2L791.0 566.8ZM546.3 574.2L547.8 576.5L550.1 575.8L550.0 575.0ZM586.7 574.1L586.6 572.4L583.4 573.0L582.6 576.2ZM592.1 572.9L593.6 576.0L594.9 572.9ZM627.8 574.5L624.0 574.6L623.9 574.9L626.9 576.2ZM637.8 576.7L637.9 576.6L636.7 575.5ZM654.5 576.9L655.0 576.2L653.2 573.8L652.4 574.1ZM660.0 573.7L662.0 574.0L662.8 573.1L662.3 572.0L658.4 571.5ZM719.9 576.6L719.4 572.7L715.0 573.5L715.3 576.7L716.9 578.2ZM769.1 576.1L770.5 576.6L771.5 575.4L769.2 575.1ZM580.2 581.4L577.5 583.8L580.1 586.3L582.6 584.2ZM673.7 582.8L676.5 584.8L677.3 584.4L676.0 581.6ZM683.1 583.7L684.6 584.3L686.9 582.7L687.0 580.4L681.5 580.4ZM709.5 584.5L712.9 582.0L712.1 581.2L708.0 583.0ZM720.0 583.6L723.9 582.6L723.7 581.3L719.7 582.9ZM737.6 585.2L738.6 584.4L738.0 581.4L735.9 581.1L735.7 583.5ZM774.9 579.9L774.5 580.3L774.8 581.0ZM782.1 578.2L780.5 578.8L780.2 581.7L781.9 581.1ZM538.6 585.4L537.5 587.6L541.1 587.6L541.6 586.3ZM555.1 587.0L554.6 587.6L556.1 587.6ZM755.1 586.7L752.6 586.0L751.2 587.6L755.2 587.6ZM785.5 587.6L787.9 587.6L785.2 586.1Z"/>
<path fill="#adadad" stroke="#adadad" stroke-width="2.6" d="M525.2 258.3L521.3 258.2L520.8 258.9ZM534.3 258.2L537.5 258.6L537.5 258.2ZM551.7 260.8L551.9 258.2L550.4 258.2L550.8 261.0ZM558.6 260.0L560.0 258.2L557.4 258.2L557.3 259.8ZM621.8 258.3L624.6 260.5L624.9 260.4L625.0 258.2ZM646.8 258.2L646.8 258.2L646.8 258.2ZM658.5 258.3L659.3 258.2L658.4 258.2ZM790.0 259.9L791.2 260.4L794.2 258.2L790.5 258.2ZM537.3 264.1L536.2 264.1L535.3 267.4L537.1 266.9ZM584.3 264.8L586.5 265.6L586.2 263.8L585.3 263.5ZM608.5 261.8L607.2 262.5L607.2 264.4L609.4 266.0L611.8 264.1ZM644.7 263.8L640.9 266.5L645.8 267.0ZM748.7 265.0L753.4 266.6L753.0 265.1L749.3 263.8ZM532.7 275.4L534.6 277.0L535.7 274.9L535.1 272.9L533.2 272.8ZM540.8 272.8L543.8 273.4L540.5 271.6ZM616.9 272.0L616.9 270.2L614.9 268.7L612.6 270.5L613.2 272.8ZM622.4 271.7L623.8 271.2L622.7 269.8ZM642.1 272.4L638.3 271.5L638.3 271.5L641.8 273.0ZM658.3 270.8L656.3 269.0L654.4 270.0L655.0 271.0ZM685.7 272.4L686.9 272.3L688.0 270.2L685.8 269.6ZM700.0 274.3L701.6 275.3L702.4 274.9L702.5 272.0L699.8 272.3ZM727.4 272.7L730.4 274.0L731.7 271.5ZM795.4 274.3L794.4 273.0L792.2 273.0L792.1 274.9ZM808.6 273.0L812.7 273.5L812.7 270.9L809.4 270.2ZM497.7 277.3L497.0 277.1L497.0 278.6ZM547.9 281.0L548.5 278.4L547.8 278.1L546.4 281.2ZM650.2 282.9L649.6 280.5L645.9 280.1L645.3 282.7ZM671.6 277.0L671.7 283.7L672.2 284.1L674.5 282.3L673.8 278.2ZM679.3 278.1L679.9 281.4L683.3 282.6L683.0 277.2ZM748.5 279.2L751.8 279.6L751.9 279.5L750.6 277.1L748.4 277.5ZM513.8 288.6L514.0 291.4L515.7 292.7L516.4 292.1L515.3 288.0ZM526.1 289.0L522.8 285.5L520.7 286.9L521.6 290.4L525.7 290.8ZM534.4 291.6L535.6 290.9L534.5 287.5L531.4 290.4ZM625.4 288.0L623.0 287.1L621.1 289.9L623.5 292.4ZM675.7 288.4L679.5 288.4L679.8 287.3L677.9 286.6ZM685.8 289.4L685.1 288.7L684.7 290.2ZM729.2 289.5L731.1 287.4L727.4 288.2ZM748.6 288.9L749.0 284.8L747.2 284.6L747.1 289.3ZM767.1 287.2L769.2 285.2L765.6 282.7L763.6 285.0ZM773.5 292.7L774.5 291.9L774.2 288.0L771.3 290.8ZM782.6 287.3L779.7 287.9L779.9 291.2L782.4 292.1ZM788.1 288.9L788.0 290.8L791.5 289.8L791.2 288.9ZM615.8 298.5L616.6 298.9L620.5 297.1L617.5 294.1ZM635.4 295.0L635.2 294.6L634.1 294.9ZM695.5 296.8L697.1 298.9L699.7 297.0L696.4 294.7ZM726.1 297.1L727.4 296.0L727.1 294.7L723.8 292.5L721.4 294.7ZM753.2 298.0L755.5 297.5L754.8 294.4L749.2 294.4L749.3 295.8ZM763.9 291.7L761.5 290.2L760.0 292.5L760.9 296.3ZM803.3 293.1L802.6 293.3L803.4 297.9L805.1 297.0ZM515.4 304.0L514.9 302.0L513.6 302.7L514.4 305.4ZM571.3 302.0L568.9 299.8L566.1 302.1L566.4 304.2ZM589.4 303.8L589.2 303.1L585.7 303.0L586.0 305.7ZM596.0 304.6L597.0 304.1L598.9 300.9L594.9 300.5L594.4 301.2ZM605.2 304.9L605.2 301.2L603.2 304.4ZM619.6 303.6L620.9 305.7L624.7 304.1L624.0 301.6ZM714.4 301.1L710.7 302.2L710.5 303.7L712.9 305.7L715.0 304.8ZM732.9 304.5L733.8 301.3L730.9 300.3L729.2 301.6L729.0 304.3ZM741.0 304.3L738.8 303.9L738.0 306.6ZM805.7 302.9L805.2 305.1L807.3 306.2L810.8 303.6L808.0 301.7ZM627.4 308.9L623.2 310.6L623.3 311.8L625.8 313.5L627.5 312.4L628.0 309.5ZM633.4 310.6L633.0 312.9L636.0 315.1L636.4 309.7ZM659.9 312.5L661.9 313.9L662.3 313.3L660.5 311.3ZM680.2 314.3L682.7 311.3L682.8 310.7L680.9 310.5L678.8 312.1ZM733.2 310.0L730.0 309.9L730.5 313.0L733.3 312.8L734.2 311.7ZM751.6 315.3L753.5 314.4L752.4 311.6L750.1 310.7L749.4 313.3ZM784.0 310.2L787.7 310.8L788.5 309.2L784.1 309.4ZM513.7 316.5L516.0 318.2L517.2 317.3L517.2 315.9L515.5 314.8ZM522.7 317.1L525.5 318.8L527.7 315.4L524.0 314.8L522.7 315.8ZM639.3 319.5L640.6 320.5L641.3 318.4ZM666.0 320.9L668.9 320.0L668.5 317.6L666.4 317.0L665.1 319.9ZM723.1 321.2L724.7 321.1L724.8 318.9L720.6 318.5ZM733.0 319.8L732.6 318.3L730.3 318.6L730.2 320.6ZM774.1 322.5L776.2 319.1L772.5 318.0L770.8 319.0L770.6 322.5ZM789.6 321.4L791.2 322.1L791.8 320.8L790.9 320.5ZM519.0 322.8L518.7 326.0L521.6 327.0L523.0 325.8L522.9 323.6L520.1 322.0ZM528.4 323.5L528.4 325.3L530.4 326.1L530.7 324.4ZM544.3 328.1L547.3 329.3L548.3 327.7L544.8 326.3ZM624.4 328.4L627.1 326.8L624.4 323.5L623.1 324.3ZM641.9 327.8L646.3 327.4L642.3 325.9ZM659.1 324.2L660.5 326.5L662.3 325.9L661.2 323.8ZM708.8 327.9L705.4 325.7L704.1 326.2L703.6 328.8L706.6 330.1ZM762.1 325.6L762.1 325.7L763.0 325.7ZM821.2 327.3L822.8 328.0L822.8 326.0ZM514.4 333.1L518.9 336.2L519.8 335.8L519.5 332.1L516.1 330.9L514.5 331.8ZM590.9 336.0L590.0 333.4L584.5 335.8ZM669.1 333.2L667.8 332.8L667.3 336.5L669.5 336.2ZM676.7 333.5L674.5 332.5L674.8 334.5ZM695.9 333.5L693.8 333.0L691.6 334.9L691.7 336.1L695.0 336.7ZM701.0 336.3L703.0 337.2L705.2 336.0L701.5 333.9ZM757.8 337.1L755.8 333.4L754.0 334.2L753.2 336.2L756.3 339.0ZM780.1 335.2L784.7 333.2L783.8 332.4L779.7 334.2ZM818.5 335.6L819.7 335.3L819.6 333.3L818.3 332.1L816.8 333.7ZM563.0 342.8L563.6 339.5L559.8 339.3ZM603.7 337.7L598.9 342.1L598.9 342.3L600.9 343.0ZM638.3 341.5L636.9 339.1L635.0 340.6L635.0 342.6L636.0 344.2ZM661.8 344.3L663.3 340.2L660.2 339.6L660.9 344.3ZM691.9 345.2L693.3 345.4L693.1 342.0L689.7 341.3L688.9 342.0ZM749.5 340.2L747.5 341.0L748.3 343.6L752.0 342.5ZM759.9 343.3L763.5 344.4L763.7 340.3L762.3 340.2ZM508.7 350.3L508.9 348.0L507.1 349.3L507.4 350.8ZM515.9 349.0L514.5 347.7L514.2 350.3L516.0 350.8ZM550.8 350.5L549.5 345.6L547.6 345.9ZM643.3 349.1L643.7 346.3L642.1 345.5L640.0 348.1ZM658.4 350.7L659.2 352.4L661.1 350.7L660.8 349.8L659.1 349.6ZM686.8 347.9L684.9 345.8L683.3 347.2L684.6 350.3ZM691.8 352.6L692.5 350.8L689.9 352.7ZM709.7 351.1L711.1 352.3L712.8 351.0L713.2 349.1L711.4 348.1ZM815.1 350.9L817.5 350.8L817.6 349.6L816.0 348.2ZM505.3 358.4L504.6 356.3L502.2 357.8L501.9 359.1L503.8 360.4ZM519.9 356.2L523.7 358.7L523.8 358.7L524.0 355.9L520.0 355.1ZM531.4 358.8L531.9 356.4L529.7 354.9L529.3 359.0ZM539.1 357.0L537.3 357.5L536.6 360.5L537.2 361.1ZM553.4 358.6L556.8 359.9L557.3 358.6L553.4 356.3ZM575.2 357.5L573.9 355.9L571.9 357.1L572.7 358.5ZM592.4 357.7L591.3 357.7L591.2 358.2ZM639.2 357.6L641.3 354.3L636.8 352.8L635.7 354.0L637.8 358.2ZM654.7 356.1L653.9 354.1L651.7 354.9L653.1 357.0ZM696.7 355.1L697.8 357.3L698.9 356.7L699.8 353.8L697.8 352.4ZM738.4 356.2L739.4 358.6L743.6 356.2L742.3 354.3ZM787.2 359.0L790.6 358.8L791.3 356.1L787.3 356.3ZM622.6 361.7L620.8 363.2L621.1 364.2L622.5 364.4ZM676.6 365.5L675.6 363.9L674.6 364.7L675.1 367.3ZM756.9 366.5L756.8 364.1L755.0 362.3L752.3 363.2L751.9 366.6ZM767.3 366.2L763.1 363.7L762.3 364.3L762.4 365.6ZM552.0 371.7L552.4 374.1L556.0 375.3L557.2 374.6L557.0 371.2ZM583.7 376.5L584.7 374.9L582.6 372.3L581.0 374.5ZM610.2 372.3L609.4 371.2L604.6 372.3L604.5 373.9L609.4 373.8ZM615.9 372.6L620.8 372.7L621.2 369.8L619.9 369.5ZM626.2 374.3L627.9 374.5L628.7 370.4L626.8 370.0ZM645.2 372.2L642.0 371.8L642.1 374.3L644.8 375.4ZM652.8 375.7L655.0 371.3L653.3 370.4L650.7 372.0L650.3 375.6ZM704.0 370.0L706.0 371.9L706.3 369.5ZM751.0 372.2L752.7 375.6L756.6 376.5L756.0 372.0ZM788.0 373.8L788.7 373.1L787.3 371.2L784.4 373.4ZM576.5 381.1L580.1 383.4L581.8 381.9L578.2 379.3ZM587.9 380.2L588.0 380.0L587.9 380.2ZM667.1 379.4L668.0 380.8L668.1 379.5ZM676.9 379.7L674.5 378.2L673.8 378.6L673.3 382.2ZM692.7 380.6L695.0 380.4L694.2 378.6L690.3 377.9ZM730.8 382.4L733.8 377.0L728.9 377.9L730.1 382.4ZM756.3 382.4L752.7 381.2L751.9 383.5L754.6 385.4ZM804.0 382.7L804.0 381.7L800.3 382.1L801.2 383.4ZM811.6 381.7L811.2 379.5L810.3 379.3L809.5 380.1L809.4 383.7ZM504.9 387.8L505.4 385.9L503.9 385.5L501.4 387.9ZM521.3 387.0L518.8 385.8L519.6 389.6L520.6 390.5ZM567.4 392.1L569.0 391.3L567.8 387.4L565.0 389.7ZM743.3 389.0L743.3 387.6L741.2 389.4L741.5 389.8ZM787.5 389.1L789.0 388.5L790.0 385.6L788.9 385.0L785.6 387.3ZM517.7 395.2L516.5 394.2L511.9 396.2L515.3 397.9ZM527.6 398.3L526.6 395.7L525.4 395.9ZM533.4 398.0L534.4 397.7L532.8 396.4ZM559.8 394.0L559.8 395.4L563.6 398.4L564.0 396.4L560.8 393.2ZM605.1 397.5L604.7 396.7L602.8 397.2ZM643.6 395.9L639.2 393.9L638.5 394.3L640.1 396.6ZM658.1 393.7L656.1 394.5L656.1 396.7L658.7 396.9L659.5 394.7ZM702.9 395.9L703.3 394.4L701.9 395.7ZM734.8 396.1L735.6 397.9L738.4 397.0L737.1 393.1ZM743.7 395.7L748.3 396.4L748.7 395.8L745.8 393.9L743.6 394.9ZM770.0 398.4L773.3 399.2L772.5 395.8L771.4 395.4ZM799.7 396.6L802.5 396.0L802.5 395.1L799.9 393.6ZM810.1 393.0L808.0 394.8L808.9 397.2L811.7 396.4L811.0 393.5ZM497.1 403.0L497.0 403.0L497.0 403.3ZM521.0 403.8L523.1 401.6L521.3 399.5L519.0 402.1ZM548.5 404.0L550.7 403.6L550.9 402.1L546.5 400.9L545.3 402.1ZM576.9 403.9L574.6 404.0L572.4 405.5L572.5 406.5L574.5 408.2L576.0 407.8ZM613.3 406.6L612.8 402.8L610.3 402.4L608.0 406.7ZM657.9 402.5L654.8 402.2L654.3 402.9ZM666.1 403.3L666.4 402.0L663.8 398.9L663.4 402.9ZM787.3 405.4L788.2 406.4L791.0 404.9L790.8 402.5L788.5 401.5ZM796.5 404.7L798.1 405.6L797.2 401.6L796.3 402.1ZM821.0 403.8L820.7 405.4L822.8 405.3L822.8 403.9ZM570.8 414.2L571.1 412.5L569.7 411.4L567.4 413.1ZM587.6 413.8L589.3 413.5L588.0 411.0L586.9 412.6ZM649.5 411.5L652.2 412.2L650.1 408.5L648.4 410.1ZM712.9 413.7L713.3 413.1L712.4 412.9ZM731.1 411.8L729.8 410.6L727.6 414.4L729.6 416.5L731.0 415.4ZM757.3 411.4L753.7 411.6L753.4 413.4L758.6 414.7ZM803.5 411.1L800.4 410.7L800.0 412.6L801.8 414.3L803.2 413.1ZM530.8 422.0L530.5 419.2L527.9 418.5L526.4 419.1ZM545.6 419.6L548.6 418.2L547.1 417.3L544.4 417.7ZM554.9 419.2L555.4 420.3L560.4 420.7L560.0 419.0ZM565.8 419.5L566.4 418.6L565.5 418.2ZM633.7 423.6L637.0 421.5L636.2 419.4L632.6 419.2L631.7 422.8ZM645.1 421.1L645.2 414.9L645.0 414.7L641.5 417.9L642.7 420.8L644.0 421.6ZM653.4 418.3L650.6 417.5L650.6 420.4L652.9 420.5ZM664.4 418.7L659.1 417.8L658.3 421.7ZM722.1 420.2L725.9 420.8L726.1 420.7L723.5 418.1ZM735.4 424.0L738.0 422.1L737.3 420.5L734.4 419.7L732.6 421.1ZM746.4 418.1L743.1 417.5L742.5 418.5L742.6 418.9ZM752.3 418.8L752.5 421.0L756.3 421.0L756.5 419.9ZM768.6 420.5L768.4 419.7L768.3 421.0ZM814.9 418.4L813.9 417.1L813.0 418.0ZM502.6 429.5L504.0 430.1L506.4 427.5L506.3 425.0L502.0 426.3ZM555.9 426.2L559.6 426.2L555.9 425.9ZM569.7 429.0L570.8 429.0L570.4 426.5L568.1 426.5ZM584.6 424.4L583.8 428.4L587.2 430.0L589.1 427.2ZM611.3 428.7L612.6 429.7L614.2 427.9L612.1 426.1ZM639.1 429.5L641.1 427.6L640.4 425.9L637.0 428.0ZM685.9 425.4L684.8 424.5L682.0 425.9L682.6 428.1ZM738.4 428.9L742.5 429.6L740.0 427.4ZM746.8 426.1L747.6 423.4L744.6 424.1ZM499.1 436.4L503.2 437.3L502.6 435.4L500.8 434.7ZM521.6 436.1L523.7 431.4L521.8 430.5L519.6 434.6ZM549.9 434.1L549.6 432.0L546.3 431.7L546.5 434.7ZM562.8 436.2L565.0 431.9L563.8 429.9L562.7 430.8ZM585.7 435.4L581.2 433.3L579.5 434.4L583.2 439.0L586.2 436.9ZM644.8 435.4L644.9 433.5L643.9 432.5L641.9 434.5ZM691.4 434.0L691.7 432.6L689.3 429.7L686.5 432.2L687.3 435.3ZM723.0 436.9L725.8 436.4L725.3 434.7L723.7 433.9ZM733.2 437.2L733.8 432.4L730.9 434.2L731.5 436.5ZM758.6 433.1L756.8 436.9L758.5 437.4L761.9 436.4ZM513.9 444.4L515.9 444.1L517.4 439.8L516.1 438.8L513.3 440.8ZM566.2 443.1L569.9 446.6L570.4 445.4L569.8 444.0ZM593.6 439.9L596.1 442.4L596.9 441.0L596.2 439.3ZM623.0 441.6L621.6 442.4L622.7 445.4L625.0 443.0ZM687.4 445.7L687.9 445.5L686.6 444.1ZM704.2 442.9L705.2 439.6L699.3 441.4L699.4 441.9ZM710.7 441.7L714.6 443.8L715.9 442.9L716.1 441.3L711.9 440.1ZM792.6 442.6L794.2 444.8L794.8 442.3ZM822.8 446.0L822.8 445.7L822.7 446.1ZM553.6 453.9L556.6 452.1L553.1 449.9L552.5 453.5ZM577.5 448.6L575.1 448.4L574.5 449.6L576.0 450.7L577.6 449.6ZM583.1 449.5L584.2 450.3L585.4 450.3L583.0 447.9ZM591.6 452.1L592.2 451.4L592.7 448.0L590.9 449.8ZM598.0 449.7L600.1 449.6L598.2 448.3ZM638.0 452.2L637.7 448.6L634.4 449.8L633.8 452.3L636.4 453.4ZM666.9 450.3L664.3 449.0L663.1 450.8L663.2 451.2ZM725.8 451.2L725.3 450.0L724.2 452.3L725.0 452.5ZM743.1 452.1L746.3 451.1L746.1 449.1L741.7 449.8ZM751.9 451.8L754.3 450.7L751.7 450.0ZM814.2 453.3L817.3 452.3L817.2 450.3L814.2 449.3L811.7 449.8ZM550.3 458.5L550.1 460.8L551.1 460.1L551.1 458.8ZM579.8 454.8L578.8 455.4L578.9 457.1ZM597.8 458.9L599.5 455.1L596.1 455.3L594.7 456.9ZM618.9 460.4L622.0 461.3L623.6 460.3L623.3 457.3L618.8 458.1ZM643.7 461.3L644.2 457.7L641.3 456.6L639.6 457.9L639.7 460.6L641.3 462.9ZM725.3 460.2L724.3 458.0L720.9 457.1L720.8 459.7ZM771.2 461.4L772.1 462.2L775.5 460.5L772.6 459.1ZM783.7 457.8L784.1 455.5L783.0 454.6L780.7 458.5ZM809.9 456.7L808.9 455.2L808.0 456.3L809.0 458.6ZM539.3 463.4L539.6 467.1L541.0 466.6ZM742.6 466.0L745.8 465.8L746.5 463.7L742.4 462.7ZM821.3 467.8L821.8 467.1L820.1 464.0L818.6 465.3L819.4 467.0ZM501.7 471.4L497.0 471.8L497.0 473.9L501.6 474.1ZM508.8 475.9L508.8 473.2L507.1 472.0L507.0 476.1ZM533.0 475.5L536.7 475.5L536.2 472.4L533.6 473.1ZM566.5 477.1L568.1 474.4L567.9 474.3ZM603.2 474.5L605.8 470.8L603.9 469.7L602.4 473.3ZM686.9 470.7L685.4 473.6L687.3 475.1L688.6 474.8L688.3 471.3ZM711.6 472.4L709.2 473.4L709.2 475.3L710.8 475.8ZM751.6 474.4L751.4 475.0L755.2 474.8ZM571.5 479.6L572.8 480.9L574.4 480.1L572.6 477.7ZM617.2 482.7L618.5 480.0L617.6 478.6L616.5 479.6L616.1 482.7ZM663.8 481.7L663.2 480.4L662.2 480.8ZM704.6 483.9L708.3 484.9L710.5 484.3L710.9 483.2L710.0 481.3L706.6 480.2L704.5 481.1ZM786.9 478.5L784.4 481.3L790.1 482.2ZM807.4 481.9L807.6 477.1L806.3 476.0L805.0 477.1L806.0 482.1ZM513.9 488.2L515.1 489.7L517.3 488.2L517.4 485.7L516.0 485.1ZM542.3 494.1L545.3 492.5L545.0 488.6L542.7 487.6L540.3 489.9L540.3 491.9ZM586.0 488.0L587.3 489.2L589.2 486.4L587.6 486.1ZM606.6 487.0L605.1 488.9L605.8 489.9L609.5 490.3L609.6 487.8ZM640.0 486.1L637.5 487.4L638.6 489.1L641.1 486.8ZM694.8 488.7L698.0 489.0L698.7 487.4ZM767.6 490.2L768.6 488.2L764.9 486.2L763.9 487.3L765.5 490.8ZM810.5 491.0L811.4 487.7L807.7 487.4L807.4 489.8ZM528.2 497.8L529.8 495.9L528.1 495.0ZM601.2 496.7L601.4 493.3L600.5 491.9L598.5 495.9ZM642.0 493.6L645.7 495.9L645.9 494.1L643.8 491.8ZM660.1 498.3L662.7 499.1L664.1 495.4L660.8 494.3ZM727.4 498.8L728.7 497.5L728.5 496.4L725.9 496.5ZM766.9 496.8L770.7 499.1L773.3 498.4L769.1 495.5ZM783.2 498.8L782.8 495.7L781.5 495.1L778.8 497.6L779.4 500.0ZM497.1 501.3L497.0 506.1L498.5 507.3L500.9 503.3ZM540.7 504.8L543.1 504.1L541.6 502.1L540.1 504.0ZM561.0 507.6L562.1 507.6L563.5 503.5L559.0 504.1ZM621.1 507.4L624.1 506.0L623.7 504.3L619.8 505.3ZM682.5 506.7L683.5 507.4L683.7 504.0ZM713.0 505.5L711.6 504.2L708.8 504.9L707.9 506.4L711.1 508.9ZM722.3 505.1L724.3 504.0L721.6 499.9L718.2 503.7ZM749.9 504.8L750.4 503.8L746.1 501.4L747.1 505.1ZM781.0 505.7L783.4 508.3L785.1 506.7L784.7 504.1ZM519.5 513.6L522.1 514.1L522.0 512.4L519.8 512.3ZM527.6 512.7L528.6 516.9L530.2 515.3ZM601.1 512.3L599.2 511.4L598.3 515.2ZM610.0 515.9L611.0 515.2L609.7 513.3L608.4 513.4ZM616.1 512.9L617.1 511.4L616.1 509.8L615.0 511.2ZM625.9 515.9L628.0 513.8L628.3 511.7L626.9 510.7L622.4 513.0L621.8 514.7ZM676.1 510.9L680.8 512.2L678.2 510.5ZM690.1 514.5L692.1 513.5L692.3 512.6L688.0 512.5ZM717.3 509.2L715.6 512.3L718.1 515.4L719.3 515.0L719.3 509.9ZM806.5 512.1L804.1 512.8L803.4 514.4L804.2 515.8ZM515.6 517.8L513.9 518.8L513.7 520.7L515.8 521.6L516.4 521.4ZM534.7 518.5L533.4 519.8L536.1 522.4L537.6 521.6L536.5 518.6ZM550.4 518.8L552.1 518.9L552.9 518.0L550.5 517.0ZM558.4 518.0L562.5 521.8L562.2 520.3ZM642.3 520.5L643.2 520.0L641.6 516.8L640.0 519.2ZM694.5 519.9L694.1 518.7L693.2 519.2ZM730.3 520.6L730.4 522.0L732.6 522.4L732.0 520.9ZM774.0 521.6L775.4 519.3L772.0 516.6L771.3 517.1ZM782.6 519.2L780.8 520.6L783.2 521.7ZM809.6 521.8L811.9 520.7L811.8 516.9L810.5 516.1L807.3 521.3ZM511.1 525.6L512.1 528.2L512.6 526.2ZM518.1 526.6L517.6 528.7L520.7 529.0L522.2 527.5L519.5 526.2ZM549.7 524.3L546.5 525.4L547.9 528.9L549.1 528.7ZM557.5 525.5L555.4 523.5L554.6 529.0L555.4 529.2ZM565.0 529.7L563.9 527.2L561.8 529.1ZM591.4 524.9L592.6 528.1L592.7 528.1L593.2 525.0L592.1 523.7ZM656.6 530.4L658.1 530.5L657.7 527.9L655.8 527.7L654.6 528.5ZM673.9 528.0L674.6 523.9L673.5 523.6L672.6 524.9L673.1 528.1ZM725.3 526.2L723.9 526.9L724.4 528.3L724.9 528.3ZM510.4 534.0L509.2 532.9L506.2 535.1ZM545.1 534.5L543.0 537.4L543.1 537.7L545.4 536.7ZM578.0 537.5L580.7 535.9L577.8 534.2L577.0 535.1ZM686.0 535.5L686.4 531.9L686.2 531.8L683.3 533.4L683.4 536.5ZM691.7 533.5L691.8 536.9L694.4 534.8ZM708.9 534.9L712.1 535.8L713.7 535.1L710.9 531.3ZM722.7 535.5L723.3 533.7L719.2 536.1ZM736.7 534.0L734.9 534.9L735.0 538.2L738.6 539.7L740.4 538.3L740.1 537.3ZM761.9 538.4L764.1 539.4L764.7 538.2L763.7 535.4ZM790.2 536.7L790.8 536.1L790.1 535.5ZM811.1 538.5L812.3 538.2L810.7 535.1L808.1 536.7ZM521.4 540.2L518.8 541.5L518.8 542.3L520.6 542.9ZM526.5 545.8L529.2 542.4L529.1 541.1L526.7 541.4L525.6 545.6ZM547.5 542.8L547.2 541.9L544.7 543.0L544.8 543.8ZM581.2 545.0L582.5 544.5L583.5 540.7L579.4 542.9L579.5 544.2ZM592.8 543.6L592.1 541.7L589.2 542.8L588.1 545.4ZM627.3 539.0L625.0 540.5L625.1 541.4L628.2 544.6L629.7 543.3ZM715.9 542.5L714.7 540.7L713.9 544.2ZM750.5 543.0L750.5 546.3L751.6 547.7L753.4 546.6L752.0 542.8ZM768.9 544.5L770.6 544.3L771.4 541.8L769.3 541.4L768.2 543.5ZM780.1 544.2L777.7 541.4L775.9 545.8L777.2 546.7ZM797.9 543.1L795.5 542.3L795.6 544.0ZM532.4 551.0L533.9 550.7L534.8 547.7L532.7 546.7L530.7 549.3ZM547.4 552.7L551.0 550.4L548.9 548.2L547.4 548.8ZM588.5 554.5L585.9 550.5L583.8 549.9L583.6 553.8ZM642.7 551.9L642.5 549.7L641.4 549.8L640.9 551.9ZM678.5 550.3L677.2 548.9L676.0 549.5L676.2 551.2L677.7 552.3ZM755.5 554.8L757.4 553.7L756.0 551.5L753.7 552.9ZM801.5 551.8L801.8 550.1L800.0 548.2L798.0 549.0L800.5 552.2ZM503.9 560.2L505.0 561.1L506.6 558.0L503.6 557.7ZM526.4 559.7L528.4 560.1L528.3 554.7L525.7 557.9ZM555.4 559.1L553.5 555.3L552.0 556.4L554.4 559.8ZM586.7 560.6L586.7 559.8L583.1 559.3ZM655.5 560.0L657.9 558.4L657.6 556.0L654.0 556.2L652.6 557.7ZM663.4 558.0L666.0 559.5L666.1 556.4L663.0 554.2ZM673.9 559.2L674.8 556.9L673.3 556.0L671.6 556.8L671.5 560.5ZM714.1 555.8L712.4 556.9L713.2 560.2L717.1 557.8ZM722.5 556.9L725.6 560.6L727.8 557.6ZM789.9 557.7L788.7 555.5L786.8 557.7L787.7 559.9L789.7 559.9ZM533.2 567.4L538.3 564.1L532.7 564.3ZM546.4 567.6L546.6 568.6L551.3 569.7L552.0 568.5L551.7 566.2ZM557.0 564.6L557.3 566.8L561.0 567.6L563.9 566.7L563.7 565.5L559.2 563.1ZM648.0 564.0L648.5 566.8L650.2 569.0L652.4 568.1L652.7 564.8L649.5 562.3ZM764.8 563.7L764.1 564.3L763.2 567.3L764.1 567.4L765.6 564.8ZM808.8 565.9L806.8 563.7L805.7 564.7L805.8 566.1ZM502.3 573.6L500.3 573.9L499.4 576.0L502.1 578.4L503.2 577.5ZM520.3 574.1L521.6 573.1L519.8 571.3L518.2 573.1ZM564.0 575.4L566.1 573.4L566.3 571.7L563.9 572.4ZM598.9 577.6L601.0 575.2L600.3 574.3ZM675.1 576.1L675.1 573.6L671.8 575.2L673.0 576.7ZM684.9 574.9L683.5 572.2L680.6 573.7L680.6 574.9ZM726.0 576.3L728.6 575.1L728.6 574.0L724.7 570.7ZM742.4 576.1L745.1 574.7L745.2 574.3L742.8 573.8ZM763.8 573.0L758.9 572.5L759.2 573.9L762.7 577.2L763.5 576.5ZM497.0 582.3L499.0 583.0L497.0 581.2ZM507.9 585.0L509.2 583.2L508.7 582.0L506.9 581.6L505.1 583.1ZM567.0 580.2L567.4 582.1L571.0 583.1L572.1 582.6L568.7 578.6ZM597.1 587.1L599.3 585.4L597.9 583.1L595.4 582.1L594.1 584.9ZM639.1 582.2L641.2 582.8L641.7 580.9ZM649.1 582.9L651.5 582.0L648.3 577.8L647.0 578.9L647.4 581.8ZM657.4 582.2L660.4 583.1L660.3 579.3L659.6 579.2ZM665.9 582.7L668.2 581.6L668.8 580.3L666.4 577.3ZM743.7 581.6L744.1 583.6L746.6 584.6L748.3 582.5L746.6 580.1ZM757.1 581.5L758.3 580.6L757.0 579.4L755.8 581.1ZM787.7 580.2L787.5 581.1L792.7 584.0L793.0 582.6L790.9 579.7ZM521.2 587.6L520.7 586.8L519.7 587.6ZM527.9 586.5L526.8 587.6L531.0 587.6ZM624.1 586.9L624.3 587.6L628.8 587.6L627.5 585.6ZM635.1 587.6L635.1 587.6L635.3 587.6ZM644.5 587.6L646.1 587.6L646.1 587.5L645.0 586.8ZM689.4 587.6L689.9 587.6L689.6 587.4Z"/>
<path fill="#b8b8b8" stroke="#b8b8b8" stroke-width="2.6" d="M615.0 259.6L616.3 258.2L612.9 258.2ZM638.9 260.8L641.3 259.4L640.8 258.2L637.4 258.2L637.4 259.7ZM704.4 260.9L705.4 260.0L703.9 258.2L700.7 258.2L699.9 259.9ZM619.5 265.3L620.6 264.3L619.2 263.2L618.1 264.2ZM654.4 263.9L654.7 262.3L653.0 261.0L650.1 262.7L651.1 265.6ZM661.9 264.3L660.1 263.6L659.8 264.8L660.8 265.6ZM709.5 263.6L708.2 266.0L710.3 266.4ZM723.0 265.6L724.0 266.7L726.3 260.8L725.3 260.1L722.7 262.5ZM498.5 267.2L497.0 268.0L497.0 271.5L499.0 272.0L499.5 270.3ZM664.2 272.9L668.9 272.2L669.0 270.0L666.1 267.8L663.8 270.5ZM716.2 273.6L720.7 274.7L721.9 272.5L719.4 269.9L715.9 270.7ZM520.7 280.3L518.2 277.1L516.0 277.6L517.5 282.5ZM589.5 280.6L592.9 281.3L592.9 279.5L589.3 277.8ZM735.5 280.0L735.9 278.5L734.7 278.6ZM579.8 288.7L582.6 288.0L582.7 286.9L578.0 286.3ZM588.2 287.7L589.1 287.9L589.4 286.2L588.3 285.9ZM641.0 288.8L641.2 286.9L638.9 287.3L639.3 290.0ZM646.6 288.2L647.0 290.1L648.5 288.3ZM704.3 289.3L701.1 287.8L699.2 290.0L702.6 292.3ZM822.8 288.6L822.8 287.8L819.3 287.7ZM574.4 297.0L575.7 292.4L574.9 291.3L571.8 295.2ZM673.5 297.3L672.1 292.6L669.5 295.5L669.6 297.2L670.6 297.9ZM687.4 296.2L690.2 295.1L691.1 293.1L686.7 295.7ZM706.8 296.0L708.7 297.0L708.1 293.8ZM522.6 303.9L522.8 303.7L522.2 303.7ZM552.2 306.3L552.6 304.1L549.6 303.1L549.0 305.1ZM799.6 304.8L800.2 302.3L800.0 302.2L798.9 302.4ZM549.1 313.6L549.5 311.2L545.2 310.2ZM645.1 310.6L641.9 310.3L642.0 312.9L645.3 312.3ZM723.0 313.1L725.0 313.4L724.5 309.6L723.3 310.0ZM795.5 316.2L795.1 311.6L793.5 311.5L792.2 314.1L792.5 315.2ZM506.1 320.2L508.5 318.4L508.3 317.7L507.3 317.3L504.8 318.5ZM550.8 319.0L548.4 321.8L551.7 323.2ZM606.0 316.6L603.2 317.2L605.1 321.0L606.0 320.5L606.9 317.3ZM622.6 318.2L620.2 316.4L618.3 317.2L620.1 319.7ZM704.9 317.6L702.4 315.6L700.2 318.1L702.3 321.0L703.6 320.5ZM802.9 321.3L804.8 320.9L801.1 318.7ZM807.4 315.4L807.1 315.7L808.8 317.0ZM564.5 327.2L567.4 329.0L567.5 329.0L566.4 325.8L564.1 324.9ZM615.4 327.9L617.2 330.5L618.7 329.6L617.9 326.5ZM636.1 329.6L636.8 324.6L636.6 324.4L632.9 327.2ZM689.7 329.3L688.6 327.3L686.3 326.4L686.1 328.1L688.7 330.1ZM723.3 327.4L725.9 327.5L725.6 326.5ZM736.0 325.1L731.2 326.0L731.6 327.3ZM497.0 332.0L497.0 337.0L497.9 337.5L499.1 336.3L498.2 332.3ZM533.6 334.9L536.8 335.4L537.4 332.4L533.9 331.8ZM622.0 338.6L624.0 337.1L622.4 333.7L620.1 335.2ZM711.9 336.2L715.2 334.6L714.9 332.4L713.2 331.3L710.4 334.1ZM733.6 332.4L738.8 333.2L738.9 332.2L738.1 330.2ZM791.6 336.5L794.2 335.4L794.0 333.5L791.1 335.0ZM799.8 336.2L801.3 338.6L802.5 337.7L801.0 334.0L799.5 333.1ZM511.8 338.0L511.0 338.7L511.9 342.2L514.6 342.2L515.3 340.4ZM528.5 342.3L529.8 339.0L527.0 339.5ZM538.3 343.8L539.1 342.9L537.8 340.9L535.0 340.9L533.7 344.2ZM593.4 342.3L593.2 341.6L587.9 341.4L588.8 343.0ZM729.3 341.4L729.2 340.9L728.0 341.4ZM787.2 341.7L786.4 338.4L784.1 339.5ZM806.9 344.0L805.7 342.1L805.0 342.7ZM810.5 339.2L812.9 341.7L813.5 341.8L814.5 339.3L813.0 337.7ZM536.9 349.4L532.5 349.8L532.5 350.1L535.5 352.3L536.9 351.9ZM577.3 351.4L579.4 353.8L581.5 351.4L577.3 349.7ZM587.3 350.5L589.8 352.3L591.4 352.1L592.3 348.0L588.9 348.5ZM675.8 349.6L674.4 354.0L675.6 355.2L679.3 351.9L678.1 348.8ZM704.0 347.1L701.9 348.6L703.6 349.7L705.2 347.8ZM799.6 348.9L800.9 349.8L804.0 349.9L804.0 348.8L800.8 346.5ZM567.4 360.3L566.3 358.1L565.6 357.8ZM680.0 360.4L684.0 359.4L683.6 355.9L679.0 359.6ZM705.2 355.0L704.5 357.4L707.7 359.4L708.4 357.2ZM732.3 361.6L734.0 360.0L732.8 356.8L731.5 356.2L729.0 361.2ZM822.8 358.1L822.8 357.1L820.3 355.7L820.1 360.1ZM562.3 362.7L561.8 362.0L561.2 363.6ZM647.8 367.3L650.0 365.9L649.9 365.6L647.8 365.7ZM655.6 365.3L657.4 366.4L660.7 362.9L657.8 360.6L654.7 362.5ZM696.7 367.6L695.3 364.6L692.6 365.8ZM792.6 363.9L790.4 364.5L790.5 366.3L792.4 368.9L795.7 365.4ZM803.7 364.5L801.2 365.4L803.0 367.3ZM809.0 367.5L808.9 366.5L808.2 368.9ZM543.1 371.5L543.7 376.1L545.2 376.9L547.0 375.2L546.3 371.2ZM680.6 375.5L682.8 373.8L679.6 370.5L677.1 373.3ZM503.4 377.5L504.9 380.0L508.3 381.1L508.2 377.1L507.0 376.0ZM515.6 381.3L517.1 380.6L518.4 377.6L516.0 376.6L513.7 377.6L513.8 380.6ZM550.8 382.5L553.2 380.3L553.3 380.2L550.7 379.3L549.0 380.8ZM613.1 377.8L613.1 382.6L614.6 383.4L613.8 377.7ZM619.5 378.3L620.4 382.3L621.8 382.6L623.0 378.8ZM648.5 381.0L648.3 383.3L653.0 381.7ZM740.0 383.2L738.8 379.4L736.0 384.5L737.2 385.5ZM818.9 382.5L819.3 379.1L816.7 378.9L817.1 381.1ZM536.5 390.0L533.8 390.1L535.9 391.8ZM548.1 387.6L546.2 385.8L544.8 387.7L547.4 389.3ZM578.1 390.0L577.9 388.5L573.1 385.8L574.4 390.1ZM698.4 391.4L699.9 390.1L699.0 389.1ZM748.8 389.3L750.8 390.6L751.3 389.8L748.8 388.0ZM759.6 387.8L762.5 389.0L760.6 386.0ZM709.5 392.2L708.6 395.9L713.0 397.0L712.9 394.6L710.6 391.5ZM727.6 398.0L729.3 401.5L730.6 400.2L729.6 397.8L728.2 397.2ZM513.0 402.9L509.3 401.0L508.3 401.7L510.4 405.6ZM527.2 406.3L527.9 404.6L526.6 405.9ZM533.4 405.1L537.0 408.0L539.0 403.5L537.3 402.6L533.4 403.8ZM581.5 408.3L582.8 408.8L584.3 406.6L584.3 403.5L582.8 402.9ZM691.7 403.9L692.3 402.6L690.6 401.6L689.0 403.0L689.0 404.5ZM769.6 405.9L771.0 404.3L766.7 403.3ZM814.7 401.3L810.9 402.4L810.6 406.2L812.5 406.5L815.2 404.7L815.8 401.9ZM658.1 408.0L656.2 408.2L657.6 410.8ZM685.6 410.6L684.4 414.2L685.3 415.4L687.8 413.4ZM772.7 410.7L772.8 412.2L775.2 412.1L776.6 407.7L775.9 407.1ZM816.4 410.6L818.9 414.5L819.4 414.1L817.4 409.8ZM500.8 420.8L503.0 419.9L501.9 417.2L498.7 417.5ZM508.7 420.1L510.6 420.2L512.1 417.2ZM681.8 419.9L680.4 418.1L679.0 418.6L679.1 421.2ZM773.9 419.2L778.1 422.2L778.7 421.6L777.7 418.6L776.3 417.6L773.5 417.6ZM550.8 423.4L548.2 424.4L548.3 426.3L550.3 426.5ZM782.7 425.4L780.0 429.1L781.3 429.8L783.8 427.9ZM801.9 425.2L800.5 423.0L797.0 424.2L798.0 428.1ZM818.0 431.1L821.5 428.9L820.6 426.8L818.3 425.3L816.4 429.8ZM592.5 432.2L591.3 434.7L595.8 433.8ZM620.3 435.0L617.7 432.3L615.5 434.8L614.8 437.2L618.1 438.0L620.3 436.8ZM717.6 436.0L718.4 432.7L717.8 432.3L715.5 435.4ZM771.7 434.0L772.6 432.1L769.5 431.1L767.3 435.1L767.5 436.3ZM507.1 446.2L508.5 445.3L507.9 441.7L507.0 441.4L505.5 442.3L505.3 444.4ZM543.4 444.8L545.4 444.4L543.6 440.8L541.1 442.4ZM579.4 442.9L576.8 440.1L575.0 442.2L575.3 442.9ZM665.9 442.9L670.8 446.2L671.7 445.6L671.0 442.8ZM783.1 447.8L787.5 444.7L786.3 441.6L782.5 444.4L781.9 446.0ZM817.4 444.5L818.7 441.1L817.8 440.1L817.5 440.4ZM500.8 450.9L503.5 450.9L503.6 450.5L501.6 448.6L500.8 448.9ZM682.0 447.2L679.7 448.3L681.0 450.1L682.9 449.3ZM735.3 448.7L733.2 446.7L730.8 448.4L731.1 449.5L733.8 450.3ZM657.7 458.1L658.6 456.5L656.3 456.9ZM668.6 458.3L668.2 455.7L664.1 456.6ZM678.1 462.1L679.3 461.4L678.1 459.3L674.2 460.3ZM690.5 458.8L693.6 459.5L695.3 457.3L691.1 457.3ZM706.5 461.1L704.6 456.4L700.7 458.1L704.2 462.6ZM731.5 457.4L731.7 455.5L730.0 454.9L729.4 455.9L730.4 458.1ZM618.7 469.5L619.5 466.3L617.4 465.7L616.1 467.5ZM715.8 466.9L716.2 464.3L714.6 464.7ZM793.9 468.6L795.2 466.5L794.7 464.2L792.6 465.2L791.3 468.4ZM543.5 474.8L544.6 471.1L541.7 472.2L542.2 475.5ZM560.9 470.9L558.8 473.2L561.2 475.4L562.9 471.9ZM586.5 473.4L584.2 473.7L584.0 476.2L584.5 476.4ZM595.5 477.4L597.8 476.4L593.7 474.4ZM623.1 477.0L624.5 476.9L623.7 474.2L622.2 474.0L621.5 474.3ZM636.1 471.8L636.8 474.2L637.7 474.5L639.1 473.2L639.5 469.4ZM648.7 475.3L649.5 474.9L646.2 474.1ZM668.5 475.4L667.8 472.9L666.9 476.0ZM717.0 473.6L719.2 473.0L717.8 472.1ZM799.7 473.0L801.1 473.3L802.6 471.9L799.2 470.5L798.6 471.4ZM819.0 475.6L819.8 473.2L818.3 472.5L816.6 474.6ZM544.3 480.6L544.6 482.4L547.5 483.7L549.1 482.8L549.3 480.7L546.0 479.7ZM582.4 483.7L583.2 481.8L581.1 480.9L580.0 481.4ZM588.7 480.7L591.2 481.2L591.3 481.0L589.7 478.5ZM635.0 479.4L632.1 481.3L632.4 483.5L636.8 481.5L636.3 479.9ZM733.0 483.9L735.8 483.1L735.5 482.0L733.4 481.9ZM821.5 483.3L822.8 483.0L822.8 479.7L822.4 480.2ZM504.9 491.0L507.3 492.8L509.2 491.2L508.6 489.8L505.7 488.3ZM533.7 491.7L534.8 490.5L531.1 489.7L530.8 490.2ZM614.8 492.9L618.4 491.7L617.8 488.2L615.1 488.2ZM664.6 489.8L666.7 490.5L667.5 487.8L665.6 487.3ZM703.8 489.4L702.9 491.4L703.0 491.6L704.3 491.5L704.9 489.7ZM715.7 486.0L716.1 488.8L720.1 490.6L720.1 486.5ZM801.8 490.3L802.2 487.0L800.1 487.5L800.2 490.4ZM621.8 499.1L620.4 496.8L615.7 499.3L616.9 500.3ZM655.5 492.8L651.3 494.9L651.2 496.6L654.5 498.1ZM750.7 497.4L752.0 498.3L752.4 497.1L751.4 496.3ZM822.8 497.6L821.2 498.4L822.8 501.1ZM597.7 506.1L599.4 505.8L601.1 502.4L596.0 500.9L594.1 503.5ZM657.2 504.5L659.6 509.1L660.7 508.4L661.6 504.5L657.4 503.3ZM702.5 504.7L703.4 503.2L701.6 501.9L699.2 504.2L699.7 505.5ZM760.3 507.3L760.0 506.0L755.4 506.1L757.1 507.6ZM793.2 503.1L790.2 503.6L790.5 505.6L792.7 506.3L793.7 505.4ZM501.2 512.1L500.4 514.2L503.2 515.7L505.2 514.6L504.5 513.3ZM574.3 512.3L576.2 509.7L574.4 509.8L573.6 511.6ZM637.7 510.7L633.7 512.4L633.5 513.7L636.0 515.2L638.7 511.0ZM746.0 510.5L742.4 512.4L743.6 514.9L746.1 513.9ZM790.2 513.6L790.4 511.3L788.7 510.8L786.2 513.3ZM569.3 515.1L567.8 520.0L572.0 517.8ZM613.2 522.4L615.8 522.3L616.9 518.4L612.0 521.4ZM754.4 520.9L755.3 519.9L754.0 517.9L753.1 518.0ZM766.0 519.0L764.8 519.9L766.9 520.6ZM799.1 517.8L796.3 518.6L797.1 521.9L799.9 522.8L801.4 521.9ZM497.0 528.3L497.7 527.2L497.0 526.0ZM503.0 528.8L502.9 530.7L505.9 528.5L505.6 527.1ZM527.5 526.0L530.6 528.4L532.2 526.3L529.3 523.5ZM599.9 527.6L598.4 527.1L598.3 527.6ZM638.8 527.1L639.2 525.1L637.8 524.3L633.4 527.3L633.8 528.1ZM667.8 529.7L667.2 526.2L663.3 524.9L663.6 529.8ZM679.4 528.6L683.5 527.0L680.1 524.6ZM704.6 526.5L702.6 531.1L704.4 531.6L706.7 527.5ZM807.5 527.0L804.7 526.3L803.1 527.3L803.2 531.0L804.4 532.6L807.8 530.4ZM527.8 535.8L527.7 533.0L525.7 531.8L524.4 533.1L524.1 535.4ZM633.7 539.2L634.1 538.6L632.4 536.8ZM656.6 535.9L654.5 538.1L657.7 538.6L657.8 535.9ZM702.4 540.0L704.1 537.6L700.7 536.3ZM755.0 537.7L758.6 533.3L757.1 532.7L755.4 534.9ZM820.7 537.2L820.9 534.3L819.5 533.5L817.2 535.2L817.7 537.4ZM562.3 546.3L564.2 547.2L565.8 545.7L562.9 541.7L561.6 541.8ZM673.2 544.8L675.5 543.6L675.7 542.9L672.4 541.8L671.3 543.7ZM724.9 543.9L725.3 543.0L723.7 540.9L721.3 541.3ZM595.6 548.4L592.0 549.8L593.5 551.9L594.2 551.9ZM616.8 554.8L618.5 554.0L614.9 550.3L613.1 552.4ZM625.1 550.6L625.2 549.5L622.1 546.2L620.2 547.8L623.6 551.4ZM635.5 550.7L636.1 548.1L634.0 546.9L630.6 549.8L630.6 550.6ZM654.9 550.6L657.4 550.5L656.3 548.7L654.5 549.2ZM710.8 551.4L709.6 549.4L706.8 549.2L709.2 552.5ZM745.0 551.4L747.7 551.6L746.9 550.6ZM510.3 562.7L512.9 561.6L512.1 559.1ZM548.7 561.3L546.5 558.2L545.1 557.8L543.7 561.3L544.3 562.5ZM611.0 557.5L610.3 559.2L613.2 559.0ZM768.2 558.0L770.2 561.9L772.7 561.9L772.9 558.4ZM575.5 569.1L578.6 570.1L577.2 567.3ZM604.6 565.9L603.3 566.2L602.6 569.0L603.5 569.8L607.1 568.3ZM629.8 569.4L631.1 570.0L632.0 569.2L631.4 565.9L628.4 566.3ZM702.5 569.7L701.5 566.5L700.7 566.6L699.5 569.4ZM749.5 567.3L745.4 565.2L744.0 565.5L744.0 568.4L748.0 569.2ZM814.2 567.3L813.7 569.7L819.0 569.2L817.9 565.2ZM530.7 576.2L533.3 576.2L531.2 572.7L529.6 574.1ZM615.7 570.9L616.1 574.4L618.3 574.2L619.1 572.2L617.7 569.3ZM693.0 575.1L693.5 572.8L689.9 572.2L690.9 576.2ZM700.4 575.5L698.7 574.9L698.6 575.4ZM753.1 572.3L751.0 573.8L750.5 576.0L751.6 577.6L753.7 574.6ZM516.1 578.2L514.0 580.3L514.4 581.3L518.1 581.9L517.9 579.0ZM531.2 581.7L533.7 582.7L534.4 581.8ZM542.8 580.9L543.5 579.9L542.6 579.1L540.5 580.2ZM692.4 582.7L693.9 583.5L695.6 583.0L695.6 580.0L692.6 581.5ZM802.4 585.9L801.0 582.8L798.3 583.9L801.3 586.0Z"/>
<path fill="#c6c6c6" stroke="#c6c6c6" stroke-width="2.6" d="M498.8 261.4L497.4 258.2L497.0 258.2L497.0 261.9ZM598.1 262.7L598.4 266.0L601.7 264.3L601.7 262.4ZM715.7 265.1L717.4 264.7L717.3 263.6L715.1 263.2ZM730.1 266.3L733.5 265.3L732.5 263.2L731.3 263.0ZM760.7 267.1L762.8 265.5L762.5 262.8L760.4 261.5L758.3 263.8L759.0 266.3ZM775.0 265.5L777.9 267.4L778.8 263.8L778.2 263.1ZM737.2 273.0L738.1 273.0L740.2 271.0L738.5 270.4ZM799.5 270.6L800.4 271.8L803.5 271.0L803.9 269.3L801.0 268.7ZM608.7 283.6L609.7 279.1L606.9 280.2L606.3 282.5ZM822.8 282.3L822.8 279.0L819.6 280.3L819.3 282.2ZM596.6 287.6L594.9 286.5L594.5 289.3ZM720.8 286.9L720.2 285.5L718.2 286.8L717.9 288.7L718.8 289.6ZM796.9 288.5L799.3 288.7L802.4 287.5L802.8 286.5L799.5 284.8L796.3 286.9ZM554.0 298.8L555.1 297.4L554.8 293.7L551.5 298.0ZM662.2 297.9L664.0 297.0L664.0 295.9L662.0 294.5L658.4 296.6ZM649.8 301.0L646.8 299.1L648.8 303.8ZM557.2 313.7L555.7 310.6L554.6 314.1ZM699.2 310.8L696.7 309.2L695.2 310.1L696.4 314.1ZM813.4 314.1L814.7 313.5L813.8 308.2L810.6 310.6ZM612.3 318.5L611.5 321.6L613.0 323.0L615.0 321.9ZM647.8 317.2L646.1 321.4L649.0 322.5L649.9 321.4ZM653.5 325.6L652.5 327.5L655.2 330.7L656.0 329.7ZM750.6 324.7L751.4 328.7L753.6 328.3ZM806.9 326.1L803.8 326.8L803.1 328.8L806.9 327.4ZM812.4 328.1L813.5 329.2L815.1 327.6L812.4 326.3ZM608.5 341.4L608.3 340.7L607.7 341.9ZM542.4 352.6L545.2 352.0L542.4 348.0ZM689.6 358.2L690.2 360.9L692.8 359.7L692.0 358.1ZM775.1 356.8L781.7 358.1L781.8 355.6L778.7 353.8L774.4 355.1ZM500.4 364.7L498.4 363.4L497.5 365.5L498.4 366.1ZM588.5 370.8L591.2 372.6L591.1 370.6ZM726.6 372.9L726.4 370.2L726.3 369.9L725.0 372.9ZM761.9 374.4L764.8 373.8L765.0 371.4L761.4 371.0ZM733.1 389.2L730.7 387.9L730.5 392.2L730.8 392.3ZM625.2 399.0L626.0 395.4L624.3 395.0L622.1 397.0ZM684.0 394.0L686.4 397.9L687.8 396.8L688.3 394.6L685.3 392.6ZM603.0 404.4L603.8 402.9L599.6 402.4L600.3 404.5ZM741.9 401.3L743.2 405.3L746.6 404.8L746.5 401.7ZM509.6 412.1L506.6 413.7L506.7 414.6ZM744.0 412.1L748.0 412.8L748.3 410.2L743.6 410.8ZM597.8 421.7L600.6 422.7L601.9 421.4L601.5 420.3L597.9 419.0ZM673.7 421.5L673.5 418.6L670.8 417.4L670.0 418.1L669.8 419.9L671.3 422.7ZM820.6 420.0L822.6 421.5L822.8 418.5ZM665.8 424.2L661.9 426.0L662.6 427.3L667.1 426.8ZM797.2 436.3L795.3 433.0L793.6 433.7L791.6 437.2ZM528.6 452.7L531.7 451.6L531.6 450.8L527.9 451.2L527.3 452.1ZM628.1 447.8L625.6 450.4L626.1 452.6L628.2 451.8L629.1 448.6ZM654.8 451.5L653.4 451.1L653.2 451.8ZM748.2 456.3L744.4 457.4L744.3 457.5L748.4 458.5ZM699.6 465.7L697.5 463.5L696.8 464.0L696.5 465.6L698.4 466.6ZM804.6 464.7L800.5 465.1L804.2 466.5ZM578.5 476.1L578.8 472.8L578.3 472.5L576.7 474.0ZM764.9 475.2L765.7 472.7L761.5 472.3L761.4 472.6ZM744.8 481.1L740.8 480.3L742.1 484.5L745.1 482.1ZM627.0 497.0L628.8 496.1L628.0 494.4L625.9 495.3ZM714.8 494.2L713.3 496.2L714.5 499.5L717.9 495.7ZM772.8 506.8L775.5 505.0L775.3 503.6L772.6 504.3ZM543.2 521.0L544.9 519.9L545.0 516.6L541.8 517.1ZM597.5 521.5L598.6 521.6L596.6 520.5ZM651.6 523.5L650.8 521.4L650.1 521.8ZM606.3 527.1L609.7 529.8L609.7 529.8L609.5 526.5L608.3 525.4ZM816.1 529.2L815.2 525.5L812.9 526.3L813.3 530.2L814.1 530.7ZM650.7 542.9L651.9 544.2L653.9 543.6ZM660.5 544.9L662.2 547.9L664.0 545.3L660.8 543.3ZM760.1 543.6L757.8 542.6L758.4 544.4ZM805.6 546.1L807.1 542.5L804.6 541.1L803.6 544.0ZM720.6 547.8L719.3 546.9L716.1 549.6L716.3 550.8L718.7 551.8ZM792.5 551.1L794.0 553.7L794.5 553.5ZM817.4 551.5L818.5 550.0L817.3 549.6L816.9 550.5ZM603.8 560.5L605.2 557.0L601.3 558.3L602.3 560.8ZM782.1 560.7L781.6 559.4L778.4 558.4L778.1 563.1ZM796.6 559.0L796.7 558.5L795.3 559.5ZM522.6 566.3L526.1 569.9L527.8 568.4L527.4 565.5L524.7 565.0ZM583.4 567.4L585.8 567.0L585.9 566.2L582.1 564.8ZM612.8 566.2L614.4 564.9L614.3 564.4L611.2 564.7ZM709.8 564.7L707.1 566.0L707.9 568.2L711.4 569.3L710.7 565.2ZM609.9 575.8L610.7 575.2L610.4 572.9L607.2 574.2ZM615.0 579.8L612.5 580.7L611.5 584.3L613.1 585.6L616.3 583.8ZM767.6 584.3L769.9 583.6L769.2 582.0L766.7 581.0L766.0 581.5ZM808.0 584.8L810.5 583.6L809.5 580.2L805.9 580.5ZM714.5 587.6L715.8 587.6L715.5 586.9Z"/>
</g>
<ellipse cx="786" cy="290" rx="9" ry="9" fill="#3a3a3a" fill-opacity="0.75" filter="url(#semBlur2)"/>
<circle cx="626.2" cy="322.0" r="23.3" fill="#101010" fill-opacity="0.7" filter="url(#semBlur)"/>
<circle cx="627.2" cy="320.0" r="20.8" fill="url(#sph)" filter="url(#semBlur)"/>
<circle cx="519.4" cy="388.6" r="19.0" fill="#101010" fill-opacity="0.7" filter="url(#semBlur)"/>
<circle cx="520.4" cy="386.6" r="16.5" fill="url(#sph)" filter="url(#semBlur)"/>
<circle cx="569.2" cy="549" r="19.2" fill="#101010" fill-opacity="0.7" filter="url(#semBlur)"/>
<circle cx="570.2" cy="547" r="16.7" fill="url(#sph)" filter="url(#semBlur)"/>
<circle cx="639.9" cy="338.3" r="5.5" fill="url(#sphS)" filter="url(#semBlur)"/>
<circle cx="587.1" cy="328.9" r="7.5" fill="url(#sphG)" filter="url(#semBlur)"/>
<circle cx="710.3" cy="309.4" r="6" fill="url(#sphS)" filter="url(#semBlur)"/>
<circle cx="623.6" cy="406" r="6" fill="url(#sphS)" filter="url(#semBlur)"/>
<g filter="url(#semBlur)" fill="#e2e2e2">
<circle cx="546.4" cy="279.5" r="2.4"/>
<circle cx="724" cy="271.7" r="2.2"/>
<circle cx="586" cy="439.5" r="2.4"/>
<circle cx="656" cy="443" r="2.2"/>
<circle cx="682" cy="452.5" r="3"/>
<circle cx="754.5" cy="345.4" r="3"/>
<circle cx="718.5" cy="346.3" r="3"/>
<circle cx="766.7" cy="404" r="3"/>
<circle cx="712" cy="403" r="2.2"/>
<circle cx="775" cy="445" r="3"/>
<circle cx="789" cy="485.5" r="3"/>
<circle cx="735" cy="436.5" r="2.2"/>
<circle cx="589" cy="573" r="3"/>
<circle cx="638" cy="428" r="2.2"/>
<circle cx="553" cy="506" r="3"/>
<circle cx="541" cy="439.5" r="2.2"/>
<circle cx="811" cy="435.6" r="2.2"/>
</g>
</g>
<rect x="729.7" y="545" width="93" height="42.5" fill="#fff"/>
<rect x="738.4" y="577.5" width="75.8" height="3" fill="#000"/>
<text x="750.3" y="572.6" font-size="22.4" fill="#000" stroke="#000" stroke-width="0.3" font-family="Liberation Sans, Arial, sans-serif">1 <tspan font-family="Liberation Serif, DejaVu Serif, serif" font-size="23">μ</tspan>m</text>
<text transform="translate(490.0 616.6) scale(1.126 1)" font-size="32.5" fill="#000" stroke="#000" stroke-width="0.35" font-family="Liberation Sans, Arial, sans-serif">MoS<tspan font-size="24" dy="7">3</tspan><tspan dy="-7" dx="4">/np-Mo//WO</tspan><tspan font-size="24" dy="7" dx="1">3-y</tspan></text>
<rect x="899.0" y="35.0" width="368.5" height="276.5" fill="#fff" stroke="#2e2e2e" stroke-width="1.5"/>
<path d="M899.0 311.0h-5.2M899.0 285.9h-3.0M899.0 260.8h-5.2M899.0 235.7h-3.0M899.0 210.6h-5.2M899.0 185.4h-3.0M899.0 160.3h-5.2M899.0 135.2h-3.0M899.0 110.1h-5.2M899.0 85.0h-3.0M899.0 59.9h-5.2M899.1 311.5v3.0M940.0 311.5v5.2M980.9 311.5v3.0M1021.9 311.5v5.2M1062.8 311.5v3.0M1103.8 311.5v5.2M1144.7 311.5v3.0M1185.6 311.5v5.2M1226.6 311.5v3.0M1267.5 311.5v5.2" stroke="#2e2e2e" stroke-width="1.5" fill="none"/>
<text x="888.0" y="318.6" font-size="24.8" text-anchor="end" fill="#000" stroke="#000" stroke-width="0.28" textLength="36.0" lengthAdjust="spacingAndGlyphs" font-family="Liberation Sans, Arial, sans-serif">-10</text>
<text x="888.0" y="268.38" font-size="24.8" text-anchor="end" fill="#000" stroke="#000" stroke-width="0.28" textLength="21.8" lengthAdjust="spacingAndGlyphs" font-family="Liberation Sans, Arial, sans-serif">-8</text>
<text x="888.0" y="218.16" font-size="24.8" text-anchor="end" fill="#000" stroke="#000" stroke-width="0.28" textLength="21.8" lengthAdjust="spacingAndGlyphs" font-family="Liberation Sans, Arial, sans-serif">-6</text>
<text x="888.0" y="167.94" font-size="24.8" text-anchor="end" fill="#000" stroke="#000" stroke-width="0.28" textLength="21.8" lengthAdjust="spacingAndGlyphs" font-family="Liberation Sans, Arial, sans-serif">-4</text>
<text x="888.0" y="117.72" font-size="24.8" text-anchor="end" fill="#000" stroke="#000" stroke-width="0.28" textLength="21.8" lengthAdjust="spacingAndGlyphs" font-family="Liberation Sans, Arial, sans-serif">-2</text>
<text x="885.8" y="67.5" font-size="24.8" text-anchor="end" fill="#000" stroke="#000" stroke-width="0.28" textLength="13.6" lengthAdjust="spacingAndGlyphs" font-family="Liberation Sans, Arial, sans-serif">0</text>
<text x="912.1" y="339.6" font-size="25" text-anchor="start" fill="#000" stroke="#000" stroke-width="0.28" textLength="49.2" lengthAdjust="spacingAndGlyphs" font-family="Liberation Sans, Arial, sans-serif">-500</text>
<text x="993.9" y="339.6" font-size="25" text-anchor="start" fill="#000" stroke="#000" stroke-width="0.28" textLength="49.2" lengthAdjust="spacingAndGlyphs" font-family="Liberation Sans, Arial, sans-serif">-400</text>
<text x="1076.0" y="339.6" font-size="25" text-anchor="start" fill="#000" stroke="#000" stroke-width="0.28" textLength="49.2" lengthAdjust="spacingAndGlyphs" font-family="Liberation Sans, Arial, sans-serif">-300</text>
<text x="1159.1000000000001" y="339.6" font-size="25" text-anchor="start" fill="#000" stroke="#000" stroke-width="0.28" textLength="49.2" lengthAdjust="spacingAndGlyphs" font-family="Liberation Sans, Arial, sans-serif">-200</text>
<text x="1237.0" y="339.6" font-size="25" text-anchor="start" fill="#000" stroke="#000" stroke-width="0.28" textLength="49.2" lengthAdjust="spacingAndGlyphs" font-family="Liberation Sans, Arial, sans-serif">-100</text>
<text x="1026" y="376.1" font-size="23.4" text-anchor="start" fill="#000" stroke="#000" stroke-width="0.28" textLength="143.5" lengthAdjust="spacingAndGlyphs" font-family="Liberation Sans, Arial, sans-serif">Voltage (mV)</text>
<text transform="translate(855.7 284.5) rotate(-90)" font-size="23.4" fill="#000" stroke="#000" stroke-width="0.28" textLength="198" lengthAdjust="spacingAndGlyphs" font-family="Liberation Sans, Arial, sans-serif">Current (mA/cm<tspan font-size="15.5" dy="-10" dx="1.5">2</tspan><tspan dy="10" dx="1">)</tspan></text>
<clipPath id="cpA"><rect x="899.5" y="35.7" width="367.2" height="274.6"/></clipPath><g clip-path="url(#cpA)">
<path d="M948.3 311.0 L951.3 304.7 L954.3 298.5 L957.3 292.4 L960.3 286.4 L963.3 280.6 L966.3 275.0 L969.3 269.4 L972.3 264.0 L975.3 258.6 L978.3 253.4 L981.3 248.3 L984.3 243.2 L987.3 238.3 L990.3 233.5 L993.3 228.8 L996.3 224.1 L999.3 219.4 L1002.3 214.8 L1005.3 210.2 L1008.3 205.7 L1011.3 201.2 L1014.3 196.8 L1017.3 192.4 L1020.3 188.1 L1023.3 183.8 L1026.3 179.5 L1029.3 175.4 L1032.3 171.2 L1035.3 167.1 L1038.3 163.1 L1041.3 159.1 L1044.3 155.2 L1047.3 151.4 L1050.3 147.5 L1053.3 143.7 L1056.3 139.8 L1059.3 136.0 L1062.3 132.2 L1065.3 128.6 L1068.3 125.3 L1071.3 122.0 L1074.3 118.6 L1077.3 115.2 L1080.3 111.9 L1083.3 108.6 L1086.3 105.4 L1089.3 102.3 L1092.3 99.3 L1095.3 96.3 L1098.3 93.4 L1101.3 90.6 L1104.3 88.1 L1107.3 85.7 L1110.3 83.6 L1113.3 81.5 L1116.3 79.6 L1119.3 77.7 L1122.3 76.0 L1125.3 74.3 L1128.3 72.8 L1131.3 71.2 L1134.3 69.8 L1137.3 68.3 L1140.3 66.9 L1143.3 65.6 L1146.3 64.5 L1149.3 63.5 L1152.3 62.7 L1155.3 62.0 L1158.3 61.4 L1161.3 60.8 L1164.3 60.3 L1167.3 59.8 L1170.3 59.4 L1173.3 59.1 L1176.3 58.9 L1179.3 58.7 L1182.3 58.5 L1185.3 58.3 L1188.3 58.2 L1191.3 58.1 L1194.3 57.9 L1197.3 57.8 L1200.3 57.8 L1203.3 57.7 L1206.3 57.6 L1209.3 57.6 L1212.3 57.5 L1215.3 57.4 L1218.3 57.3 L1221.3 57.2 L1224.3 57.0 L1227.3 56.8 L1230.3 56.3 L1233.3 55.8 L1236.3 55.3 L1239.3 55.1 L1242.3 55.0 L1245.3 54.9 L1248.3 54.9 L1251.3 54.8 L1254.3 54.7 L1257.3 54.7 L1260.3 54.6 L1263.3 54.6 L1266.3 54.6 L1267.0 54.6" fill="none" stroke="#ffff00" stroke-width="2.6" stroke-linejoin="round" stroke-linecap="butt"/>
<path d="M935.5 236.6 L938.5 231.7 L941.5 226.8 L944.5 222.2 L947.5 217.6 L950.5 213.1 L953.5 208.7 L956.5 204.4 L959.5 200.3 L962.5 196.3 L965.5 192.6 L968.5 189.0 L971.5 185.6 L974.5 182.2 L977.5 178.9 L980.5 175.7 L983.5 172.4 L986.5 169.2 L989.5 166.0 L992.5 162.8 L995.5 159.7 L998.5 156.5 L1001.5 153.4 L1004.5 150.1 L1007.5 146.9 L1010.5 143.7 L1013.5 140.5 L1016.5 137.4 L1019.5 134.4 L1022.5 131.3 L1025.5 128.3 L1028.5 125.4 L1031.5 122.5 L1034.5 119.6 L1037.5 116.8 L1040.5 114.1 L1043.5 111.6 L1046.5 109.3 L1049.5 107.2 L1052.5 105.0 L1055.5 102.8 L1058.5 100.5 L1061.5 98.2 L1064.5 95.9 L1067.5 93.6 L1070.5 91.3 L1073.5 89.0 L1076.5 86.7 L1079.5 84.3 L1082.5 82.1 L1085.5 80.0 L1088.5 78.2 L1091.5 76.5 L1094.5 74.8 L1097.5 73.2 L1100.5 71.7 L1103.5 70.4 L1106.5 69.1 L1109.5 67.9 L1112.5 66.7 L1115.5 65.6 L1118.5 64.6 L1121.5 63.6 L1124.5 62.7 L1127.5 62.0 L1130.5 61.4 L1133.5 60.8 L1136.5 60.3 L1139.5 59.9 L1142.5 59.5 L1145.5 59.1 L1148.5 58.8 L1151.5 58.5 L1154.5 58.3 L1157.5 58.0 L1160.5 57.8 L1163.5 57.6 L1166.5 57.5 L1169.5 57.3 L1172.5 57.2 L1175.5 57.1 L1178.5 57.0 L1181.5 56.9 L1184.5 56.9 L1187.5 56.8 L1190.5 56.7 L1193.5 56.7 L1196.5 56.6 L1199.5 56.6 L1202.5 56.6 L1205.5 56.5 L1208.5 56.5 L1211.5 56.5 L1214.5 56.5 L1217.5 56.4 L1220.5 56.4 L1223.5 56.4 L1226.5 56.4 L1229.5 56.3 L1232.5 56.3 L1235.5 56.3 L1238.5 56.3 L1241.5 56.3 L1244.5 56.3 L1247.5 56.2 L1250.5 56.2 L1253.5 56.2 L1256.5 56.2 L1259.5 56.2 L1262.5 56.2 L1265.5 56.2 L1267.0 56.2" fill="none" stroke="#000000" stroke-width="2.6" stroke-linejoin="round" stroke-linecap="butt"/>
<path d="M935.5 75.9 L938.5 75.1 L941.5 74.3 L944.5 73.6 L947.5 72.8 L950.5 72.1 L953.5 71.4 L956.5 70.7 L959.5 70.0 L962.5 69.4 L965.5 68.8 L968.5 68.2 L971.5 67.6 L974.5 67.0 L977.5 66.5 L980.5 65.9 L983.5 65.4 L986.5 64.9 L989.5 64.4 L992.5 63.9 L995.5 63.4 L998.5 62.9 L1001.5 62.5 L1004.5 62.0 L1007.5 61.5 L1010.5 61.1 L1013.5 60.7 L1016.5 60.3 L1019.5 60.0 L1022.5 59.7 L1025.5 59.5 L1028.5 59.3 L1031.5 59.1 L1034.5 58.9 L1037.5 58.7 L1040.5 58.5 L1043.5 58.3 L1046.5 58.1 L1049.5 57.9 L1052.5 57.8 L1055.5 57.6 L1058.5 57.5 L1061.5 57.3 L1064.5 57.2 L1067.5 57.1 L1070.5 57.0 L1073.5 57.0 L1076.5 56.9 L1079.5 56.9 L1082.5 56.9 L1085.5 56.8 L1088.5 56.8 L1091.5 56.8 L1094.5 56.8 L1097.5 56.8 L1100.5 56.7 L1103.5 56.7 L1106.5 56.7 L1109.5 56.7 L1112.5 56.7 L1115.5 56.7 L1118.5 56.7 L1121.5 56.7 L1124.5 56.7 L1127.5 56.7 L1130.5 56.7 L1133.5 56.6 L1136.5 56.6 L1139.5 56.6 L1142.5 56.6 L1145.5 56.6 L1148.5 56.6 L1151.5 56.6 L1154.5 56.6 L1157.5 56.6 L1160.5 56.6 L1163.5 56.6 L1166.5 56.6 L1169.5 56.6 L1172.5 56.6 L1175.5 56.6 L1178.5 56.5 L1181.5 56.5 L1184.5 56.5 L1187.5 56.5 L1190.5 56.5 L1193.5 56.5 L1196.5 56.5 L1199.5 56.5 L1202.5 56.5 L1205.5 56.5 L1208.5 56.5 L1211.5 56.4 L1214.5 56.4 L1217.5 56.4 L1220.5 56.4 L1223.5 56.4 L1226.5 56.4 L1229.5 56.4 L1232.5 56.4 L1235.5 56.3 L1238.5 56.3 L1241.5 56.3 L1244.5 56.3 L1247.5 56.3 L1250.5 56.3 L1253.5 56.3 L1256.5 56.3 L1259.5 56.2 L1262.5 56.2 L1265.5 56.2 L1267.0 56.2" fill="none" stroke="#00ffff" stroke-width="2.6" stroke-linejoin="round" stroke-linecap="butt"/>
<path d="M935.5 59.3 L938.5 59.1 L941.5 59.0 L944.5 58.8 L947.5 58.7 L950.5 58.5 L953.5 58.4 L956.5 58.3 L959.5 58.1 L962.5 58.0 L965.5 57.9 L968.5 57.8 L971.5 57.7 L974.5 57.6 L977.5 57.5 L980.5 57.4 L983.5 57.3 L986.5 57.3 L989.5 57.2 L992.5 57.1 L995.5 57.1 L998.5 57.0 L1001.5 56.9 L1004.5 56.9 L1007.5 56.8 L1010.5 56.8 L1013.5 56.7 L1016.5 56.7 L1019.5 56.6 L1022.5 56.6 L1025.5 56.5 L1028.5 56.5 L1031.5 56.5 L1034.5 56.5 L1037.5 56.4 L1040.5 56.4 L1043.5 56.4 L1046.5 56.4 L1049.5 56.4 L1052.5 56.3 L1055.5 56.3 L1058.5 56.3 L1061.5 56.3 L1064.5 56.3 L1067.5 56.3 L1070.5 56.3 L1073.5 56.2 L1076.5 56.2 L1079.5 56.2 L1082.5 56.2 L1085.5 56.1 L1088.5 56.1 L1091.5 56.1 L1094.5 56.0 L1097.5 55.9 L1100.5 55.8 L1103.5 55.7 L1106.5 55.5 L1109.5 55.4 L1112.5 55.3 L1115.5 55.2 L1118.5 55.2 L1121.5 55.2 L1124.5 55.2 L1127.5 55.2 L1130.5 55.2 L1133.5 55.2 L1136.5 55.2 L1139.5 55.2 L1142.5 55.2 L1145.5 55.2 L1148.5 55.2 L1151.5 55.2 L1154.5 55.3 L1157.5 55.4 L1160.5 55.5 L1163.5 55.6 L1166.5 55.8 L1169.5 55.9 L1172.5 56.0 L1175.5 56.0 L1178.5 56.0 L1181.5 56.0 L1184.5 56.0 L1187.5 56.0 L1190.5 56.0 L1193.5 56.0 L1196.5 56.0 L1199.5 56.0 L1202.5 56.0 L1205.5 56.0 L1208.5 56.0 L1211.5 56.0 L1214.5 56.0 L1217.5 56.0 L1220.5 56.0 L1223.5 56.0 L1226.5 56.0 L1229.5 56.0 L1232.5 56.0 L1235.5 56.0 L1238.5 56.0 L1241.5 56.0 L1244.5 56.0 L1247.5 56.0 L1250.5 56.0 L1253.5 56.0 L1256.5 56.0 L1259.5 56.0 L1262.5 56.0 L1265.5 56.0 L1267.0 56.0" fill="none" stroke="#ff0000" stroke-width="2.8" stroke-linejoin="round" stroke-linecap="butt"/>
</g>
<path d="M1031.9 190.8H1061.4" stroke="#ff0000" stroke-width="2.2"/>
<path d="M1035 218.7H1064.6" stroke="#00ffff" stroke-width="2.2"/>
<path d="M1037.7 247.9H1067.7" stroke="#000" stroke-width="2.2"/>
<path d="M1033.9 276.8H1063.9" stroke="#ffff00" stroke-width="2.2"/>
<text x="1069" y="196" font-size="19.8" text-anchor="start" fill="#000" stroke="#000" stroke-width="0.28" textLength="42" lengthAdjust="spacingAndGlyphs" font-family="Liberation Sans, Arial, sans-serif">FTO</text>
<text x="1074.3" y="222.3" font-size="19.8" fill="#000" stroke="#000" stroke-width="0.25" font-family="Liberation Sans, Arial, sans-serif"><tspan textLength="35.5" lengthAdjust="spacingAndGlyphs">WO</tspan><tspan font-size="10.5" dy="8.3" textLength="16" lengthAdjust="spacingAndGlyphs">3-y</tspan></text>
<text x="1076.6" y="254.1" font-size="19.8" fill="#000" stroke="#000" stroke-width="0.25" font-family="Liberation Sans, Arial, sans-serif"><tspan textLength="43.5" lengthAdjust="spacingAndGlyphs">MoS</tspan><tspan font-size="10.5" dy="8" textLength="6" lengthAdjust="spacingAndGlyphs">3</tspan><tspan dy="-8" textLength="65" lengthAdjust="spacingAndGlyphs">/np-Mo</tspan></text>
<text x="1072" y="283.2" font-size="19.8" fill="#000" stroke="#000" stroke-width="0.25" font-family="Liberation Sans, Arial, sans-serif"><tspan textLength="43.5" lengthAdjust="spacingAndGlyphs">MoS</tspan><tspan font-size="10.5" dy="8" textLength="6" lengthAdjust="spacingAndGlyphs">3</tspan><tspan dy="-8" textLength="116.5" lengthAdjust="spacingAndGlyphs">/np-Mo//WO</tspan><tspan font-size="10.5" dy="8" textLength="16" lengthAdjust="spacingAndGlyphs">3-y</tspan></text>
<rect x="911.0" y="454.6" width="358.8" height="266.8" fill="#fff" stroke="#2e2e2e" stroke-width="1.5"/>
<path d="M911.0 721.4h-5.2M911.0 704.7h-3.4M911.0 688.0h-3.4M911.0 671.4h-3.4M911.0 654.7h-5.2M911.0 638.0h-3.4M911.0 621.4h-3.4M911.0 604.7h-3.4M911.0 588.0h-5.2M911.0 571.3h-3.4M911.0 554.6h-3.4M911.0 538.0h-3.4M911.0 521.3h-5.2M911.0 504.6h-3.4M911.0 488.0h-3.4M911.0 471.3h-3.4M911.0 454.6h-5.2M911.0 721.4v5.2M955.9 721.4v3.2M1000.7 721.4v5.2M1045.5 721.4v3.2M1090.4 721.4v5.2M1135.2 721.4v3.2M1180.1 721.4v5.2M1225.0 721.4v3.2M1269.8 721.4v5.2" stroke="#2e2e2e" stroke-width="1.5" fill="none"/>
<text x="901.8" y="464.20000000000005" font-size="24" text-anchor="end" fill="#000" stroke="#000" stroke-width="0.28" textLength="13.2" lengthAdjust="spacingAndGlyphs" font-family="Liberation Sans, Arial, sans-serif">0</text>
<text x="903.6" y="528.1" font-size="24" text-anchor="end" fill="#000" stroke="#000" stroke-width="0.28" textLength="33.6" lengthAdjust="spacingAndGlyphs" font-family="Liberation Sans, Arial, sans-serif">-20</text>
<text x="903.6" y="594.8" font-size="24" text-anchor="end" fill="#000" stroke="#000" stroke-width="0.28" textLength="33.6" lengthAdjust="spacingAndGlyphs" font-family="Liberation Sans, Arial, sans-serif">-40</text>
<text x="903.6" y="661.2" font-size="24" text-anchor="end" fill="#000" stroke="#000" stroke-width="0.28" textLength="33.6" lengthAdjust="spacingAndGlyphs" font-family="Liberation Sans, Arial, sans-serif">-60</text>
<text x="903.6" y="726.3000000000001" font-size="24" text-anchor="end" fill="#000" stroke="#000" stroke-width="0.28" textLength="33.6" lengthAdjust="spacingAndGlyphs" font-family="Liberation Sans, Arial, sans-serif">-80</text>
<text x="909.4" y="749.4" font-size="24" text-anchor="middle" fill="#000" stroke="#000" stroke-width="0.28" textLength="38.6" lengthAdjust="spacingAndGlyphs" font-family="Liberation Sans, Arial, sans-serif">100</text>
<text x="999.1" y="749.4" font-size="24" text-anchor="middle" fill="#000" stroke="#000" stroke-width="0.28" textLength="38.6" lengthAdjust="spacingAndGlyphs" font-family="Liberation Sans, Arial, sans-serif">200</text>
<text x="1088.8000000000002" y="749.4" font-size="24" text-anchor="middle" fill="#000" stroke="#000" stroke-width="0.28" textLength="38.6" lengthAdjust="spacingAndGlyphs" font-family="Liberation Sans, Arial, sans-serif">300</text>
<text x="1178.5" y="749.4" font-size="24" text-anchor="middle" fill="#000" stroke="#000" stroke-width="0.28" textLength="38.6" lengthAdjust="spacingAndGlyphs" font-family="Liberation Sans, Arial, sans-serif">400</text>
<text x="1268.2" y="749.4" font-size="24" text-anchor="middle" fill="#000" stroke="#000" stroke-width="0.28" textLength="38.6" lengthAdjust="spacingAndGlyphs" font-family="Liberation Sans, Arial, sans-serif">500</text>
<text x="1053.3" y="775.6" font-size="23.2" text-anchor="start" fill="#000" stroke="#000" stroke-width="0.28" font-family="Liberation Sans, Arial, sans-serif">Time (s)</text>
<text transform="translate(857.1 680) rotate(-90)" font-size="23.6" fill="#000" stroke="#000" stroke-width="0.28" textLength="187.5" lengthAdjust="spacingAndGlyphs" font-family="Liberation Sans, Arial, sans-serif">Current (<tspan font-family="Liberation Serif, DejaVu Serif, serif" font-size="24">μ</tspan>A/cm<tspan font-size="15.5" dy="-10" dx="1.5">2</tspan><tspan dy="10" dx="1">)</tspan></text>
<clipPath id="cpB"><rect x="911.7" y="455.3" width="357.4" height="265.4"/></clipPath><g clip-path="url(#cpB)">
<path d="M911.0 463.4 L921.0 463.4 L921.2 463.9 L921.8 464.8 L922.2 465.8 L922.8 466.8 L923.2 467.7 L923.8 468.7 L924.2 469.8 L924.8 470.9 L925.2 472.0 L925.8 473.0 L926.2 473.8 L926.8 474.6 L927.0 475.0 L928.0 476.3 L929.0 477.4 L930.0 478.3 L931.0 479.0 L932.0 479.6 L933.0 480.1 L934.0 480.6 L935.0 480.9 L936.0 481.1 L937.0 481.4 L938.0 481.6 L939.0 481.7 L940.0 481.9 L941.0 482.0 L942.0 482.1 L943.0 482.2 L944.0 482.3 L945.0 482.4 L946.0 482.5 L947.0 482.6 L948.0 482.6 L949.0 482.7 L950.0 482.8 L951.0 482.8 L952.0 482.9 L953.0 482.9 L954.0 483.0 L955.0 483.1 L956.0 483.1 L957.0 483.2 L958.0 483.2 L959.0 483.3 L960.0 483.3 L961.0 483.4 L962.0 483.4 L963.0 483.5 L964.0 483.5 L965.0 483.5 L966.0 483.5 L966.3 483.5 L966.3 483.5 L966.5 481.7 L967.0 478.8 L967.5 477.0 L968.0 475.7 L968.5 474.7 L969.0 473.9 L969.5 473.3 L970.0 472.7 L970.5 472.2 L971.0 471.8 L971.5 471.4 L972.0 471.1 L972.3 470.9 L973.3 470.4 L974.3 469.8 L975.3 469.4 L976.3 469.0 L977.3 468.6 L978.3 468.3 L979.3 468.0 L980.3 467.7 L981.3 467.4 L982.3 467.1 L983.3 466.9 L984.3 466.7 L985.3 466.5 L986.3 466.3 L987.3 466.1 L988.3 466.0 L989.3 465.8 L990.3 465.7 L991.3 465.5 L992.3 465.4 L993.3 465.3 L994.3 465.2 L995.3 465.0 L996.3 464.9 L997.3 464.8 L998.3 464.7 L999.3 464.6 L1000.3 464.5 L1001.3 464.4 L1002.3 464.3 L1003.3 464.2 L1004.3 464.1 L1005.3 464.0 L1006.3 463.9 L1007.3 463.8 L1008.3 463.8 L1009.3 463.7 L1010.3 463.7 L1011.3 463.6 L1012.3 463.6 L1013.3 463.6 L1014.3 463.5 L1015.3 463.5 L1016.3 463.5 L1017.3 463.4 L1018.3 463.4 L1019.3 463.4 L1020.3 463.4 L1020.6 463.4 L1020.6 463.4 L1020.9 463.9 L1021.4 464.8 L1021.9 465.8 L1022.4 466.8 L1022.9 467.7 L1023.4 468.7 L1023.9 469.8 L1024.3 470.9 L1024.8 472.0 L1025.3 473.0 L1025.8 473.8 L1026.3 474.6 L1026.6 475.0 L1027.6 476.3 L1028.6 477.4 L1029.6 478.3 L1030.6 479.0 L1031.6 479.6 L1032.6 480.1 L1033.6 480.6 L1034.6 480.9 L1035.6 481.1 L1036.6 481.4 L1037.6 481.6 L1038.6 481.7 L1039.6 481.9 L1040.6 482.0 L1041.6 482.1 L1042.6 482.2 L1043.6 482.3 L1044.6 482.4 L1045.6 482.5 L1046.6 482.6 L1047.6 482.6 L1048.6 482.7 L1049.6 482.8 L1050.6 482.8 L1051.6 482.9 L1052.6 482.9 L1053.6 483.0 L1054.6 483.1 L1055.6 483.1 L1056.6 483.2 L1057.6 483.2 L1058.6 483.3 L1059.6 483.3 L1060.6 483.4 L1061.6 483.4 L1062.6 483.5 L1063.6 483.5 L1064.6 483.5 L1065.6 483.5 L1066.6 483.5 L1067.6 483.5 L1067.6 483.5 L1067.8 481.7 L1068.3 478.8 L1068.8 477.0 L1069.3 475.7 L1069.8 474.7 L1070.3 473.9 L1070.8 473.3 L1071.3 472.7 L1071.8 472.2 L1072.3 471.8 L1072.8 471.4 L1073.3 471.1 L1073.6 470.9 L1074.6 470.4 L1075.6 469.8 L1076.6 469.4 L1077.6 469.0 L1078.6 468.6 L1079.6 468.3 L1080.6 468.0 L1081.6 467.7 L1082.6 467.4 L1083.6 467.1 L1084.6 466.9 L1085.6 466.7 L1086.6 466.5 L1087.6 466.3 L1088.6 466.1 L1089.6 466.0 L1090.6 465.8 L1091.6 465.7 L1092.6 465.5 L1093.6 465.4 L1094.6 465.3 L1095.6 465.2 L1096.6 465.0 L1097.6 464.9 L1098.6 464.8 L1099.6 464.7 L1100.6 464.6 L1101.6 464.5 L1102.6 464.4 L1103.6 464.3 L1104.6 464.2 L1105.6 464.1 L1106.6 464.0 L1107.6 463.9 L1108.6 463.8 L1109.6 463.8 L1110.6 463.7 L1111.6 463.7 L1112.6 463.6 L1113.6 463.6 L1114.6 463.6 L1115.6 463.5 L1116.6 463.5 L1117.6 463.5 L1118.6 463.4 L1119.6 463.4 L1120.6 463.4 L1121.0 463.4 L1121.0 463.4 L1121.2 463.9 L1121.8 464.8 L1122.2 465.8 L1122.8 466.8 L1123.2 467.7 L1123.8 468.7 L1124.2 469.8 L1124.8 470.9 L1125.2 472.0 L1125.8 473.0 L1126.2 473.8 L1126.8 474.6 L1127.0 475.0 L1128.0 476.3 L1129.0 477.4 L1130.0 478.3 L1131.0 479.0 L1132.0 479.6 L1133.0 480.1 L1134.0 480.6 L1135.0 480.9 L1136.0 481.1 L1137.0 481.4 L1138.0 481.6 L1139.0 481.7 L1140.0 481.9 L1141.0 482.0 L1142.0 482.1 L1143.0 482.2 L1144.0 482.3 L1145.0 482.4 L1146.0 482.5 L1147.0 482.6 L1148.0 482.6 L1149.0 482.7 L1150.0 482.8 L1151.0 482.8 L1152.0 482.9 L1153.0 482.9 L1154.0 483.0 L1155.0 483.1 L1156.0 483.1 L1157.0 483.2 L1158.0 483.2 L1159.0 483.3 L1160.0 483.3 L1161.0 483.4 L1162.0 483.4 L1163.0 483.5 L1164.0 483.5 L1165.0 483.5 L1166.0 483.5 L1166.5 483.5 L1166.5 483.5 L1166.8 481.7 L1167.2 478.8 L1167.8 477.0 L1168.2 475.7 L1168.8 474.7 L1169.2 473.9 L1169.8 473.3 L1170.2 472.7 L1170.8 472.2 L1171.2 471.8 L1171.8 471.4 L1172.2 471.1 L1172.5 470.9 L1173.5 470.4 L1174.5 469.8 L1175.5 469.4 L1176.5 469.0 L1177.5 468.6 L1178.5 468.3 L1179.5 468.0 L1180.5 467.7 L1181.5 467.4 L1182.5 467.1 L1183.5 466.9 L1184.5 466.7 L1185.5 466.5 L1186.5 466.3 L1187.5 466.1 L1188.5 466.0 L1189.5 465.8 L1190.5 465.7 L1191.5 465.5 L1192.5 465.4 L1193.5 465.3 L1194.5 465.2 L1195.5 465.0 L1196.5 464.9 L1197.5 464.8 L1198.5 464.7 L1199.5 464.6 L1200.5 464.5 L1201.5 464.4 L1202.5 464.3 L1203.5 464.2 L1204.5 464.1 L1205.5 464.0 L1206.5 463.9 L1207.5 463.8 L1208.5 463.8 L1209.5 463.7 L1210.5 463.7 L1211.5 463.6 L1212.5 463.6 L1213.5 463.6 L1214.5 463.5 L1215.5 463.5 L1216.5 463.5 L1217.5 463.4 L1218.5 463.4 L1219.5 463.4 L1220.5 463.4 L1221.5 463.4 L1222.5 463.4 L1223.5 463.4 L1224.5 463.4 L1225.5 463.4 L1226.5 463.4 L1227.5 463.4 L1228.5 463.4 L1229.5 463.4 L1230.5 463.4 L1231.5 463.4 L1232.5 463.4 L1233.5 463.4 L1234.5 463.4 L1235.5 463.4 L1236.5 463.4 L1237.5 463.4 L1238.5 463.4 L1239.5 463.4 L1240.5 463.4 L1241.5 463.4 L1242.5 463.4 L1243.5 463.4 L1244.5 463.4 L1245.5 463.4 L1246.5 463.4 L1247.5 463.4 L1248.5 463.4 L1249.5 463.4 L1250.5 463.4 L1251.5 463.4 L1252.5 463.4 L1253.5 463.4 L1254.5 463.4 L1255.5 463.4 L1256.5 463.4 L1257.5 463.4 L1258.5 463.4 L1259.5 463.4 L1260.5 463.4 L1261.5 463.4 L1262.5 463.4 L1263.5 463.4 L1264.5 463.4 L1265.5 463.4 L1266.5 463.4 L1267.5 463.4 L1268.5 463.4 L1269.5 463.4" fill="none" stroke="#14d2f5" stroke-width="1.9" stroke-linejoin="round" stroke-linecap="butt"/>
<path d="M911.0 514.8 L921.7 514.8 L922.0 517.8 L922.5 523.4 L923.0 527.9 L923.5 531.4 L924.0 534.5 L924.5 537.2 L925.0 539.5 L925.5 541.4 L926.0 543.2 L926.5 544.7 L927.0 546.2 L927.5 547.5 L927.7 548.1 L928.7 550.3 L929.7 552.3 L930.7 554.1 L931.7 555.8 L932.7 557.2 L933.7 558.5 L934.7 559.6 L935.7 560.5 L936.7 561.4 L937.7 562.3 L938.7 563.0 L939.7 563.6 L940.7 564.0 L941.7 564.4 L942.7 564.7 L943.7 565.0 L944.7 565.2 L945.7 565.5 L946.7 565.7 L947.7 565.8 L948.7 566.0 L949.7 566.1 L950.7 566.2 L951.7 566.3 L952.7 566.4 L953.7 566.5 L954.7 566.6 L955.7 566.7 L956.7 566.7 L957.7 566.7 L958.7 566.7 L959.7 566.7 L960.7 566.7 L961.7 566.7 L962.7 566.7 L963.7 566.7 L964.7 566.7 L965.7 566.7 L966.5 566.7 L966.5 566.7 L966.8 565.2 L967.2 562.4 L967.8 559.7 L968.2 557.1 L968.8 554.5 L969.2 552.0 L969.8 549.6 L970.2 547.6 L970.8 545.9 L971.2 544.4 L971.8 543.1 L972.2 541.8 L972.5 541.3 L973.5 539.2 L974.5 537.5 L975.5 536.0 L976.5 534.7 L977.5 533.6 L978.5 532.4 L979.5 531.3 L980.5 530.2 L981.5 529.2 L982.5 528.2 L983.5 527.2 L984.5 526.3 L985.5 525.5 L986.5 524.8 L987.5 524.0 L988.5 523.3 L989.5 522.7 L990.5 522.0 L991.5 521.5 L992.5 520.9 L993.5 520.5 L994.5 520.0 L995.5 519.6 L996.5 519.2 L997.5 518.8 L998.5 518.5 L999.5 518.1 L1000.5 517.8 L1001.5 517.5 L1002.5 517.3 L1003.5 517.1 L1004.5 516.9 L1005.5 516.7 L1006.5 516.5 L1007.5 516.3 L1008.5 516.2 L1009.5 516.0 L1010.5 515.9 L1011.5 515.8 L1012.5 515.6 L1013.5 515.5 L1014.5 515.4 L1015.5 515.3 L1016.5 515.2 L1017.5 515.1 L1018.5 515.0 L1019.5 514.9 L1020.5 514.9 L1021.5 514.8 L1022.3 514.8 L1022.3 514.8 L1022.5 517.8 L1023.0 523.4 L1023.5 527.9 L1024.0 531.4 L1024.5 534.5 L1025.0 537.2 L1025.5 539.5 L1026.0 541.4 L1026.5 543.2 L1027.0 544.7 L1027.5 546.2 L1028.0 547.5 L1028.3 548.1 L1029.3 550.3 L1030.3 552.3 L1031.3 554.1 L1032.3 555.8 L1033.3 557.2 L1034.3 558.5 L1035.3 559.6 L1036.3 560.5 L1037.3 561.4 L1038.3 562.3 L1039.3 563.0 L1040.3 563.6 L1041.3 564.0 L1042.3 564.4 L1043.3 564.7 L1044.3 565.0 L1045.3 565.2 L1046.3 565.5 L1047.3 565.7 L1048.3 565.8 L1049.3 566.0 L1050.3 566.1 L1051.3 566.2 L1052.3 566.3 L1053.3 566.4 L1054.3 566.5 L1055.3 566.6 L1056.3 566.7 L1057.3 566.7 L1058.3 566.7 L1059.3 566.7 L1060.3 566.7 L1061.3 566.7 L1062.3 566.7 L1063.3 566.7 L1064.3 566.7 L1065.3 566.7 L1066.3 566.7 L1067.3 566.7 L1068.3 566.7 L1068.3 566.7 L1068.5 565.2 L1069.0 562.4 L1069.5 559.7 L1070.0 557.1 L1070.5 554.5 L1071.0 552.0 L1071.5 549.6 L1072.0 547.6 L1072.5 545.9 L1073.0 544.4 L1073.5 543.1 L1074.0 541.8 L1074.3 541.3 L1075.3 539.2 L1076.3 537.5 L1077.3 536.0 L1078.3 534.7 L1079.3 533.6 L1080.3 532.4 L1081.3 531.3 L1082.3 530.2 L1083.3 529.2 L1084.3 528.2 L1085.3 527.2 L1086.3 526.3 L1087.3 525.5 L1088.3 524.8 L1089.3 524.0 L1090.3 523.3 L1091.3 522.7 L1092.3 522.0 L1093.3 521.5 L1094.3 520.9 L1095.3 520.5 L1096.3 520.0 L1097.3 519.6 L1098.3 519.2 L1099.3 518.8 L1100.3 518.5 L1101.3 518.1 L1102.3 517.8 L1103.3 517.5 L1104.3 517.3 L1105.3 517.1 L1106.3 516.9 L1107.3 516.7 L1108.3 516.5 L1109.3 516.3 L1110.3 516.2 L1111.3 516.0 L1112.3 515.9 L1113.3 515.8 L1114.3 515.6 L1115.3 515.5 L1116.3 515.4 L1117.3 515.3 L1118.3 515.2 L1119.3 515.1 L1120.3 515.0 L1121.3 514.9 L1122.3 514.9 L1123.3 514.8 L1123.9 514.8 L1123.9 514.8 L1124.2 517.8 L1124.7 523.4 L1125.2 527.9 L1125.7 531.4 L1126.2 534.5 L1126.7 537.2 L1127.2 539.5 L1127.7 541.5 L1128.2 543.2 L1128.7 544.7 L1129.2 546.2 L1129.7 547.5 L1129.9 548.1 L1130.9 550.3 L1131.9 552.3 L1132.9 554.1 L1133.9 555.8 L1134.9 557.2 L1135.9 558.5 L1136.9 559.6 L1137.9 560.5 L1138.9 561.4 L1139.9 562.3 L1140.9 563.0 L1141.9 563.6 L1142.9 564.0 L1143.9 564.4 L1144.9 564.7 L1145.9 565.0 L1146.9 565.2 L1147.9 565.5 L1148.9 565.7 L1149.9 565.8 L1150.9 566.0 L1151.9 566.1 L1152.9 566.2 L1153.9 566.3 L1154.9 566.4 L1155.9 566.5 L1156.9 566.6 L1157.9 566.7 L1158.9 566.7 L1159.9 566.7 L1160.9 566.7 L1161.9 566.7 L1162.9 566.7 L1163.9 566.7 L1164.9 566.7 L1165.9 566.7 L1166.9 566.7 L1167.9 566.7 L1168.3 566.7 L1168.3 566.7 L1168.5 565.2 L1169.0 562.2 L1169.5 559.3 L1170.0 556.6 L1170.5 553.9 L1171.0 551.3 L1171.5 548.8 L1172.0 546.6 L1172.5 544.9 L1173.0 543.3 L1173.5 541.9 L1174.0 540.6 L1174.3 540.0 L1175.3 537.8 L1176.3 536.1 L1177.3 534.5 L1178.3 533.1 L1179.3 531.9 L1180.3 530.7 L1181.3 529.5 L1182.3 528.4 L1183.3 527.3 L1184.3 526.2 L1185.3 525.2 L1186.3 524.3 L1187.3 523.5 L1188.3 522.7 L1189.3 521.9 L1190.3 521.2 L1191.3 520.5 L1192.3 519.8 L1193.3 519.2 L1194.3 518.6 L1195.3 518.1 L1196.3 517.7 L1197.3 517.2 L1198.3 516.8 L1199.3 516.4 L1200.3 516.0 L1201.3 515.7 L1202.3 515.4 L1203.3 515.1 L1204.3 514.8 L1205.3 514.6 L1206.3 514.4 L1207.3 514.2 L1208.3 514.0 L1209.3 513.8 L1210.3 513.6 L1211.3 513.5 L1212.3 513.3 L1213.3 513.2 L1214.3 513.1 L1215.3 513.0 L1216.3 512.8 L1217.3 512.7 L1218.3 512.6 L1219.3 512.5 L1220.3 512.4 L1221.3 512.3 L1222.3 512.3 L1223.3 512.2 L1224.3 512.2 L1225.3 512.2 L1226.3 512.2 L1227.3 512.2 L1228.3 512.2 L1229.3 512.2 L1230.3 512.2 L1231.3 512.2 L1232.3 512.2 L1233.3 512.2 L1234.3 512.2 L1235.3 512.2 L1236.3 512.2 L1237.3 512.2 L1238.3 512.2 L1239.3 512.2 L1240.3 512.2 L1241.3 512.2 L1242.3 512.2 L1243.3 512.2 L1244.3 512.2 L1245.3 512.2 L1246.3 512.2 L1247.3 512.2 L1248.3 512.2 L1249.3 512.2 L1250.3 512.2 L1251.3 512.2 L1252.3 512.2 L1253.3 512.2 L1254.3 512.2 L1255.3 512.2 L1256.3 512.2 L1257.3 512.2 L1258.3 512.2 L1259.3 512.2 L1260.3 512.2 L1261.3 512.2 L1262.3 512.2 L1263.3 512.2 L1264.3 512.2 L1265.3 512.2 L1266.3 512.2 L1267.3 512.2 L1268.3 512.2 L1269.3 512.2 L1269.5 512.2" fill="none" stroke="#000" stroke-width="1.9" stroke-linejoin="round" stroke-linecap="butt"/>
<path d="M911.0 587.9 L926.3 587.9 L926.5 594.3 L927.0 606.3 L927.5 615.8 L928.0 622.7 L928.5 628.5 L929.0 633.6 L929.5 638.1 L930.0 642.3 L930.5 646.5 L931.0 650.5 L931.5 654.4 L932.0 658.0 L932.3 659.7 L933.3 665.7 L934.3 670.8 L935.3 675.3 L936.3 679.2 L937.3 682.4 L938.3 685.2 L939.3 687.8 L940.3 690.1 L941.3 692.1 L942.3 693.8 L943.3 695.2 L944.3 696.5 L945.3 697.7 L946.3 698.9 L947.3 699.8 L948.3 700.7 L949.3 701.4 L950.3 701.9 L951.3 702.3 L952.3 702.7 L953.3 703.1 L954.3 703.4 L955.3 703.7 L956.3 704.0 L957.3 704.2 L958.3 704.3 L959.3 704.4 L960.3 704.5 L961.3 704.6 L962.3 704.6 L963.3 704.7 L964.3 704.7 L965.3 704.8 L966.3 704.8 L967.3 704.9 L968.3 704.9 L969.3 704.9 L970.0 704.9 L970.0 704.9 L970.2 695.3 L970.8 677.2 L971.2 661.2 L971.8 655.6 L972.2 651.7 L972.8 648.9 L973.2 646.6 L973.8 644.3 L974.2 641.9 L974.8 639.7 L975.2 637.6 L975.8 635.7 L976.0 634.8 L977.0 631.5 L978.0 628.7 L979.0 626.1 L980.0 623.8 L981.0 621.7 L982.0 619.8 L983.0 617.9 L984.0 616.2 L985.0 614.4 L986.0 612.7 L987.0 611.1 L988.0 609.5 L989.0 607.9 L990.0 606.5 L991.0 605.1 L992.0 603.8 L993.0 602.6 L994.0 601.5 L995.0 600.4 L996.0 599.4 L997.0 598.5 L998.0 597.6 L999.0 596.7 L1000.0 595.9 L1001.0 595.1 L1002.0 594.4 L1003.0 593.7 L1004.0 593.1 L1005.0 592.5 L1006.0 592.0 L1007.0 591.5 L1008.0 591.0 L1009.0 590.6 L1010.0 590.2 L1011.0 589.8 L1012.0 589.5 L1013.0 589.2 L1014.0 589.0 L1015.0 588.7 L1016.0 588.5 L1017.0 588.4 L1018.0 588.3 L1019.0 588.2 L1020.0 588.1 L1021.0 588.0 L1022.0 588.0 L1023.0 587.9 L1024.0 587.9 L1024.6 587.9 L1024.6 587.9 L1024.8 594.3 L1025.3 606.3 L1025.8 615.8 L1026.3 622.7 L1026.8 628.5 L1027.3 633.6 L1027.8 638.1 L1028.3 642.3 L1028.8 646.5 L1029.3 650.5 L1029.8 654.4 L1030.3 658.0 L1030.6 659.7 L1031.6 665.7 L1032.6 670.8 L1033.6 675.3 L1034.6 679.2 L1035.6 682.4 L1036.6 685.2 L1037.6 687.8 L1038.6 690.1 L1039.6 692.1 L1040.6 693.8 L1041.6 695.2 L1042.6 696.5 L1043.6 697.7 L1044.6 698.9 L1045.6 699.8 L1046.6 700.7 L1047.6 701.4 L1048.6 701.9 L1049.6 702.3 L1050.6 702.7 L1051.6 703.1 L1052.6 703.4 L1053.6 703.7 L1054.6 704.0 L1055.6 704.2 L1056.6 704.3 L1057.6 704.4 L1058.6 704.5 L1059.6 704.6 L1060.6 704.6 L1061.6 704.7 L1062.6 704.7 L1063.6 704.8 L1064.6 704.8 L1065.6 704.9 L1066.6 704.9 L1067.6 704.9 L1068.6 704.9 L1069.6 704.9 L1070.1 704.9 L1070.1 704.9 L1070.3 695.3 L1070.8 677.2 L1071.3 661.2 L1071.8 655.6 L1072.3 651.7 L1072.8 648.9 L1073.3 646.6 L1073.8 644.3 L1074.3 641.9 L1074.8 639.7 L1075.3 637.6 L1075.8 635.7 L1076.1 634.8 L1077.1 631.5 L1078.1 628.7 L1079.1 626.1 L1080.1 623.8 L1081.1 621.7 L1082.1 619.8 L1083.1 617.9 L1084.1 616.2 L1085.1 614.4 L1086.1 612.7 L1087.1 611.1 L1088.1 609.5 L1089.1 607.9 L1090.1 606.5 L1091.1 605.1 L1092.1 603.8 L1093.1 602.6 L1094.1 601.5 L1095.1 600.4 L1096.1 599.4 L1097.1 598.5 L1098.1 597.6 L1099.1 596.7 L1100.1 595.9 L1101.1 595.1 L1102.1 594.4 L1103.1 593.8 L1104.1 593.1 L1105.1 592.5 L1106.1 592.0 L1107.1 591.5 L1108.1 591.0 L1109.1 590.6 L1110.1 590.2 L1111.1 589.8 L1112.1 589.5 L1113.1 589.2 L1114.1 589.0 L1115.1 588.7 L1116.1 588.5 L1117.1 588.4 L1118.1 588.3 L1119.1 588.2 L1120.1 588.1 L1121.1 588.0 L1122.1 588.0 L1123.1 587.9 L1123.9 587.9 L1123.9 587.9 L1124.2 594.3 L1124.7 606.3 L1125.2 615.8 L1125.7 622.7 L1126.2 628.5 L1126.7 633.6 L1127.2 638.1 L1127.7 642.3 L1128.2 646.5 L1128.7 650.5 L1129.2 654.4 L1129.7 658.0 L1129.9 659.7 L1130.9 665.7 L1131.9 670.8 L1132.9 675.3 L1133.9 679.2 L1134.9 682.4 L1135.9 685.2 L1136.9 687.8 L1137.9 690.1 L1138.9 692.1 L1139.9 693.8 L1140.9 695.2 L1141.9 696.5 L1142.9 697.7 L1143.9 698.9 L1144.9 699.8 L1145.9 700.7 L1146.9 701.4 L1147.9 701.9 L1148.9 702.3 L1149.9 702.7 L1150.9 703.1 L1151.9 703.4 L1152.9 703.7 L1153.9 704.0 L1154.9 704.2 L1155.9 704.3 L1156.9 704.4 L1157.9 704.5 L1158.9 704.6 L1159.9 704.6 L1160.9 704.7 L1161.9 704.7 L1162.9 704.8 L1163.9 704.8 L1164.9 704.9 L1165.9 704.9 L1166.9 704.9 L1167.9 704.9 L1168.3 704.9 L1168.3 704.9 L1168.5 695.3 L1169.0 677.2 L1169.5 661.2 L1170.0 655.6 L1170.5 651.7 L1171.0 648.9 L1171.5 646.6 L1172.0 644.3 L1172.5 641.9 L1173.0 639.7 L1173.5 637.6 L1174.0 635.7 L1174.3 634.8 L1175.3 631.5 L1176.3 628.7 L1177.3 626.1 L1178.3 623.8 L1179.3 621.7 L1180.3 619.8 L1181.3 617.9 L1182.3 616.2 L1183.3 614.4 L1184.3 612.7 L1185.3 611.1 L1186.3 609.5 L1187.3 607.9 L1188.3 606.5 L1189.3 605.1 L1190.3 603.8 L1191.3 602.6 L1192.3 601.5 L1193.3 600.4 L1194.3 599.4 L1195.3 598.5 L1196.3 597.6 L1197.3 596.7 L1198.3 595.9 L1199.3 595.1 L1200.3 594.4 L1201.3 593.8 L1202.3 593.1 L1203.3 592.5 L1204.3 592.0 L1205.3 591.5 L1206.3 591.0 L1207.3 590.6 L1208.3 590.2 L1209.3 589.8 L1210.3 589.5 L1211.3 589.2 L1212.3 589.0 L1213.3 588.7 L1214.3 588.5 L1215.3 588.4 L1216.3 588.3 L1217.3 588.2 L1218.3 588.1 L1219.3 588.0 L1220.3 588.0 L1221.3 587.9 L1222.3 587.9 L1223.3 587.9 L1224.3 587.9 L1225.3 587.9 L1226.3 587.9 L1227.3 587.9 L1228.3 587.9 L1229.3 587.9 L1230.3 587.9 L1231.3 587.9 L1232.3 587.9 L1233.3 587.9 L1234.3 587.9 L1235.3 587.9 L1236.3 587.9 L1237.3 587.9 L1238.3 587.9 L1239.3 587.9 L1240.3 587.9 L1241.3 587.9 L1242.3 587.9 L1243.3 587.9 L1244.3 587.9 L1245.3 587.9 L1246.3 587.9 L1247.3 587.9 L1248.3 587.9 L1249.3 587.9 L1250.3 587.9 L1251.3 587.9 L1252.3 587.9 L1253.3 587.9 L1254.3 587.9 L1255.3 587.9 L1256.3 587.9 L1257.3 587.9 L1258.3 587.9 L1259.3 587.9 L1260.3 587.9 L1260.5 587.9" fill="none" stroke="#ffd21c" stroke-width="1.9" stroke-linejoin="round" stroke-linecap="butt"/>
</g>
<path d="M920.5 442.6V430.1" stroke="#000" stroke-width="1.7" fill="none"/><path d="M916.0 430.1L920.5 420.1L925.0 430.1Z" fill="#000"/>
<path d="M965.3 420.1V435.2" stroke="#000" stroke-width="1.7" fill="none"/><path d="M960.8 435.2L965.3 445.2L969.8 435.2Z" fill="#000"/>
<path d="M1020.4 444.6V432.5" stroke="#000" stroke-width="1.7" fill="none"/><path d="M1015.9 432.5L1020.4 422.5L1024.9 432.5Z" fill="#000"/>
<path d="M1066.6 421.7V436.6" stroke="#000" stroke-width="1.7" fill="none"/><path d="M1062.1 436.6L1066.6 446.6L1071.1 436.6Z" fill="#000"/>
<path d="M1219.6 441.6V423.5" stroke="#000" stroke-width="1.7" fill="none"/><path d="M1215.1 423.5L1219.6 413.5L1224.1 423.5Z" fill="#000"/>
<path d="M1270.4 413.5V431.6" stroke="#000" stroke-width="1.7" fill="none"/><path d="M1265.9 431.6L1270.4 441.6L1274.9 431.6Z" fill="#000"/>
<text x="1121" y="439.8" font-size="24.3" text-anchor="start" fill="#000" stroke="#000" stroke-width="0.28" textLength="93.5" lengthAdjust="spacingAndGlyphs" font-family="Liberation Sans, Arial, sans-serif">Light On</text>
<text x="1222.5" y="439.8" font-size="24.3" text-anchor="start" fill="#000" stroke="#000" stroke-width="0.28" textLength="40.5" lengthAdjust="spacingAndGlyphs" font-family="Liberation Sans, Arial, sans-serif">/Off</text>
</svg>
</body></html>
